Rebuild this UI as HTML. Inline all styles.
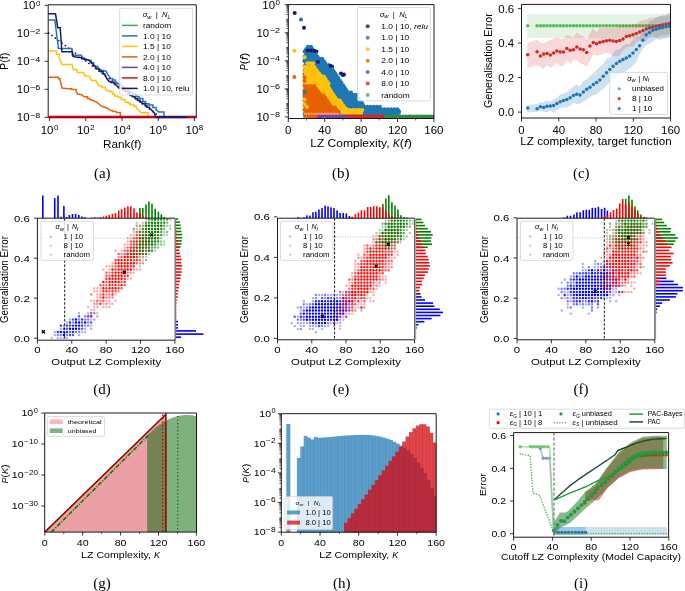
<!DOCTYPE html>
<html><head><meta charset="utf-8"><title>figure</title>
<style>html,body{margin:0;padding:0;background:#fff;overflow:hidden}svg{display:block;will-change:transform}</style>
</head><body>
<svg width="685" height="591" viewBox="0 0 685 591" shape-rendering="auto">
<rect width="685" height="591" fill="#fff"/>
<g>
<clipPath id="cpa"><rect x="48.2" y="4.8" width="148.10000000000002" height="113.39999999999999"/></clipPath>
<g clip-path="url(#cpa)">
<polyline points="48.6,33 160.5,117.3" fill="none" stroke="#2a1a6e" stroke-width="1.8" stroke-linejoin="round" stroke-linecap="round" stroke-dasharray="0.01,4.2"/>
<polyline points="48.2,77.2 55.8,77.2 58.4,77.2 58.4,78.74 59.9,78.74 59.9,79.2 61.9,88 68,88.7 71.52,88.7 71.52,89.55 76.1,89.55 76.1,91.4 77.5,94.1 81.5,94.8 84.5,96.8 87.5,96.8 87.5,98.43 89.7,98.43 89.7,99.5 93,100.5 96.4,102.2 99.5,104.5 101.8,106.3 105,107.3 108.6,109 110.5,110.5 112.3,110.5 113,111.5 116,111.5 116.5,112.6 120.3,112.6 120.3,118" fill="none" stroke="#E66100" stroke-width="1.5" stroke-linejoin="miter" stroke-linecap="butt"/>
<polyline points="48.2,51 54.5,51 56.54,51 56.54,54.35 59.2,54.35 59.2,57.6 61.9,64.4 72.1,64.4 73.4,69.8 76.8,69.8 77.5,72.5 83.6,72.5 84.9,75.9 89,75.9 91.7,80.6 95.7,80.6 99.1,86 101.99,86 101.99,87.47 105.2,87.47 105.2,88.7 108,91 110.5,91 110.5,92.03 112.7,92.03 112.7,94.1 114.77,94.1 114.77,96.05 118,96.05 118,97.2 121.21,97.2 121.21,99.38 125,99.38 125,102.2 128.09,102.2 128.09,103.31 130,103.31 130,104.5 133.55,104.5 133.55,106.27 136.3,106.27 136.3,108.1 139,110.5 141.5,112.7 148.1,112.7 148.1,118" fill="none" stroke="#FFC20A" stroke-width="1.5" stroke-linejoin="miter" stroke-linecap="butt"/>
<polyline points="48.2,20 54.9,20 58.4,48.5 71.9,48.5 72.3,55.3 81.5,55.3 82,56.9 85.5,58.9 89.6,60.4 91.33,60.4 91.33,62.72 93.7,62.72 93.7,66 95.63,66 95.63,66.39 97.8,66.39 97.8,67.6 100.9,70.1 106,71.2 108,74.7 111.1,78.8 112.63,78.8 112.63,79.98 115.2,79.98 115.2,81.4 118.2,83.9 121.6,83.9 121.6,86.56 124,86.56 124,88.5 127.32,88.5 127.32,90.17 130,90.17 130,92.5 133.04,92.5 133.04,94.23 136,94.23 136,96.5 139.06,96.5 139.06,98.53 142.9,98.53 142.9,101.5 145.61,101.5 145.61,103.76 149,103.76 149,105 152.89,105 152.89,107.57 156,107.57 156,109.4 158.6,112 163.9,112 163.9,118" fill="none" stroke="#1f77b4" stroke-width="1.5" stroke-linejoin="miter" stroke-linecap="butt"/>
<polyline points="48.2,13.8 55.5,13.8 57.8,27.8 60.2,27.8 61.9,51.7 72.4,51.7 73,56.4 78.4,57.4 81.6,57.4 81.6,58.69 84.5,58.69 84.5,59.4 88.6,59.9 90.6,62 92.7,64 95.2,66.6 96.8,69.1 99.2,69.1 99.2,70.93 100.9,70.93 100.9,71.7 103.19,71.7 103.19,73.96 104.9,73.96 104.9,75.2 107,78.8 109,81.4 110.98,81.4 110.98,82.61 114.1,82.61 114.1,83.9 117.2,86 118.7,88 122.38,88 122.38,89.93 125,89.93 125,91.5 127.98,91.5 127.98,93.04 130,93.04 130,95.5 132.46,95.5 132.46,96.7 135,96.7 135,98.5 137.55,98.5 137.55,100.34 140,100.34 140,102 141.92,102 141.92,103.41 145,103.41 145,105.5 146.94,105.5 146.94,107.3 149.4,107.3 149.4,108.1 152,110.5 154.7,113.4 155.3,117.3 186.9,117.3" fill="none" stroke="#191970" stroke-width="1.5" stroke-linejoin="miter" stroke-linecap="butt"/>
</g>
<line x1="48.2" y1="4.8" x2="48.2" y2="117.6" stroke="#000" stroke-width="0.9" stroke-linecap="butt"/>
<line x1="196.3" y1="4.8" x2="196.3" y2="117.6" stroke="#000" stroke-width="0.9" stroke-linecap="butt"/>
<line x1="48.2" y1="4.8" x2="196.3" y2="4.8" stroke="#000" stroke-width="0.9" stroke-linecap="butt"/>
<line x1="48.2" y1="117.6" x2="196.3" y2="117.6" stroke="#000" stroke-width="0.9" stroke-linecap="butt"/>
<line x1="48.5" y1="117" x2="196.3" y2="117" stroke="#c4001a" stroke-width="2.4" stroke-linecap="butt"/>
<line x1="155.3" y1="117.1" x2="186.9" y2="117.1" stroke="#191970" stroke-width="2" stroke-linecap="butt"/>
<line x1="49.6" y1="117.6" x2="49.6" y2="121.1" stroke="#000" stroke-width="0.8" stroke-linecap="butt"/>
<text x="40.76" y="133.6" font-family='"Liberation Sans", sans-serif' font-size="10.8" text-anchor="start" fill="#000" textLength="12.72" lengthAdjust="spacingAndGlyphs">10</text>
<text x="53.99" y="129.8" font-family='"Liberation Sans", sans-serif' font-size="7.56" text-anchor="start" fill="#000" textLength="4.45" lengthAdjust="spacingAndGlyphs">0</text>
<line x1="85.8" y1="117.6" x2="85.8" y2="121.1" stroke="#000" stroke-width="0.8" stroke-linecap="butt"/>
<text x="76.96" y="133.6" font-family='"Liberation Sans", sans-serif' font-size="10.8" text-anchor="start" fill="#000" textLength="12.72" lengthAdjust="spacingAndGlyphs">10</text>
<text x="90.19" y="129.8" font-family='"Liberation Sans", sans-serif' font-size="7.56" text-anchor="start" fill="#000" textLength="4.45" lengthAdjust="spacingAndGlyphs">2</text>
<line x1="122" y1="117.6" x2="122" y2="121.1" stroke="#000" stroke-width="0.8" stroke-linecap="butt"/>
<text x="113.16" y="133.6" font-family='"Liberation Sans", sans-serif' font-size="10.8" text-anchor="start" fill="#000" textLength="12.72" lengthAdjust="spacingAndGlyphs">10</text>
<text x="126.39" y="129.8" font-family='"Liberation Sans", sans-serif' font-size="7.56" text-anchor="start" fill="#000" textLength="4.45" lengthAdjust="spacingAndGlyphs">4</text>
<line x1="158.2" y1="117.6" x2="158.2" y2="121.1" stroke="#000" stroke-width="0.8" stroke-linecap="butt"/>
<text x="149.36" y="133.6" font-family='"Liberation Sans", sans-serif' font-size="10.8" text-anchor="start" fill="#000" textLength="12.72" lengthAdjust="spacingAndGlyphs">10</text>
<text x="162.59" y="129.8" font-family='"Liberation Sans", sans-serif' font-size="7.56" text-anchor="start" fill="#000" textLength="4.45" lengthAdjust="spacingAndGlyphs">6</text>
<line x1="194.4" y1="117.6" x2="194.4" y2="121.1" stroke="#000" stroke-width="0.8" stroke-linecap="butt"/>
<text x="185.56" y="133.6" font-family='"Liberation Sans", sans-serif' font-size="10.8" text-anchor="start" fill="#000" textLength="12.72" lengthAdjust="spacingAndGlyphs">10</text>
<text x="198.79" y="129.8" font-family='"Liberation Sans", sans-serif' font-size="7.56" text-anchor="start" fill="#000" textLength="4.45" lengthAdjust="spacingAndGlyphs">8</text>
<line x1="44.7" y1="5.3" x2="48.2" y2="5.3" stroke="#000" stroke-width="0.8" stroke-linecap="butt"/>
<text x="22.72" y="9.4" font-family='"Liberation Sans", sans-serif' font-size="10.8" text-anchor="start" fill="#000" textLength="12.72" lengthAdjust="spacingAndGlyphs">10</text>
<text x="35.95" y="5.6" font-family='"Liberation Sans", sans-serif' font-size="7.56" text-anchor="start" fill="#000" textLength="4.45" lengthAdjust="spacingAndGlyphs">0</text>
<line x1="44.7" y1="33.3" x2="48.2" y2="33.3" stroke="#000" stroke-width="0.8" stroke-linecap="butt"/>
<text x="16.86" y="37.4" font-family='"Liberation Sans", sans-serif' font-size="10.8" text-anchor="start" fill="#000" textLength="12.72" lengthAdjust="spacingAndGlyphs">10</text>
<text x="30.08" y="33.6" font-family='"Liberation Sans", sans-serif' font-size="7.56" text-anchor="start" fill="#000" textLength="10.32" lengthAdjust="spacingAndGlyphs">−2</text>
<line x1="44.7" y1="61.3" x2="48.2" y2="61.3" stroke="#000" stroke-width="0.8" stroke-linecap="butt"/>
<text x="16.86" y="65.4" font-family='"Liberation Sans", sans-serif' font-size="10.8" text-anchor="start" fill="#000" textLength="12.72" lengthAdjust="spacingAndGlyphs">10</text>
<text x="30.08" y="61.6" font-family='"Liberation Sans", sans-serif' font-size="7.56" text-anchor="start" fill="#000" textLength="10.32" lengthAdjust="spacingAndGlyphs">−4</text>
<line x1="44.7" y1="89.3" x2="48.2" y2="89.3" stroke="#000" stroke-width="0.8" stroke-linecap="butt"/>
<text x="16.86" y="93.4" font-family='"Liberation Sans", sans-serif' font-size="10.8" text-anchor="start" fill="#000" textLength="12.72" lengthAdjust="spacingAndGlyphs">10</text>
<text x="30.08" y="89.6" font-family='"Liberation Sans", sans-serif' font-size="7.56" text-anchor="start" fill="#000" textLength="10.32" lengthAdjust="spacingAndGlyphs">−6</text>
<line x1="44.7" y1="117.3" x2="48.2" y2="117.3" stroke="#000" stroke-width="0.8" stroke-linecap="butt"/>
<text x="16.86" y="121.4" font-family='"Liberation Sans", sans-serif' font-size="10.8" text-anchor="start" fill="#000" textLength="12.72" lengthAdjust="spacingAndGlyphs">10</text>
<text x="30.08" y="117.6" font-family='"Liberation Sans", sans-serif' font-size="7.56" text-anchor="start" fill="#000" textLength="10.32" lengthAdjust="spacingAndGlyphs">−8</text>
<text x="122.3" y="147.8" font-family='"Liberation Sans", sans-serif' font-size="11.45" text-anchor="middle" fill="#000" textLength="38.49" lengthAdjust="spacingAndGlyphs">Rank(f)</text>
<text x="8.4" y="61.3" font-family='"Liberation Sans", sans-serif' font-size="10.8" text-anchor="middle" fill="#000" textLength="17.35" lengthAdjust="spacingAndGlyphs" transform="rotate(-90 8.4 61.3)">P(f)</text>
<rect x="119.6" y="8.2" width="72.9" height="86.8" rx="1.5" fill="#fff" fill-opacity="0.8" stroke="#cccccc" stroke-width="0.7"/>
<text x="142.65" y="17.4" font-family='"Liberation Sans", sans-serif' font-size="7.88" text-anchor="start" fill="#000" font-style="italic" textLength="4.63" lengthAdjust="spacingAndGlyphs">σ</text>
<text x="147.28" y="18.86" font-family='"Liberation Sans", sans-serif' font-size="5.52" text-anchor="start" fill="#000" font-style="italic" textLength="4.18" lengthAdjust="spacingAndGlyphs">w</text>
<text x="156.75" y="17.4" font-family='"Liberation Sans", sans-serif' font-size="7.88" text-anchor="middle" fill="#000">|</text>
<text x="162.04" y="17.4" font-family='"Liberation Sans", sans-serif' font-size="7.88" text-anchor="start" fill="#000" font-style="italic" textLength="5.46" lengthAdjust="spacingAndGlyphs">N</text>
<text x="167.5" y="18.86" font-family='"Liberation Sans", sans-serif' font-size="5.52" text-anchor="start" fill="#000" font-style="italic" textLength="2.85" lengthAdjust="spacingAndGlyphs">L</text>
<line x1="121.9" y1="25.4" x2="137.7" y2="25.4" stroke="#44aa55" stroke-width="1.5" stroke-linecap="butt"/>
<text x="142.9" y="28" font-family='"Liberation Sans", sans-serif' font-size="7.88" text-anchor="start" fill="#000" textLength="28.31" lengthAdjust="spacingAndGlyphs">random</text>
<line x1="121.9" y1="35.9" x2="137.7" y2="35.9" stroke="#1f77b4" stroke-width="1.5" stroke-linecap="butt"/>
<text x="142.9" y="38.5" font-family='"Liberation Sans", sans-serif' font-size="7.88" text-anchor="start" fill="#000" textLength="28" lengthAdjust="spacingAndGlyphs">1.0 | 10</text>
<line x1="121.9" y1="46.4" x2="137.7" y2="46.4" stroke="#FFC20A" stroke-width="1.5" stroke-linecap="butt"/>
<text x="142.9" y="49" font-family='"Liberation Sans", sans-serif' font-size="7.88" text-anchor="start" fill="#000" textLength="28" lengthAdjust="spacingAndGlyphs">1.5 | 10</text>
<line x1="121.9" y1="56.9" x2="137.7" y2="56.9" stroke="#E66100" stroke-width="1.5" stroke-linecap="butt"/>
<text x="142.9" y="59.5" font-family='"Liberation Sans", sans-serif' font-size="7.88" text-anchor="start" fill="#000" textLength="28" lengthAdjust="spacingAndGlyphs">2.0 | 10</text>
<line x1="121.9" y1="67.4" x2="137.7" y2="67.4" stroke="#6a3d9a" stroke-width="1.5" stroke-linecap="butt"/>
<text x="142.9" y="70" font-family='"Liberation Sans", sans-serif' font-size="7.88" text-anchor="start" fill="#000" textLength="28" lengthAdjust="spacingAndGlyphs">4.0 | 10</text>
<line x1="121.9" y1="77.9" x2="137.7" y2="77.9" stroke="#d01020" stroke-width="1.5" stroke-linecap="butt"/>
<text x="142.9" y="80.5" font-family='"Liberation Sans", sans-serif' font-size="7.88" text-anchor="start" fill="#000" textLength="28" lengthAdjust="spacingAndGlyphs">8.0 | 10</text>
<line x1="121.9" y1="88.4" x2="137.7" y2="88.4" stroke="#191970" stroke-width="1.5" stroke-linecap="butt"/>
<text x="142.9" y="91" font-family='"Liberation Sans", sans-serif' font-size="7.88" text-anchor="start" fill="#000" textLength="46.63" lengthAdjust="spacingAndGlyphs">1.0 | 10, relu</text>
</g>
<g>
<clipPath id="cpb"><rect x="288.3" y="4.6" width="145.7" height="113.9"/></clipPath>
<g clip-path="url(#cpb)">
<circle cx="306" cy="50.2" r="2" fill="#191970"/>
<circle cx="309.5" cy="51" r="2" fill="#191970"/>
<circle cx="313" cy="50.5" r="2" fill="#191970"/>
<circle cx="316.5" cy="51.5" r="2" fill="#191970"/>
<circle cx="305.5" cy="58.5" r="2" fill="#191970"/>
<circle cx="307.5" cy="62" r="2" fill="#191970"/>
<circle cx="320.5" cy="61.5" r="2" fill="#191970"/>
<circle cx="324" cy="62" r="2" fill="#191970"/>
<circle cx="329" cy="65.3" r="2" fill="#191970"/>
<circle cx="332" cy="66.5" r="2" fill="#191970"/>
<circle cx="341" cy="73.5" r="2" fill="#191970"/>
<circle cx="344" cy="74.5" r="2" fill="#191970"/>
<circle cx="305.5" cy="84" r="2" fill="#191970"/>
<circle cx="308" cy="90" r="2" fill="#191970"/>
<circle cx="319" cy="96" r="2" fill="#191970"/>
<circle cx="330" cy="102" r="2" fill="#191970"/>
<circle cx="357" cy="95" r="2" fill="#191970"/>
<polygon points="304.6,49.5 306.5,46.8 312.5,46.8 314.5,49.5 316.5,55.5 321.5,57.8 324.5,61.5 327.5,64.5 331,65.8 335.5,71 337.5,74.8 340,78.5 343.5,84.5 348.5,90.5 352.5,92.5 356.5,95 358.5,99 363.5,101.5 365.5,106.2 380.5,106.2 381,109.2 400,109.2 400.5,112.2 400.5,114.5 304.6,114.5" fill="#1f77b4"/>
<circle cx="307.8" cy="46.8" r="2" fill="#1f77b4"/>
<circle cx="311" cy="46.8" r="2" fill="#1f77b4"/>
<circle cx="306.2" cy="49.2" r="2" fill="#1f77b4"/>
<circle cx="309.4" cy="49.2" r="2" fill="#1f77b4"/>
<circle cx="312.6" cy="49.2" r="2" fill="#1f77b4"/>
<circle cx="304.6" cy="51.6" r="2" fill="#1f77b4"/>
<circle cx="307.8" cy="51.6" r="2" fill="#1f77b4"/>
<circle cx="311" cy="51.6" r="2" fill="#1f77b4"/>
<circle cx="314.2" cy="51.6" r="2" fill="#1f77b4"/>
<circle cx="306.2" cy="54" r="2" fill="#1f77b4"/>
<circle cx="309.4" cy="54" r="2" fill="#1f77b4"/>
<circle cx="312.6" cy="54" r="2" fill="#1f77b4"/>
<circle cx="315.8" cy="54" r="2" fill="#1f77b4"/>
<circle cx="304.6" cy="56.4" r="2" fill="#1f77b4"/>
<circle cx="307.8" cy="56.4" r="2" fill="#1f77b4"/>
<circle cx="311" cy="56.4" r="2" fill="#1f77b4"/>
<circle cx="314.2" cy="56.4" r="2" fill="#1f77b4"/>
<circle cx="317.4" cy="56.4" r="2" fill="#1f77b4"/>
<circle cx="306.2" cy="58.8" r="2" fill="#1f77b4"/>
<circle cx="309.4" cy="58.8" r="2" fill="#1f77b4"/>
<circle cx="312.6" cy="58.8" r="2" fill="#1f77b4"/>
<circle cx="315.8" cy="58.8" r="2" fill="#1f77b4"/>
<circle cx="319" cy="58.8" r="2" fill="#1f77b4"/>
<circle cx="322.2" cy="58.8" r="2" fill="#1f77b4"/>
<circle cx="304.6" cy="61.2" r="2" fill="#1f77b4"/>
<circle cx="307.8" cy="61.2" r="2" fill="#1f77b4"/>
<circle cx="311" cy="61.2" r="2" fill="#1f77b4"/>
<circle cx="314.2" cy="61.2" r="2" fill="#1f77b4"/>
<circle cx="317.4" cy="61.2" r="2" fill="#1f77b4"/>
<circle cx="320.6" cy="61.2" r="2" fill="#1f77b4"/>
<circle cx="323.8" cy="61.2" r="2" fill="#1f77b4"/>
<circle cx="306.2" cy="63.6" r="2" fill="#1f77b4"/>
<circle cx="309.4" cy="63.6" r="2" fill="#1f77b4"/>
<circle cx="312.6" cy="63.6" r="2" fill="#1f77b4"/>
<circle cx="315.8" cy="63.6" r="2" fill="#1f77b4"/>
<circle cx="319" cy="63.6" r="2" fill="#1f77b4"/>
<circle cx="322.2" cy="63.6" r="2" fill="#1f77b4"/>
<circle cx="325.4" cy="63.6" r="2" fill="#1f77b4"/>
<circle cx="304.6" cy="66" r="2" fill="#1f77b4"/>
<circle cx="307.8" cy="66" r="2" fill="#1f77b4"/>
<circle cx="311" cy="66" r="2" fill="#1f77b4"/>
<circle cx="314.2" cy="66" r="2" fill="#1f77b4"/>
<circle cx="317.4" cy="66" r="2" fill="#1f77b4"/>
<circle cx="320.6" cy="66" r="2" fill="#1f77b4"/>
<circle cx="323.8" cy="66" r="2" fill="#1f77b4"/>
<circle cx="327" cy="66" r="2" fill="#1f77b4"/>
<circle cx="330.2" cy="66" r="2" fill="#1f77b4"/>
<circle cx="306.2" cy="68.4" r="2" fill="#1f77b4"/>
<circle cx="309.4" cy="68.4" r="2" fill="#1f77b4"/>
<circle cx="312.6" cy="68.4" r="2" fill="#1f77b4"/>
<circle cx="315.8" cy="68.4" r="2" fill="#1f77b4"/>
<circle cx="319" cy="68.4" r="2" fill="#1f77b4"/>
<circle cx="322.2" cy="68.4" r="2" fill="#1f77b4"/>
<circle cx="325.4" cy="68.4" r="2" fill="#1f77b4"/>
<circle cx="328.6" cy="68.4" r="2" fill="#1f77b4"/>
<circle cx="331.8" cy="68.4" r="2" fill="#1f77b4"/>
<circle cx="304.6" cy="70.8" r="2" fill="#1f77b4"/>
<circle cx="307.8" cy="70.8" r="2" fill="#1f77b4"/>
<circle cx="311" cy="70.8" r="2" fill="#1f77b4"/>
<circle cx="314.2" cy="70.8" r="2" fill="#1f77b4"/>
<circle cx="317.4" cy="70.8" r="2" fill="#1f77b4"/>
<circle cx="320.6" cy="70.8" r="2" fill="#1f77b4"/>
<circle cx="323.8" cy="70.8" r="2" fill="#1f77b4"/>
<circle cx="327" cy="70.8" r="2" fill="#1f77b4"/>
<circle cx="330.2" cy="70.8" r="2" fill="#1f77b4"/>
<circle cx="333.4" cy="70.8" r="2" fill="#1f77b4"/>
<circle cx="306.2" cy="73.2" r="2" fill="#1f77b4"/>
<circle cx="309.4" cy="73.2" r="2" fill="#1f77b4"/>
<circle cx="312.6" cy="73.2" r="2" fill="#1f77b4"/>
<circle cx="315.8" cy="73.2" r="2" fill="#1f77b4"/>
<circle cx="319" cy="73.2" r="2" fill="#1f77b4"/>
<circle cx="322.2" cy="73.2" r="2" fill="#1f77b4"/>
<circle cx="325.4" cy="73.2" r="2" fill="#1f77b4"/>
<circle cx="328.6" cy="73.2" r="2" fill="#1f77b4"/>
<circle cx="331.8" cy="73.2" r="2" fill="#1f77b4"/>
<circle cx="335" cy="73.2" r="2" fill="#1f77b4"/>
<circle cx="304.6" cy="75.6" r="2" fill="#1f77b4"/>
<circle cx="307.8" cy="75.6" r="2" fill="#1f77b4"/>
<circle cx="311" cy="75.6" r="2" fill="#1f77b4"/>
<circle cx="314.2" cy="75.6" r="2" fill="#1f77b4"/>
<circle cx="317.4" cy="75.6" r="2" fill="#1f77b4"/>
<circle cx="320.6" cy="75.6" r="2" fill="#1f77b4"/>
<circle cx="323.8" cy="75.6" r="2" fill="#1f77b4"/>
<circle cx="327" cy="75.6" r="2" fill="#1f77b4"/>
<circle cx="330.2" cy="75.6" r="2" fill="#1f77b4"/>
<circle cx="333.4" cy="75.6" r="2" fill="#1f77b4"/>
<circle cx="336.6" cy="75.6" r="2" fill="#1f77b4"/>
<circle cx="306.2" cy="78" r="2" fill="#1f77b4"/>
<circle cx="309.4" cy="78" r="2" fill="#1f77b4"/>
<circle cx="312.6" cy="78" r="2" fill="#1f77b4"/>
<circle cx="315.8" cy="78" r="2" fill="#1f77b4"/>
<circle cx="319" cy="78" r="2" fill="#1f77b4"/>
<circle cx="322.2" cy="78" r="2" fill="#1f77b4"/>
<circle cx="325.4" cy="78" r="2" fill="#1f77b4"/>
<circle cx="328.6" cy="78" r="2" fill="#1f77b4"/>
<circle cx="331.8" cy="78" r="2" fill="#1f77b4"/>
<circle cx="335" cy="78" r="2" fill="#1f77b4"/>
<circle cx="338.2" cy="78" r="2" fill="#1f77b4"/>
<circle cx="304.6" cy="80.4" r="2" fill="#1f77b4"/>
<circle cx="307.8" cy="80.4" r="2" fill="#1f77b4"/>
<circle cx="311" cy="80.4" r="2" fill="#1f77b4"/>
<circle cx="314.2" cy="80.4" r="2" fill="#1f77b4"/>
<circle cx="317.4" cy="80.4" r="2" fill="#1f77b4"/>
<circle cx="320.6" cy="80.4" r="2" fill="#1f77b4"/>
<circle cx="323.8" cy="80.4" r="2" fill="#1f77b4"/>
<circle cx="327" cy="80.4" r="2" fill="#1f77b4"/>
<circle cx="330.2" cy="80.4" r="2" fill="#1f77b4"/>
<circle cx="333.4" cy="80.4" r="2" fill="#1f77b4"/>
<circle cx="336.6" cy="80.4" r="2" fill="#1f77b4"/>
<circle cx="339.8" cy="80.4" r="2" fill="#1f77b4"/>
<circle cx="306.2" cy="82.8" r="2" fill="#1f77b4"/>
<circle cx="309.4" cy="82.8" r="2" fill="#1f77b4"/>
<circle cx="312.6" cy="82.8" r="2" fill="#1f77b4"/>
<circle cx="315.8" cy="82.8" r="2" fill="#1f77b4"/>
<circle cx="319" cy="82.8" r="2" fill="#1f77b4"/>
<circle cx="322.2" cy="82.8" r="2" fill="#1f77b4"/>
<circle cx="325.4" cy="82.8" r="2" fill="#1f77b4"/>
<circle cx="328.6" cy="82.8" r="2" fill="#1f77b4"/>
<circle cx="331.8" cy="82.8" r="2" fill="#1f77b4"/>
<circle cx="335" cy="82.8" r="2" fill="#1f77b4"/>
<circle cx="338.2" cy="82.8" r="2" fill="#1f77b4"/>
<circle cx="341.4" cy="82.8" r="2" fill="#1f77b4"/>
<circle cx="304.6" cy="85.2" r="2" fill="#1f77b4"/>
<circle cx="307.8" cy="85.2" r="2" fill="#1f77b4"/>
<circle cx="311" cy="85.2" r="2" fill="#1f77b4"/>
<circle cx="314.2" cy="85.2" r="2" fill="#1f77b4"/>
<circle cx="317.4" cy="85.2" r="2" fill="#1f77b4"/>
<circle cx="320.6" cy="85.2" r="2" fill="#1f77b4"/>
<circle cx="323.8" cy="85.2" r="2" fill="#1f77b4"/>
<circle cx="327" cy="85.2" r="2" fill="#1f77b4"/>
<circle cx="330.2" cy="85.2" r="2" fill="#1f77b4"/>
<circle cx="333.4" cy="85.2" r="2" fill="#1f77b4"/>
<circle cx="336.6" cy="85.2" r="2" fill="#1f77b4"/>
<circle cx="339.8" cy="85.2" r="2" fill="#1f77b4"/>
<circle cx="343" cy="85.2" r="2" fill="#1f77b4"/>
<circle cx="306.2" cy="87.6" r="2" fill="#1f77b4"/>
<circle cx="309.4" cy="87.6" r="2" fill="#1f77b4"/>
<circle cx="312.6" cy="87.6" r="2" fill="#1f77b4"/>
<circle cx="315.8" cy="87.6" r="2" fill="#1f77b4"/>
<circle cx="319" cy="87.6" r="2" fill="#1f77b4"/>
<circle cx="322.2" cy="87.6" r="2" fill="#1f77b4"/>
<circle cx="325.4" cy="87.6" r="2" fill="#1f77b4"/>
<circle cx="328.6" cy="87.6" r="2" fill="#1f77b4"/>
<circle cx="331.8" cy="87.6" r="2" fill="#1f77b4"/>
<circle cx="335" cy="87.6" r="2" fill="#1f77b4"/>
<circle cx="338.2" cy="87.6" r="2" fill="#1f77b4"/>
<circle cx="341.4" cy="87.6" r="2" fill="#1f77b4"/>
<circle cx="344.6" cy="87.6" r="2" fill="#1f77b4"/>
<circle cx="304.6" cy="90" r="2" fill="#1f77b4"/>
<circle cx="307.8" cy="90" r="2" fill="#1f77b4"/>
<circle cx="311" cy="90" r="2" fill="#1f77b4"/>
<circle cx="314.2" cy="90" r="2" fill="#1f77b4"/>
<circle cx="317.4" cy="90" r="2" fill="#1f77b4"/>
<circle cx="320.6" cy="90" r="2" fill="#1f77b4"/>
<circle cx="323.8" cy="90" r="2" fill="#1f77b4"/>
<circle cx="327" cy="90" r="2" fill="#1f77b4"/>
<circle cx="330.2" cy="90" r="2" fill="#1f77b4"/>
<circle cx="333.4" cy="90" r="2" fill="#1f77b4"/>
<circle cx="336.6" cy="90" r="2" fill="#1f77b4"/>
<circle cx="339.8" cy="90" r="2" fill="#1f77b4"/>
<circle cx="343" cy="90" r="2" fill="#1f77b4"/>
<circle cx="346.2" cy="90" r="2" fill="#1f77b4"/>
<circle cx="306.2" cy="92.4" r="2" fill="#1f77b4"/>
<circle cx="309.4" cy="92.4" r="2" fill="#1f77b4"/>
<circle cx="312.6" cy="92.4" r="2" fill="#1f77b4"/>
<circle cx="315.8" cy="92.4" r="2" fill="#1f77b4"/>
<circle cx="319" cy="92.4" r="2" fill="#1f77b4"/>
<circle cx="322.2" cy="92.4" r="2" fill="#1f77b4"/>
<circle cx="325.4" cy="92.4" r="2" fill="#1f77b4"/>
<circle cx="328.6" cy="92.4" r="2" fill="#1f77b4"/>
<circle cx="331.8" cy="92.4" r="2" fill="#1f77b4"/>
<circle cx="335" cy="92.4" r="2" fill="#1f77b4"/>
<circle cx="338.2" cy="92.4" r="2" fill="#1f77b4"/>
<circle cx="341.4" cy="92.4" r="2" fill="#1f77b4"/>
<circle cx="344.6" cy="92.4" r="2" fill="#1f77b4"/>
<circle cx="347.8" cy="92.4" r="2" fill="#1f77b4"/>
<circle cx="351" cy="92.4" r="2" fill="#1f77b4"/>
<circle cx="304.6" cy="94.8" r="2" fill="#1f77b4"/>
<circle cx="307.8" cy="94.8" r="2" fill="#1f77b4"/>
<circle cx="311" cy="94.8" r="2" fill="#1f77b4"/>
<circle cx="314.2" cy="94.8" r="2" fill="#1f77b4"/>
<circle cx="317.4" cy="94.8" r="2" fill="#1f77b4"/>
<circle cx="320.6" cy="94.8" r="2" fill="#1f77b4"/>
<circle cx="323.8" cy="94.8" r="2" fill="#1f77b4"/>
<circle cx="327" cy="94.8" r="2" fill="#1f77b4"/>
<circle cx="330.2" cy="94.8" r="2" fill="#1f77b4"/>
<circle cx="333.4" cy="94.8" r="2" fill="#1f77b4"/>
<circle cx="336.6" cy="94.8" r="2" fill="#1f77b4"/>
<circle cx="339.8" cy="94.8" r="2" fill="#1f77b4"/>
<circle cx="343" cy="94.8" r="2" fill="#1f77b4"/>
<circle cx="346.2" cy="94.8" r="2" fill="#1f77b4"/>
<circle cx="349.4" cy="94.8" r="2" fill="#1f77b4"/>
<circle cx="352.6" cy="94.8" r="2" fill="#1f77b4"/>
<circle cx="355.8" cy="94.8" r="2" fill="#1f77b4"/>
<circle cx="306.2" cy="97.2" r="2" fill="#1f77b4"/>
<circle cx="309.4" cy="97.2" r="2" fill="#1f77b4"/>
<circle cx="312.6" cy="97.2" r="2" fill="#1f77b4"/>
<circle cx="315.8" cy="97.2" r="2" fill="#1f77b4"/>
<circle cx="319" cy="97.2" r="2" fill="#1f77b4"/>
<circle cx="322.2" cy="97.2" r="2" fill="#1f77b4"/>
<circle cx="325.4" cy="97.2" r="2" fill="#1f77b4"/>
<circle cx="328.6" cy="97.2" r="2" fill="#1f77b4"/>
<circle cx="331.8" cy="97.2" r="2" fill="#1f77b4"/>
<circle cx="335" cy="97.2" r="2" fill="#1f77b4"/>
<circle cx="338.2" cy="97.2" r="2" fill="#1f77b4"/>
<circle cx="341.4" cy="97.2" r="2" fill="#1f77b4"/>
<circle cx="344.6" cy="97.2" r="2" fill="#1f77b4"/>
<circle cx="347.8" cy="97.2" r="2" fill="#1f77b4"/>
<circle cx="351" cy="97.2" r="2" fill="#1f77b4"/>
<circle cx="354.2" cy="97.2" r="2" fill="#1f77b4"/>
<circle cx="357.4" cy="97.2" r="2" fill="#1f77b4"/>
<circle cx="304.6" cy="99.6" r="2" fill="#1f77b4"/>
<circle cx="307.8" cy="99.6" r="2" fill="#1f77b4"/>
<circle cx="311" cy="99.6" r="2" fill="#1f77b4"/>
<circle cx="314.2" cy="99.6" r="2" fill="#1f77b4"/>
<circle cx="317.4" cy="99.6" r="2" fill="#1f77b4"/>
<circle cx="320.6" cy="99.6" r="2" fill="#1f77b4"/>
<circle cx="323.8" cy="99.6" r="2" fill="#1f77b4"/>
<circle cx="327" cy="99.6" r="2" fill="#1f77b4"/>
<circle cx="330.2" cy="99.6" r="2" fill="#1f77b4"/>
<circle cx="333.4" cy="99.6" r="2" fill="#1f77b4"/>
<circle cx="336.6" cy="99.6" r="2" fill="#1f77b4"/>
<circle cx="339.8" cy="99.6" r="2" fill="#1f77b4"/>
<circle cx="343" cy="99.6" r="2" fill="#1f77b4"/>
<circle cx="346.2" cy="99.6" r="2" fill="#1f77b4"/>
<circle cx="349.4" cy="99.6" r="2" fill="#1f77b4"/>
<circle cx="352.6" cy="99.6" r="2" fill="#1f77b4"/>
<circle cx="355.8" cy="99.6" r="2" fill="#1f77b4"/>
<circle cx="359" cy="99.6" r="2" fill="#1f77b4"/>
<circle cx="306.2" cy="102" r="2" fill="#1f77b4"/>
<circle cx="309.4" cy="102" r="2" fill="#1f77b4"/>
<circle cx="312.6" cy="102" r="2" fill="#1f77b4"/>
<circle cx="315.8" cy="102" r="2" fill="#1f77b4"/>
<circle cx="319" cy="102" r="2" fill="#1f77b4"/>
<circle cx="322.2" cy="102" r="2" fill="#1f77b4"/>
<circle cx="325.4" cy="102" r="2" fill="#1f77b4"/>
<circle cx="328.6" cy="102" r="2" fill="#1f77b4"/>
<circle cx="331.8" cy="102" r="2" fill="#1f77b4"/>
<circle cx="335" cy="102" r="2" fill="#1f77b4"/>
<circle cx="338.2" cy="102" r="2" fill="#1f77b4"/>
<circle cx="341.4" cy="102" r="2" fill="#1f77b4"/>
<circle cx="344.6" cy="102" r="2" fill="#1f77b4"/>
<circle cx="347.8" cy="102" r="2" fill="#1f77b4"/>
<circle cx="351" cy="102" r="2" fill="#1f77b4"/>
<circle cx="354.2" cy="102" r="2" fill="#1f77b4"/>
<circle cx="357.4" cy="102" r="2" fill="#1f77b4"/>
<circle cx="360.6" cy="102" r="2" fill="#1f77b4"/>
<circle cx="304.6" cy="104.4" r="2" fill="#1f77b4"/>
<circle cx="307.8" cy="104.4" r="2" fill="#1f77b4"/>
<circle cx="311" cy="104.4" r="2" fill="#1f77b4"/>
<circle cx="314.2" cy="104.4" r="2" fill="#1f77b4"/>
<circle cx="317.4" cy="104.4" r="2" fill="#1f77b4"/>
<circle cx="320.6" cy="104.4" r="2" fill="#1f77b4"/>
<circle cx="323.8" cy="104.4" r="2" fill="#1f77b4"/>
<circle cx="327" cy="104.4" r="2" fill="#1f77b4"/>
<circle cx="330.2" cy="104.4" r="2" fill="#1f77b4"/>
<circle cx="333.4" cy="104.4" r="2" fill="#1f77b4"/>
<circle cx="336.6" cy="104.4" r="2" fill="#1f77b4"/>
<circle cx="339.8" cy="104.4" r="2" fill="#1f77b4"/>
<circle cx="343" cy="104.4" r="2" fill="#1f77b4"/>
<circle cx="346.2" cy="104.4" r="2" fill="#1f77b4"/>
<circle cx="349.4" cy="104.4" r="2" fill="#1f77b4"/>
<circle cx="352.6" cy="104.4" r="2" fill="#1f77b4"/>
<circle cx="355.8" cy="104.4" r="2" fill="#1f77b4"/>
<circle cx="359" cy="104.4" r="2" fill="#1f77b4"/>
<circle cx="362.2" cy="104.4" r="2" fill="#1f77b4"/>
<circle cx="306.2" cy="106.8" r="2" fill="#1f77b4"/>
<circle cx="309.4" cy="106.8" r="2" fill="#1f77b4"/>
<circle cx="312.6" cy="106.8" r="2" fill="#1f77b4"/>
<circle cx="315.8" cy="106.8" r="2" fill="#1f77b4"/>
<circle cx="319" cy="106.8" r="2" fill="#1f77b4"/>
<circle cx="322.2" cy="106.8" r="2" fill="#1f77b4"/>
<circle cx="325.4" cy="106.8" r="2" fill="#1f77b4"/>
<circle cx="328.6" cy="106.8" r="2" fill="#1f77b4"/>
<circle cx="331.8" cy="106.8" r="2" fill="#1f77b4"/>
<circle cx="335" cy="106.8" r="2" fill="#1f77b4"/>
<circle cx="338.2" cy="106.8" r="2" fill="#1f77b4"/>
<circle cx="341.4" cy="106.8" r="2" fill="#1f77b4"/>
<circle cx="344.6" cy="106.8" r="2" fill="#1f77b4"/>
<circle cx="347.8" cy="106.8" r="2" fill="#1f77b4"/>
<circle cx="351" cy="106.8" r="2" fill="#1f77b4"/>
<circle cx="354.2" cy="106.8" r="2" fill="#1f77b4"/>
<circle cx="357.4" cy="106.8" r="2" fill="#1f77b4"/>
<circle cx="360.6" cy="106.8" r="2" fill="#1f77b4"/>
<circle cx="363.8" cy="106.8" r="2" fill="#1f77b4"/>
<circle cx="367" cy="106.8" r="2" fill="#1f77b4"/>
<circle cx="370.2" cy="106.8" r="2" fill="#1f77b4"/>
<circle cx="373.4" cy="106.8" r="2" fill="#1f77b4"/>
<circle cx="376.6" cy="106.8" r="2" fill="#1f77b4"/>
<circle cx="379.8" cy="106.8" r="2" fill="#1f77b4"/>
<circle cx="304.6" cy="109.2" r="2" fill="#1f77b4"/>
<circle cx="307.8" cy="109.2" r="2" fill="#1f77b4"/>
<circle cx="311" cy="109.2" r="2" fill="#1f77b4"/>
<circle cx="314.2" cy="109.2" r="2" fill="#1f77b4"/>
<circle cx="317.4" cy="109.2" r="2" fill="#1f77b4"/>
<circle cx="320.6" cy="109.2" r="2" fill="#1f77b4"/>
<circle cx="323.8" cy="109.2" r="2" fill="#1f77b4"/>
<circle cx="327" cy="109.2" r="2" fill="#1f77b4"/>
<circle cx="330.2" cy="109.2" r="2" fill="#1f77b4"/>
<circle cx="333.4" cy="109.2" r="2" fill="#1f77b4"/>
<circle cx="336.6" cy="109.2" r="2" fill="#1f77b4"/>
<circle cx="339.8" cy="109.2" r="2" fill="#1f77b4"/>
<circle cx="343" cy="109.2" r="2" fill="#1f77b4"/>
<circle cx="346.2" cy="109.2" r="2" fill="#1f77b4"/>
<circle cx="349.4" cy="109.2" r="2" fill="#1f77b4"/>
<circle cx="352.6" cy="109.2" r="2" fill="#1f77b4"/>
<circle cx="355.8" cy="109.2" r="2" fill="#1f77b4"/>
<circle cx="359" cy="109.2" r="2" fill="#1f77b4"/>
<circle cx="362.2" cy="109.2" r="2" fill="#1f77b4"/>
<circle cx="365.4" cy="109.2" r="2" fill="#1f77b4"/>
<circle cx="368.6" cy="109.2" r="2" fill="#1f77b4"/>
<circle cx="371.8" cy="109.2" r="2" fill="#1f77b4"/>
<circle cx="375" cy="109.2" r="2" fill="#1f77b4"/>
<circle cx="378.2" cy="109.2" r="2" fill="#1f77b4"/>
<circle cx="381.4" cy="109.2" r="2" fill="#1f77b4"/>
<circle cx="384.6" cy="109.2" r="2" fill="#1f77b4"/>
<circle cx="387.8" cy="109.2" r="2" fill="#1f77b4"/>
<circle cx="391" cy="109.2" r="2" fill="#1f77b4"/>
<circle cx="394.2" cy="109.2" r="2" fill="#1f77b4"/>
<circle cx="397.4" cy="109.2" r="2" fill="#1f77b4"/>
<circle cx="306.2" cy="111.6" r="2" fill="#1f77b4"/>
<circle cx="309.4" cy="111.6" r="2" fill="#1f77b4"/>
<circle cx="312.6" cy="111.6" r="2" fill="#1f77b4"/>
<circle cx="315.8" cy="111.6" r="2" fill="#1f77b4"/>
<circle cx="319" cy="111.6" r="2" fill="#1f77b4"/>
<circle cx="322.2" cy="111.6" r="2" fill="#1f77b4"/>
<circle cx="325.4" cy="111.6" r="2" fill="#1f77b4"/>
<circle cx="328.6" cy="111.6" r="2" fill="#1f77b4"/>
<circle cx="331.8" cy="111.6" r="2" fill="#1f77b4"/>
<circle cx="335" cy="111.6" r="2" fill="#1f77b4"/>
<circle cx="338.2" cy="111.6" r="2" fill="#1f77b4"/>
<circle cx="341.4" cy="111.6" r="2" fill="#1f77b4"/>
<circle cx="344.6" cy="111.6" r="2" fill="#1f77b4"/>
<circle cx="347.8" cy="111.6" r="2" fill="#1f77b4"/>
<circle cx="351" cy="111.6" r="2" fill="#1f77b4"/>
<circle cx="354.2" cy="111.6" r="2" fill="#1f77b4"/>
<circle cx="357.4" cy="111.6" r="2" fill="#1f77b4"/>
<circle cx="360.6" cy="111.6" r="2" fill="#1f77b4"/>
<circle cx="363.8" cy="111.6" r="2" fill="#1f77b4"/>
<circle cx="367" cy="111.6" r="2" fill="#1f77b4"/>
<circle cx="370.2" cy="111.6" r="2" fill="#1f77b4"/>
<circle cx="373.4" cy="111.6" r="2" fill="#1f77b4"/>
<circle cx="376.6" cy="111.6" r="2" fill="#1f77b4"/>
<circle cx="379.8" cy="111.6" r="2" fill="#1f77b4"/>
<circle cx="383" cy="111.6" r="2" fill="#1f77b4"/>
<circle cx="386.2" cy="111.6" r="2" fill="#1f77b4"/>
<circle cx="389.4" cy="111.6" r="2" fill="#1f77b4"/>
<circle cx="392.6" cy="111.6" r="2" fill="#1f77b4"/>
<circle cx="395.8" cy="111.6" r="2" fill="#1f77b4"/>
<circle cx="399" cy="111.6" r="2" fill="#1f77b4"/>
<circle cx="304.6" cy="114" r="2" fill="#1f77b4"/>
<circle cx="307.8" cy="114" r="2" fill="#1f77b4"/>
<circle cx="311" cy="114" r="2" fill="#1f77b4"/>
<circle cx="314.2" cy="114" r="2" fill="#1f77b4"/>
<circle cx="317.4" cy="114" r="2" fill="#1f77b4"/>
<circle cx="320.6" cy="114" r="2" fill="#1f77b4"/>
<circle cx="323.8" cy="114" r="2" fill="#1f77b4"/>
<circle cx="327" cy="114" r="2" fill="#1f77b4"/>
<circle cx="330.2" cy="114" r="2" fill="#1f77b4"/>
<circle cx="333.4" cy="114" r="2" fill="#1f77b4"/>
<circle cx="336.6" cy="114" r="2" fill="#1f77b4"/>
<circle cx="339.8" cy="114" r="2" fill="#1f77b4"/>
<circle cx="343" cy="114" r="2" fill="#1f77b4"/>
<circle cx="346.2" cy="114" r="2" fill="#1f77b4"/>
<circle cx="349.4" cy="114" r="2" fill="#1f77b4"/>
<circle cx="352.6" cy="114" r="2" fill="#1f77b4"/>
<circle cx="355.8" cy="114" r="2" fill="#1f77b4"/>
<circle cx="359" cy="114" r="2" fill="#1f77b4"/>
<circle cx="362.2" cy="114" r="2" fill="#1f77b4"/>
<circle cx="365.4" cy="114" r="2" fill="#1f77b4"/>
<circle cx="368.6" cy="114" r="2" fill="#1f77b4"/>
<circle cx="371.8" cy="114" r="2" fill="#1f77b4"/>
<circle cx="375" cy="114" r="2" fill="#1f77b4"/>
<circle cx="378.2" cy="114" r="2" fill="#1f77b4"/>
<circle cx="381.4" cy="114" r="2" fill="#1f77b4"/>
<circle cx="384.6" cy="114" r="2" fill="#1f77b4"/>
<circle cx="387.8" cy="114" r="2" fill="#1f77b4"/>
<circle cx="391" cy="114" r="2" fill="#1f77b4"/>
<circle cx="394.2" cy="114" r="2" fill="#1f77b4"/>
<circle cx="397.4" cy="114" r="2" fill="#1f77b4"/>
<circle cx="307.5" cy="50.5" r="1.9" fill="#191970"/>
<circle cx="311" cy="50.5" r="1.9" fill="#191970"/>
<circle cx="314.5" cy="51" r="1.9" fill="#191970"/>
<circle cx="318" cy="61.8" r="1.9" fill="#191970"/>
<circle cx="330.5" cy="66" r="1.9" fill="#191970"/>
<circle cx="343" cy="75.2" r="1.9" fill="#191970"/>
<circle cx="304.6" cy="60.5" r="2" fill="#1f77b4"/>
<circle cx="304.6" cy="73.5" r="2" fill="#1f77b4"/>
<circle cx="304.6" cy="93.5" r="2" fill="#1f77b4"/>
<circle cx="304.6" cy="97" r="2" fill="#1f77b4"/>
<polygon points="304.6,66.8 308.5,66.8 315.5,66.8 317.5,70 321.5,73.5 325.5,78.5 329.5,85 333.5,92 337.5,97.5 341.5,102.5 346.5,107 350,109 362.5,109.5 363,112.5 363,114.5 304.6,114.5" fill="#FFC20A"/>
<circle cx="304.6" cy="66.8" r="2" fill="#FFC20A"/>
<circle cx="307.8" cy="66.8" r="2" fill="#FFC20A"/>
<circle cx="311" cy="66.8" r="2" fill="#FFC20A"/>
<circle cx="314.2" cy="66.8" r="2" fill="#FFC20A"/>
<circle cx="306.2" cy="69.2" r="2" fill="#FFC20A"/>
<circle cx="309.4" cy="69.2" r="2" fill="#FFC20A"/>
<circle cx="312.6" cy="69.2" r="2" fill="#FFC20A"/>
<circle cx="315.8" cy="69.2" r="2" fill="#FFC20A"/>
<circle cx="304.6" cy="71.6" r="2" fill="#FFC20A"/>
<circle cx="307.8" cy="71.6" r="2" fill="#FFC20A"/>
<circle cx="311" cy="71.6" r="2" fill="#FFC20A"/>
<circle cx="314.2" cy="71.6" r="2" fill="#FFC20A"/>
<circle cx="317.4" cy="71.6" r="2" fill="#FFC20A"/>
<circle cx="306.2" cy="74" r="2" fill="#FFC20A"/>
<circle cx="309.4" cy="74" r="2" fill="#FFC20A"/>
<circle cx="312.6" cy="74" r="2" fill="#FFC20A"/>
<circle cx="315.8" cy="74" r="2" fill="#FFC20A"/>
<circle cx="319" cy="74" r="2" fill="#FFC20A"/>
<circle cx="304.6" cy="76.4" r="2" fill="#FFC20A"/>
<circle cx="307.8" cy="76.4" r="2" fill="#FFC20A"/>
<circle cx="311" cy="76.4" r="2" fill="#FFC20A"/>
<circle cx="314.2" cy="76.4" r="2" fill="#FFC20A"/>
<circle cx="317.4" cy="76.4" r="2" fill="#FFC20A"/>
<circle cx="320.6" cy="76.4" r="2" fill="#FFC20A"/>
<circle cx="323.8" cy="76.4" r="2" fill="#FFC20A"/>
<circle cx="306.2" cy="78.8" r="2" fill="#FFC20A"/>
<circle cx="309.4" cy="78.8" r="2" fill="#FFC20A"/>
<circle cx="312.6" cy="78.8" r="2" fill="#FFC20A"/>
<circle cx="315.8" cy="78.8" r="2" fill="#FFC20A"/>
<circle cx="319" cy="78.8" r="2" fill="#FFC20A"/>
<circle cx="322.2" cy="78.8" r="2" fill="#FFC20A"/>
<circle cx="325.4" cy="78.8" r="2" fill="#FFC20A"/>
<circle cx="304.6" cy="81.2" r="2" fill="#FFC20A"/>
<circle cx="307.8" cy="81.2" r="2" fill="#FFC20A"/>
<circle cx="311" cy="81.2" r="2" fill="#FFC20A"/>
<circle cx="314.2" cy="81.2" r="2" fill="#FFC20A"/>
<circle cx="317.4" cy="81.2" r="2" fill="#FFC20A"/>
<circle cx="320.6" cy="81.2" r="2" fill="#FFC20A"/>
<circle cx="323.8" cy="81.2" r="2" fill="#FFC20A"/>
<circle cx="327" cy="81.2" r="2" fill="#FFC20A"/>
<circle cx="306.2" cy="83.6" r="2" fill="#FFC20A"/>
<circle cx="309.4" cy="83.6" r="2" fill="#FFC20A"/>
<circle cx="312.6" cy="83.6" r="2" fill="#FFC20A"/>
<circle cx="315.8" cy="83.6" r="2" fill="#FFC20A"/>
<circle cx="319" cy="83.6" r="2" fill="#FFC20A"/>
<circle cx="322.2" cy="83.6" r="2" fill="#FFC20A"/>
<circle cx="325.4" cy="83.6" r="2" fill="#FFC20A"/>
<circle cx="328.6" cy="83.6" r="2" fill="#FFC20A"/>
<circle cx="304.6" cy="86" r="2" fill="#FFC20A"/>
<circle cx="307.8" cy="86" r="2" fill="#FFC20A"/>
<circle cx="311" cy="86" r="2" fill="#FFC20A"/>
<circle cx="314.2" cy="86" r="2" fill="#FFC20A"/>
<circle cx="317.4" cy="86" r="2" fill="#FFC20A"/>
<circle cx="320.6" cy="86" r="2" fill="#FFC20A"/>
<circle cx="323.8" cy="86" r="2" fill="#FFC20A"/>
<circle cx="327" cy="86" r="2" fill="#FFC20A"/>
<circle cx="306.2" cy="88.4" r="2" fill="#FFC20A"/>
<circle cx="309.4" cy="88.4" r="2" fill="#FFC20A"/>
<circle cx="312.6" cy="88.4" r="2" fill="#FFC20A"/>
<circle cx="315.8" cy="88.4" r="2" fill="#FFC20A"/>
<circle cx="319" cy="88.4" r="2" fill="#FFC20A"/>
<circle cx="322.2" cy="88.4" r="2" fill="#FFC20A"/>
<circle cx="325.4" cy="88.4" r="2" fill="#FFC20A"/>
<circle cx="328.6" cy="88.4" r="2" fill="#FFC20A"/>
<circle cx="304.6" cy="90.8" r="2" fill="#FFC20A"/>
<circle cx="307.8" cy="90.8" r="2" fill="#FFC20A"/>
<circle cx="311" cy="90.8" r="2" fill="#FFC20A"/>
<circle cx="314.2" cy="90.8" r="2" fill="#FFC20A"/>
<circle cx="317.4" cy="90.8" r="2" fill="#FFC20A"/>
<circle cx="320.6" cy="90.8" r="2" fill="#FFC20A"/>
<circle cx="323.8" cy="90.8" r="2" fill="#FFC20A"/>
<circle cx="327" cy="90.8" r="2" fill="#FFC20A"/>
<circle cx="330.2" cy="90.8" r="2" fill="#FFC20A"/>
<circle cx="306.2" cy="93.2" r="2" fill="#FFC20A"/>
<circle cx="309.4" cy="93.2" r="2" fill="#FFC20A"/>
<circle cx="312.6" cy="93.2" r="2" fill="#FFC20A"/>
<circle cx="315.8" cy="93.2" r="2" fill="#FFC20A"/>
<circle cx="319" cy="93.2" r="2" fill="#FFC20A"/>
<circle cx="322.2" cy="93.2" r="2" fill="#FFC20A"/>
<circle cx="325.4" cy="93.2" r="2" fill="#FFC20A"/>
<circle cx="328.6" cy="93.2" r="2" fill="#FFC20A"/>
<circle cx="331.8" cy="93.2" r="2" fill="#FFC20A"/>
<circle cx="304.6" cy="95.6" r="2" fill="#FFC20A"/>
<circle cx="307.8" cy="95.6" r="2" fill="#FFC20A"/>
<circle cx="311" cy="95.6" r="2" fill="#FFC20A"/>
<circle cx="314.2" cy="95.6" r="2" fill="#FFC20A"/>
<circle cx="317.4" cy="95.6" r="2" fill="#FFC20A"/>
<circle cx="320.6" cy="95.6" r="2" fill="#FFC20A"/>
<circle cx="323.8" cy="95.6" r="2" fill="#FFC20A"/>
<circle cx="327" cy="95.6" r="2" fill="#FFC20A"/>
<circle cx="330.2" cy="95.6" r="2" fill="#FFC20A"/>
<circle cx="333.4" cy="95.6" r="2" fill="#FFC20A"/>
<circle cx="306.2" cy="98" r="2" fill="#FFC20A"/>
<circle cx="309.4" cy="98" r="2" fill="#FFC20A"/>
<circle cx="312.6" cy="98" r="2" fill="#FFC20A"/>
<circle cx="315.8" cy="98" r="2" fill="#FFC20A"/>
<circle cx="319" cy="98" r="2" fill="#FFC20A"/>
<circle cx="322.2" cy="98" r="2" fill="#FFC20A"/>
<circle cx="325.4" cy="98" r="2" fill="#FFC20A"/>
<circle cx="328.6" cy="98" r="2" fill="#FFC20A"/>
<circle cx="331.8" cy="98" r="2" fill="#FFC20A"/>
<circle cx="335" cy="98" r="2" fill="#FFC20A"/>
<circle cx="304.6" cy="100.4" r="2" fill="#FFC20A"/>
<circle cx="307.8" cy="100.4" r="2" fill="#FFC20A"/>
<circle cx="311" cy="100.4" r="2" fill="#FFC20A"/>
<circle cx="314.2" cy="100.4" r="2" fill="#FFC20A"/>
<circle cx="317.4" cy="100.4" r="2" fill="#FFC20A"/>
<circle cx="320.6" cy="100.4" r="2" fill="#FFC20A"/>
<circle cx="323.8" cy="100.4" r="2" fill="#FFC20A"/>
<circle cx="327" cy="100.4" r="2" fill="#FFC20A"/>
<circle cx="330.2" cy="100.4" r="2" fill="#FFC20A"/>
<circle cx="333.4" cy="100.4" r="2" fill="#FFC20A"/>
<circle cx="336.6" cy="100.4" r="2" fill="#FFC20A"/>
<circle cx="339.8" cy="100.4" r="2" fill="#FFC20A"/>
<circle cx="306.2" cy="102.8" r="2" fill="#FFC20A"/>
<circle cx="309.4" cy="102.8" r="2" fill="#FFC20A"/>
<circle cx="312.6" cy="102.8" r="2" fill="#FFC20A"/>
<circle cx="315.8" cy="102.8" r="2" fill="#FFC20A"/>
<circle cx="319" cy="102.8" r="2" fill="#FFC20A"/>
<circle cx="322.2" cy="102.8" r="2" fill="#FFC20A"/>
<circle cx="325.4" cy="102.8" r="2" fill="#FFC20A"/>
<circle cx="328.6" cy="102.8" r="2" fill="#FFC20A"/>
<circle cx="331.8" cy="102.8" r="2" fill="#FFC20A"/>
<circle cx="335" cy="102.8" r="2" fill="#FFC20A"/>
<circle cx="338.2" cy="102.8" r="2" fill="#FFC20A"/>
<circle cx="341.4" cy="102.8" r="2" fill="#FFC20A"/>
<circle cx="304.6" cy="105.2" r="2" fill="#FFC20A"/>
<circle cx="307.8" cy="105.2" r="2" fill="#FFC20A"/>
<circle cx="311" cy="105.2" r="2" fill="#FFC20A"/>
<circle cx="314.2" cy="105.2" r="2" fill="#FFC20A"/>
<circle cx="317.4" cy="105.2" r="2" fill="#FFC20A"/>
<circle cx="320.6" cy="105.2" r="2" fill="#FFC20A"/>
<circle cx="323.8" cy="105.2" r="2" fill="#FFC20A"/>
<circle cx="327" cy="105.2" r="2" fill="#FFC20A"/>
<circle cx="330.2" cy="105.2" r="2" fill="#FFC20A"/>
<circle cx="333.4" cy="105.2" r="2" fill="#FFC20A"/>
<circle cx="336.6" cy="105.2" r="2" fill="#FFC20A"/>
<circle cx="339.8" cy="105.2" r="2" fill="#FFC20A"/>
<circle cx="343" cy="105.2" r="2" fill="#FFC20A"/>
<circle cx="306.2" cy="107.6" r="2" fill="#FFC20A"/>
<circle cx="309.4" cy="107.6" r="2" fill="#FFC20A"/>
<circle cx="312.6" cy="107.6" r="2" fill="#FFC20A"/>
<circle cx="315.8" cy="107.6" r="2" fill="#FFC20A"/>
<circle cx="319" cy="107.6" r="2" fill="#FFC20A"/>
<circle cx="322.2" cy="107.6" r="2" fill="#FFC20A"/>
<circle cx="325.4" cy="107.6" r="2" fill="#FFC20A"/>
<circle cx="328.6" cy="107.6" r="2" fill="#FFC20A"/>
<circle cx="331.8" cy="107.6" r="2" fill="#FFC20A"/>
<circle cx="335" cy="107.6" r="2" fill="#FFC20A"/>
<circle cx="338.2" cy="107.6" r="2" fill="#FFC20A"/>
<circle cx="341.4" cy="107.6" r="2" fill="#FFC20A"/>
<circle cx="344.6" cy="107.6" r="2" fill="#FFC20A"/>
<circle cx="304.6" cy="110" r="2" fill="#FFC20A"/>
<circle cx="307.8" cy="110" r="2" fill="#FFC20A"/>
<circle cx="311" cy="110" r="2" fill="#FFC20A"/>
<circle cx="314.2" cy="110" r="2" fill="#FFC20A"/>
<circle cx="317.4" cy="110" r="2" fill="#FFC20A"/>
<circle cx="320.6" cy="110" r="2" fill="#FFC20A"/>
<circle cx="323.8" cy="110" r="2" fill="#FFC20A"/>
<circle cx="327" cy="110" r="2" fill="#FFC20A"/>
<circle cx="330.2" cy="110" r="2" fill="#FFC20A"/>
<circle cx="333.4" cy="110" r="2" fill="#FFC20A"/>
<circle cx="336.6" cy="110" r="2" fill="#FFC20A"/>
<circle cx="339.8" cy="110" r="2" fill="#FFC20A"/>
<circle cx="343" cy="110" r="2" fill="#FFC20A"/>
<circle cx="346.2" cy="110" r="2" fill="#FFC20A"/>
<circle cx="349.4" cy="110" r="2" fill="#FFC20A"/>
<circle cx="352.6" cy="110" r="2" fill="#FFC20A"/>
<circle cx="355.8" cy="110" r="2" fill="#FFC20A"/>
<circle cx="359" cy="110" r="2" fill="#FFC20A"/>
<circle cx="362.2" cy="110" r="2" fill="#FFC20A"/>
<circle cx="306.2" cy="112.4" r="2" fill="#FFC20A"/>
<circle cx="309.4" cy="112.4" r="2" fill="#FFC20A"/>
<circle cx="312.6" cy="112.4" r="2" fill="#FFC20A"/>
<circle cx="315.8" cy="112.4" r="2" fill="#FFC20A"/>
<circle cx="319" cy="112.4" r="2" fill="#FFC20A"/>
<circle cx="322.2" cy="112.4" r="2" fill="#FFC20A"/>
<circle cx="325.4" cy="112.4" r="2" fill="#FFC20A"/>
<circle cx="328.6" cy="112.4" r="2" fill="#FFC20A"/>
<circle cx="331.8" cy="112.4" r="2" fill="#FFC20A"/>
<circle cx="335" cy="112.4" r="2" fill="#FFC20A"/>
<circle cx="338.2" cy="112.4" r="2" fill="#FFC20A"/>
<circle cx="341.4" cy="112.4" r="2" fill="#FFC20A"/>
<circle cx="344.6" cy="112.4" r="2" fill="#FFC20A"/>
<circle cx="347.8" cy="112.4" r="2" fill="#FFC20A"/>
<circle cx="351" cy="112.4" r="2" fill="#FFC20A"/>
<circle cx="354.2" cy="112.4" r="2" fill="#FFC20A"/>
<circle cx="357.4" cy="112.4" r="2" fill="#FFC20A"/>
<circle cx="360.6" cy="112.4" r="2" fill="#FFC20A"/>
<circle cx="304.6" cy="57.2" r="2" fill="#FFC20A"/>
<circle cx="307.5" cy="63.3" r="2" fill="#FFC20A"/>
<circle cx="310.5" cy="63.3" r="2" fill="#FFC20A"/>
<circle cx="313" cy="63.3" r="2" fill="#FFC20A"/>
<polygon points="304.6,86 306.5,86 315.5,86 317.5,88.5 320.5,91.5 325.5,97.5 330,103.5 335.5,107.5 340.5,110.5 340.5,114.5 304.6,114.5" fill="#E66100"/>
<circle cx="304.6" cy="86" r="2" fill="#E66100"/>
<circle cx="307.8" cy="86" r="2" fill="#E66100"/>
<circle cx="311" cy="86" r="2" fill="#E66100"/>
<circle cx="314.2" cy="86" r="2" fill="#E66100"/>
<circle cx="306.2" cy="88.4" r="2" fill="#E66100"/>
<circle cx="309.4" cy="88.4" r="2" fill="#E66100"/>
<circle cx="312.6" cy="88.4" r="2" fill="#E66100"/>
<circle cx="315.8" cy="88.4" r="2" fill="#E66100"/>
<circle cx="304.6" cy="90.8" r="2" fill="#E66100"/>
<circle cx="307.8" cy="90.8" r="2" fill="#E66100"/>
<circle cx="311" cy="90.8" r="2" fill="#E66100"/>
<circle cx="314.2" cy="90.8" r="2" fill="#E66100"/>
<circle cx="317.4" cy="90.8" r="2" fill="#E66100"/>
<circle cx="306.2" cy="93.2" r="2" fill="#E66100"/>
<circle cx="309.4" cy="93.2" r="2" fill="#E66100"/>
<circle cx="312.6" cy="93.2" r="2" fill="#E66100"/>
<circle cx="315.8" cy="93.2" r="2" fill="#E66100"/>
<circle cx="319" cy="93.2" r="2" fill="#E66100"/>
<circle cx="304.6" cy="95.6" r="2" fill="#E66100"/>
<circle cx="307.8" cy="95.6" r="2" fill="#E66100"/>
<circle cx="311" cy="95.6" r="2" fill="#E66100"/>
<circle cx="314.2" cy="95.6" r="2" fill="#E66100"/>
<circle cx="317.4" cy="95.6" r="2" fill="#E66100"/>
<circle cx="320.6" cy="95.6" r="2" fill="#E66100"/>
<circle cx="323.8" cy="95.6" r="2" fill="#E66100"/>
<circle cx="306.2" cy="98" r="2" fill="#E66100"/>
<circle cx="309.4" cy="98" r="2" fill="#E66100"/>
<circle cx="312.6" cy="98" r="2" fill="#E66100"/>
<circle cx="315.8" cy="98" r="2" fill="#E66100"/>
<circle cx="319" cy="98" r="2" fill="#E66100"/>
<circle cx="322.2" cy="98" r="2" fill="#E66100"/>
<circle cx="325.4" cy="98" r="2" fill="#E66100"/>
<circle cx="304.6" cy="100.4" r="2" fill="#E66100"/>
<circle cx="307.8" cy="100.4" r="2" fill="#E66100"/>
<circle cx="311" cy="100.4" r="2" fill="#E66100"/>
<circle cx="314.2" cy="100.4" r="2" fill="#E66100"/>
<circle cx="317.4" cy="100.4" r="2" fill="#E66100"/>
<circle cx="320.6" cy="100.4" r="2" fill="#E66100"/>
<circle cx="323.8" cy="100.4" r="2" fill="#E66100"/>
<circle cx="327" cy="100.4" r="2" fill="#E66100"/>
<circle cx="306.2" cy="102.8" r="2" fill="#E66100"/>
<circle cx="309.4" cy="102.8" r="2" fill="#E66100"/>
<circle cx="312.6" cy="102.8" r="2" fill="#E66100"/>
<circle cx="315.8" cy="102.8" r="2" fill="#E66100"/>
<circle cx="319" cy="102.8" r="2" fill="#E66100"/>
<circle cx="322.2" cy="102.8" r="2" fill="#E66100"/>
<circle cx="325.4" cy="102.8" r="2" fill="#E66100"/>
<circle cx="328.6" cy="102.8" r="2" fill="#E66100"/>
<circle cx="304.6" cy="105.2" r="2" fill="#E66100"/>
<circle cx="307.8" cy="105.2" r="2" fill="#E66100"/>
<circle cx="311" cy="105.2" r="2" fill="#E66100"/>
<circle cx="314.2" cy="105.2" r="2" fill="#E66100"/>
<circle cx="317.4" cy="105.2" r="2" fill="#E66100"/>
<circle cx="320.6" cy="105.2" r="2" fill="#E66100"/>
<circle cx="323.8" cy="105.2" r="2" fill="#E66100"/>
<circle cx="327" cy="105.2" r="2" fill="#E66100"/>
<circle cx="330.2" cy="105.2" r="2" fill="#E66100"/>
<circle cx="306.2" cy="107.6" r="2" fill="#E66100"/>
<circle cx="309.4" cy="107.6" r="2" fill="#E66100"/>
<circle cx="312.6" cy="107.6" r="2" fill="#E66100"/>
<circle cx="315.8" cy="107.6" r="2" fill="#E66100"/>
<circle cx="319" cy="107.6" r="2" fill="#E66100"/>
<circle cx="322.2" cy="107.6" r="2" fill="#E66100"/>
<circle cx="325.4" cy="107.6" r="2" fill="#E66100"/>
<circle cx="328.6" cy="107.6" r="2" fill="#E66100"/>
<circle cx="331.8" cy="107.6" r="2" fill="#E66100"/>
<circle cx="335" cy="107.6" r="2" fill="#E66100"/>
<circle cx="304.6" cy="110" r="2" fill="#E66100"/>
<circle cx="307.8" cy="110" r="2" fill="#E66100"/>
<circle cx="311" cy="110" r="2" fill="#E66100"/>
<circle cx="314.2" cy="110" r="2" fill="#E66100"/>
<circle cx="317.4" cy="110" r="2" fill="#E66100"/>
<circle cx="320.6" cy="110" r="2" fill="#E66100"/>
<circle cx="323.8" cy="110" r="2" fill="#E66100"/>
<circle cx="327" cy="110" r="2" fill="#E66100"/>
<circle cx="330.2" cy="110" r="2" fill="#E66100"/>
<circle cx="333.4" cy="110" r="2" fill="#E66100"/>
<circle cx="336.6" cy="110" r="2" fill="#E66100"/>
<circle cx="306.2" cy="112.4" r="2" fill="#E66100"/>
<circle cx="309.4" cy="112.4" r="2" fill="#E66100"/>
<circle cx="312.6" cy="112.4" r="2" fill="#E66100"/>
<circle cx="315.8" cy="112.4" r="2" fill="#E66100"/>
<circle cx="319" cy="112.4" r="2" fill="#E66100"/>
<circle cx="322.2" cy="112.4" r="2" fill="#E66100"/>
<circle cx="325.4" cy="112.4" r="2" fill="#E66100"/>
<circle cx="328.6" cy="112.4" r="2" fill="#E66100"/>
<circle cx="331.8" cy="112.4" r="2" fill="#E66100"/>
<circle cx="335" cy="112.4" r="2" fill="#E66100"/>
<circle cx="338.2" cy="112.4" r="2" fill="#E66100"/>
<circle cx="304.6" cy="77.5" r="2" fill="#E66100"/>
<circle cx="304.6" cy="81" r="2" fill="#E66100"/>
<circle cx="304.6" cy="99.5" r="1.9" fill="#FFC20A"/>
<circle cx="304.6" cy="104.5" r="1.9" fill="#FFC20A"/>
<circle cx="307" cy="107" r="1.9" fill="#FFC20A"/>
<circle cx="304.6" cy="92" r="1.9" fill="#1f77b4"/>
<circle cx="305.5" cy="114.3" r="1.7" fill="#f0a070"/>
<circle cx="308.7" cy="114.3" r="1.7" fill="#f0a070"/>
<circle cx="311.9" cy="114.3" r="1.7" fill="#f0a070"/>
<circle cx="315.1" cy="114.3" r="1.7" fill="#f0a070"/>
<circle cx="318.3" cy="114.3" r="1.7" fill="#f0a070"/>
<circle cx="321.5" cy="114.3" r="1.7" fill="#f0a070"/>
<circle cx="324.7" cy="114.3" r="1.7" fill="#f0a070"/>
<circle cx="327.9" cy="114.3" r="1.7" fill="#f0a070"/>
<circle cx="331.1" cy="114.3" r="1.7" fill="#f0a070"/>
<circle cx="334.3" cy="114.3" r="1.7" fill="#f0a070"/>
<circle cx="337.5" cy="114.3" r="1.7" fill="#f0a070"/>
<circle cx="294.7" cy="13.1" r="2" fill="#191970"/>
<circle cx="301" cy="19.4" r="2" fill="#1f77b4"/>
<circle cx="304" cy="27.7" r="2" fill="#191970"/>
<circle cx="294.4" cy="50.7" r="2" fill="#FFC20A"/>
<circle cx="294.4" cy="77" r="2" fill="#E66100"/>
<circle cx="305" cy="116.6" r="2" fill="#E66100"/>
<circle cx="307.8" cy="116.6" r="2" fill="#E66100"/>
<circle cx="310.6" cy="116.6" r="2" fill="#E66100"/>
<circle cx="313.4" cy="116.6" r="2" fill="#E66100"/>
<circle cx="316.2" cy="116.6" r="2" fill="#E66100"/>
<circle cx="319" cy="116.6" r="2" fill="#7b3fa8"/>
<circle cx="321.8" cy="116.6" r="2" fill="#7b3fa8"/>
<circle cx="324.6" cy="116.6" r="2" fill="#7b3fa8"/>
<circle cx="327.4" cy="116.6" r="2" fill="#7b3fa8"/>
<circle cx="330.2" cy="116.6" r="2" fill="#7b3fa8"/>
<circle cx="333" cy="116.6" r="2" fill="#7b3fa8"/>
<circle cx="335.8" cy="116.6" r="2" fill="#7b3fa8"/>
<circle cx="338.6" cy="116.6" r="2" fill="#7b3fa8"/>
<circle cx="341.4" cy="116.6" r="2" fill="#7b3fa8"/>
<circle cx="344.2" cy="116.6" r="2" fill="#7b3fa8"/>
<circle cx="347" cy="116.6" r="2" fill="#d62728"/>
<circle cx="349.8" cy="116.6" r="2" fill="#d62728"/>
<circle cx="352.6" cy="116.6" r="2" fill="#d62728"/>
<circle cx="355.4" cy="116.6" r="2" fill="#d62728"/>
<circle cx="358.2" cy="116.6" r="2" fill="#d62728"/>
<circle cx="361" cy="116.6" r="2" fill="#d62728"/>
<circle cx="363.8" cy="116.6" r="2" fill="#d62728"/>
<circle cx="366.6" cy="116.6" r="2" fill="#d62728"/>
<circle cx="369.4" cy="116.6" r="2" fill="#d62728"/>
<circle cx="372.2" cy="116.6" r="2" fill="#d62728"/>
<circle cx="375" cy="116.6" r="2" fill="#d62728"/>
<circle cx="377.8" cy="116.6" r="2" fill="#d62728"/>
<circle cx="380.6" cy="116.6" r="2" fill="#d62728"/>
<circle cx="383.4" cy="116.6" r="2" fill="#d62728"/>
<circle cx="386.2" cy="116.6" r="2" fill="#2e8b3a"/>
<circle cx="389" cy="116.6" r="2" fill="#2e8b3a"/>
<circle cx="391.8" cy="116.6" r="2" fill="#2e8b3a"/>
<circle cx="394.6" cy="116.6" r="2" fill="#2e8b3a"/>
<circle cx="397.4" cy="116.6" r="2" fill="#2e8b3a"/>
<circle cx="400.2" cy="116.6" r="2" fill="#2e8b3a"/>
<circle cx="403" cy="116.6" r="2" fill="#2e8b3a"/>
<circle cx="405.8" cy="116.6" r="2" fill="#2e8b3a"/>
<circle cx="408.6" cy="116.6" r="2" fill="#2e8b3a"/>
<circle cx="411.4" cy="116.6" r="2" fill="#2e8b3a"/>
<circle cx="414.2" cy="116.6" r="2" fill="#2e8b3a"/>
<circle cx="417" cy="116.6" r="2" fill="#2e8b3a"/>
<circle cx="419.8" cy="116.6" r="2" fill="#2e8b3a"/>
<circle cx="422.6" cy="116.6" r="2" fill="#2e8b3a"/>
<circle cx="425.4" cy="116.6" r="2" fill="#2e8b3a"/>
<circle cx="428.2" cy="116.6" r="2" fill="#2e8b3a"/>
<circle cx="431" cy="116.6" r="2" fill="#2e8b3a"/>
<circle cx="433.8" cy="116.6" r="2" fill="#2e8b3a"/>
</g>
<line x1="288.3" y1="4.6" x2="288.3" y2="118.5" stroke="#000" stroke-width="0.9" stroke-linecap="butt"/>
<line x1="434" y1="4.6" x2="434" y2="118.5" stroke="#000" stroke-width="0.9" stroke-linecap="butt"/>
<line x1="288.3" y1="4.6" x2="434" y2="4.6" stroke="#000" stroke-width="0.9" stroke-linecap="butt"/>
<line x1="288.3" y1="118.5" x2="434" y2="118.5" stroke="#000" stroke-width="0.9" stroke-linecap="butt"/>
<line x1="288.3" y1="118.5" x2="288.3" y2="122" stroke="#000" stroke-width="0.8" stroke-linecap="butt"/>
<text x="288.3" y="133.6" font-family='"Liberation Sans", sans-serif' font-size="10.8" text-anchor="middle" fill="#000" textLength="6.36" lengthAdjust="spacingAndGlyphs">0</text>
<line x1="324.7" y1="118.5" x2="324.7" y2="122" stroke="#000" stroke-width="0.8" stroke-linecap="butt"/>
<text x="324.7" y="133.6" font-family='"Liberation Sans", sans-serif' font-size="10.8" text-anchor="middle" fill="#000" textLength="12.72" lengthAdjust="spacingAndGlyphs">40</text>
<line x1="361.1" y1="118.5" x2="361.1" y2="122" stroke="#000" stroke-width="0.8" stroke-linecap="butt"/>
<text x="361.1" y="133.6" font-family='"Liberation Sans", sans-serif' font-size="10.8" text-anchor="middle" fill="#000" textLength="12.72" lengthAdjust="spacingAndGlyphs">80</text>
<line x1="397.5" y1="118.5" x2="397.5" y2="122" stroke="#000" stroke-width="0.8" stroke-linecap="butt"/>
<text x="397.5" y="133.6" font-family='"Liberation Sans", sans-serif' font-size="10.8" text-anchor="middle" fill="#000" textLength="19.09" lengthAdjust="spacingAndGlyphs">120</text>
<line x1="433.9" y1="118.5" x2="433.9" y2="122" stroke="#000" stroke-width="0.8" stroke-linecap="butt"/>
<text x="433.9" y="133.6" font-family='"Liberation Sans", sans-serif' font-size="10.8" text-anchor="middle" fill="#000" textLength="19.09" lengthAdjust="spacingAndGlyphs">160</text>
<line x1="306.5" y1="118.5" x2="306.5" y2="120.5" stroke="#000" stroke-width="0.6" stroke-linecap="butt"/>
<line x1="342.9" y1="118.5" x2="342.9" y2="120.5" stroke="#000" stroke-width="0.6" stroke-linecap="butt"/>
<line x1="379.3" y1="118.5" x2="379.3" y2="120.5" stroke="#000" stroke-width="0.6" stroke-linecap="butt"/>
<line x1="415.7" y1="118.5" x2="415.7" y2="120.5" stroke="#000" stroke-width="0.6" stroke-linecap="butt"/>
<line x1="284.8" y1="4.7" x2="288.3" y2="4.7" stroke="#000" stroke-width="0.8" stroke-linecap="butt"/>
<text x="262.32" y="8.8" font-family='"Liberation Sans", sans-serif' font-size="10.8" text-anchor="start" fill="#000" textLength="12.72" lengthAdjust="spacingAndGlyphs">10</text>
<text x="275.55" y="5" font-family='"Liberation Sans", sans-serif' font-size="7.56" text-anchor="start" fill="#000" textLength="4.45" lengthAdjust="spacingAndGlyphs">0</text>
<line x1="284.8" y1="32.76" x2="288.3" y2="32.76" stroke="#000" stroke-width="0.8" stroke-linecap="butt"/>
<text x="256.46" y="36.86" font-family='"Liberation Sans", sans-serif' font-size="10.8" text-anchor="start" fill="#000" textLength="12.72" lengthAdjust="spacingAndGlyphs">10</text>
<text x="269.68" y="33.06" font-family='"Liberation Sans", sans-serif' font-size="7.56" text-anchor="start" fill="#000" textLength="10.32" lengthAdjust="spacingAndGlyphs">−2</text>
<line x1="284.8" y1="60.82" x2="288.3" y2="60.82" stroke="#000" stroke-width="0.8" stroke-linecap="butt"/>
<text x="256.46" y="64.92" font-family='"Liberation Sans", sans-serif' font-size="10.8" text-anchor="start" fill="#000" textLength="12.72" lengthAdjust="spacingAndGlyphs">10</text>
<text x="269.68" y="61.12" font-family='"Liberation Sans", sans-serif' font-size="7.56" text-anchor="start" fill="#000" textLength="10.32" lengthAdjust="spacingAndGlyphs">−4</text>
<line x1="284.8" y1="88.88" x2="288.3" y2="88.88" stroke="#000" stroke-width="0.8" stroke-linecap="butt"/>
<text x="256.46" y="92.98" font-family='"Liberation Sans", sans-serif' font-size="10.8" text-anchor="start" fill="#000" textLength="12.72" lengthAdjust="spacingAndGlyphs">10</text>
<text x="269.68" y="89.18" font-family='"Liberation Sans", sans-serif' font-size="7.56" text-anchor="start" fill="#000" textLength="10.32" lengthAdjust="spacingAndGlyphs">−6</text>
<line x1="284.8" y1="116.94" x2="288.3" y2="116.94" stroke="#000" stroke-width="0.8" stroke-linecap="butt"/>
<text x="256.46" y="121.04" font-family='"Liberation Sans", sans-serif' font-size="10.8" text-anchor="start" fill="#000" textLength="12.72" lengthAdjust="spacingAndGlyphs">10</text>
<text x="269.68" y="117.24" font-family='"Liberation Sans", sans-serif' font-size="7.56" text-anchor="start" fill="#000" textLength="10.32" lengthAdjust="spacingAndGlyphs">−8</text>
<line x1="286.3" y1="14.51" x2="288.3" y2="14.51" stroke="#000" stroke-width="0.6" stroke-linecap="butt"/>
<line x1="286.3" y1="12.04" x2="288.3" y2="12.04" stroke="#000" stroke-width="0.6" stroke-linecap="butt"/>
<line x1="286.3" y1="10.28" x2="288.3" y2="10.28" stroke="#000" stroke-width="0.6" stroke-linecap="butt"/>
<line x1="286.3" y1="8.92" x2="288.3" y2="8.92" stroke="#000" stroke-width="0.6" stroke-linecap="butt"/>
<line x1="286.3" y1="7.81" x2="288.3" y2="7.81" stroke="#000" stroke-width="0.6" stroke-linecap="butt"/>
<line x1="286.3" y1="6.87" x2="288.3" y2="6.87" stroke="#000" stroke-width="0.6" stroke-linecap="butt"/>
<line x1="286.3" y1="6.06" x2="288.3" y2="6.06" stroke="#000" stroke-width="0.6" stroke-linecap="butt"/>
<line x1="286.3" y1="5.34" x2="288.3" y2="5.34" stroke="#000" stroke-width="0.6" stroke-linecap="butt"/>
<line x1="286.3" y1="28.54" x2="288.3" y2="28.54" stroke="#000" stroke-width="0.6" stroke-linecap="butt"/>
<line x1="286.3" y1="26.07" x2="288.3" y2="26.07" stroke="#000" stroke-width="0.6" stroke-linecap="butt"/>
<line x1="286.3" y1="24.31" x2="288.3" y2="24.31" stroke="#000" stroke-width="0.6" stroke-linecap="butt"/>
<line x1="286.3" y1="22.95" x2="288.3" y2="22.95" stroke="#000" stroke-width="0.6" stroke-linecap="butt"/>
<line x1="286.3" y1="21.84" x2="288.3" y2="21.84" stroke="#000" stroke-width="0.6" stroke-linecap="butt"/>
<line x1="286.3" y1="20.9" x2="288.3" y2="20.9" stroke="#000" stroke-width="0.6" stroke-linecap="butt"/>
<line x1="286.3" y1="20.09" x2="288.3" y2="20.09" stroke="#000" stroke-width="0.6" stroke-linecap="butt"/>
<line x1="286.3" y1="19.37" x2="288.3" y2="19.37" stroke="#000" stroke-width="0.6" stroke-linecap="butt"/>
<line x1="286.3" y1="42.57" x2="288.3" y2="42.57" stroke="#000" stroke-width="0.6" stroke-linecap="butt"/>
<line x1="286.3" y1="40.1" x2="288.3" y2="40.1" stroke="#000" stroke-width="0.6" stroke-linecap="butt"/>
<line x1="286.3" y1="38.34" x2="288.3" y2="38.34" stroke="#000" stroke-width="0.6" stroke-linecap="butt"/>
<line x1="286.3" y1="36.98" x2="288.3" y2="36.98" stroke="#000" stroke-width="0.6" stroke-linecap="butt"/>
<line x1="286.3" y1="35.87" x2="288.3" y2="35.87" stroke="#000" stroke-width="0.6" stroke-linecap="butt"/>
<line x1="286.3" y1="34.93" x2="288.3" y2="34.93" stroke="#000" stroke-width="0.6" stroke-linecap="butt"/>
<line x1="286.3" y1="34.12" x2="288.3" y2="34.12" stroke="#000" stroke-width="0.6" stroke-linecap="butt"/>
<line x1="286.3" y1="33.4" x2="288.3" y2="33.4" stroke="#000" stroke-width="0.6" stroke-linecap="butt"/>
<line x1="286.3" y1="56.6" x2="288.3" y2="56.6" stroke="#000" stroke-width="0.6" stroke-linecap="butt"/>
<line x1="286.3" y1="54.13" x2="288.3" y2="54.13" stroke="#000" stroke-width="0.6" stroke-linecap="butt"/>
<line x1="286.3" y1="52.37" x2="288.3" y2="52.37" stroke="#000" stroke-width="0.6" stroke-linecap="butt"/>
<line x1="286.3" y1="51.01" x2="288.3" y2="51.01" stroke="#000" stroke-width="0.6" stroke-linecap="butt"/>
<line x1="286.3" y1="49.9" x2="288.3" y2="49.9" stroke="#000" stroke-width="0.6" stroke-linecap="butt"/>
<line x1="286.3" y1="48.96" x2="288.3" y2="48.96" stroke="#000" stroke-width="0.6" stroke-linecap="butt"/>
<line x1="286.3" y1="48.15" x2="288.3" y2="48.15" stroke="#000" stroke-width="0.6" stroke-linecap="butt"/>
<line x1="286.3" y1="47.43" x2="288.3" y2="47.43" stroke="#000" stroke-width="0.6" stroke-linecap="butt"/>
<line x1="286.3" y1="70.63" x2="288.3" y2="70.63" stroke="#000" stroke-width="0.6" stroke-linecap="butt"/>
<line x1="286.3" y1="68.16" x2="288.3" y2="68.16" stroke="#000" stroke-width="0.6" stroke-linecap="butt"/>
<line x1="286.3" y1="66.4" x2="288.3" y2="66.4" stroke="#000" stroke-width="0.6" stroke-linecap="butt"/>
<line x1="286.3" y1="65.04" x2="288.3" y2="65.04" stroke="#000" stroke-width="0.6" stroke-linecap="butt"/>
<line x1="286.3" y1="63.93" x2="288.3" y2="63.93" stroke="#000" stroke-width="0.6" stroke-linecap="butt"/>
<line x1="286.3" y1="62.99" x2="288.3" y2="62.99" stroke="#000" stroke-width="0.6" stroke-linecap="butt"/>
<line x1="286.3" y1="62.18" x2="288.3" y2="62.18" stroke="#000" stroke-width="0.6" stroke-linecap="butt"/>
<line x1="286.3" y1="61.46" x2="288.3" y2="61.46" stroke="#000" stroke-width="0.6" stroke-linecap="butt"/>
<line x1="286.3" y1="84.66" x2="288.3" y2="84.66" stroke="#000" stroke-width="0.6" stroke-linecap="butt"/>
<line x1="286.3" y1="82.19" x2="288.3" y2="82.19" stroke="#000" stroke-width="0.6" stroke-linecap="butt"/>
<line x1="286.3" y1="80.43" x2="288.3" y2="80.43" stroke="#000" stroke-width="0.6" stroke-linecap="butt"/>
<line x1="286.3" y1="79.07" x2="288.3" y2="79.07" stroke="#000" stroke-width="0.6" stroke-linecap="butt"/>
<line x1="286.3" y1="77.96" x2="288.3" y2="77.96" stroke="#000" stroke-width="0.6" stroke-linecap="butt"/>
<line x1="286.3" y1="77.02" x2="288.3" y2="77.02" stroke="#000" stroke-width="0.6" stroke-linecap="butt"/>
<line x1="286.3" y1="76.21" x2="288.3" y2="76.21" stroke="#000" stroke-width="0.6" stroke-linecap="butt"/>
<line x1="286.3" y1="75.49" x2="288.3" y2="75.49" stroke="#000" stroke-width="0.6" stroke-linecap="butt"/>
<line x1="286.3" y1="98.69" x2="288.3" y2="98.69" stroke="#000" stroke-width="0.6" stroke-linecap="butt"/>
<line x1="286.3" y1="96.22" x2="288.3" y2="96.22" stroke="#000" stroke-width="0.6" stroke-linecap="butt"/>
<line x1="286.3" y1="94.46" x2="288.3" y2="94.46" stroke="#000" stroke-width="0.6" stroke-linecap="butt"/>
<line x1="286.3" y1="93.1" x2="288.3" y2="93.1" stroke="#000" stroke-width="0.6" stroke-linecap="butt"/>
<line x1="286.3" y1="91.99" x2="288.3" y2="91.99" stroke="#000" stroke-width="0.6" stroke-linecap="butt"/>
<line x1="286.3" y1="91.05" x2="288.3" y2="91.05" stroke="#000" stroke-width="0.6" stroke-linecap="butt"/>
<line x1="286.3" y1="90.24" x2="288.3" y2="90.24" stroke="#000" stroke-width="0.6" stroke-linecap="butt"/>
<line x1="286.3" y1="89.52" x2="288.3" y2="89.52" stroke="#000" stroke-width="0.6" stroke-linecap="butt"/>
<line x1="286.3" y1="112.72" x2="288.3" y2="112.72" stroke="#000" stroke-width="0.6" stroke-linecap="butt"/>
<line x1="286.3" y1="110.25" x2="288.3" y2="110.25" stroke="#000" stroke-width="0.6" stroke-linecap="butt"/>
<line x1="286.3" y1="108.49" x2="288.3" y2="108.49" stroke="#000" stroke-width="0.6" stroke-linecap="butt"/>
<line x1="286.3" y1="107.13" x2="288.3" y2="107.13" stroke="#000" stroke-width="0.6" stroke-linecap="butt"/>
<line x1="286.3" y1="106.02" x2="288.3" y2="106.02" stroke="#000" stroke-width="0.6" stroke-linecap="butt"/>
<line x1="286.3" y1="105.08" x2="288.3" y2="105.08" stroke="#000" stroke-width="0.6" stroke-linecap="butt"/>
<line x1="286.3" y1="104.27" x2="288.3" y2="104.27" stroke="#000" stroke-width="0.6" stroke-linecap="butt"/>
<line x1="286.3" y1="103.55" x2="288.3" y2="103.55" stroke="#000" stroke-width="0.6" stroke-linecap="butt"/>
<text x="310.19" y="147" font-family='"Liberation Sans", sans-serif' font-size="11.39" text-anchor="start" fill="#000" textLength="79.4" lengthAdjust="spacingAndGlyphs">LZ Complexity,</text>
<text x="392.94" y="147" font-family='"Liberation Sans", sans-serif' font-size="11.39" text-anchor="start" fill="#000" font-style="italic" textLength="6.92" lengthAdjust="spacingAndGlyphs">K</text>
<text x="399.86" y="147" font-family='"Liberation Sans", sans-serif' font-size="11.39" text-anchor="start" fill="#000" textLength="4.12" lengthAdjust="spacingAndGlyphs">(</text>
<text x="403.98" y="147" font-family='"Liberation Sans", sans-serif' font-size="11.39" text-anchor="start" fill="#000" font-style="italic" textLength="3.71" lengthAdjust="spacingAndGlyphs">f</text>
<text x="407.69" y="147" font-family='"Liberation Sans", sans-serif' font-size="11.39" text-anchor="start" fill="#000" textLength="4.12" lengthAdjust="spacingAndGlyphs">)</text>
<g transform="rotate(-90 247.8 61.5)">
<text x="239.12" y="61.5" font-family='"Liberation Sans", sans-serif' font-size="10.8" text-anchor="start" fill="#000" font-style="italic" textLength="6.03" lengthAdjust="spacingAndGlyphs">P</text>
<text x="245.15" y="61.5" font-family='"Liberation Sans", sans-serif' font-size="10.8" text-anchor="start" fill="#000" textLength="3.9" lengthAdjust="spacingAndGlyphs">(</text>
<text x="249.06" y="61.5" font-family='"Liberation Sans", sans-serif' font-size="10.8" text-anchor="start" fill="#000" font-style="italic" textLength="3.52" lengthAdjust="spacingAndGlyphs">f</text>
<text x="252.58" y="61.5" font-family='"Liberation Sans", sans-serif' font-size="10.8" text-anchor="start" fill="#000" textLength="3.9" lengthAdjust="spacingAndGlyphs">)</text>
</g>
<rect x="357.5" y="7.6" width="72.9" height="93.3" rx="1.5" fill="#fff" fill-opacity="0.8" stroke="#cccccc" stroke-width="0.7"/>
<text x="379.75" y="17" font-family='"Liberation Sans", sans-serif' font-size="7.88" text-anchor="start" fill="#000" font-style="italic" textLength="4.63" lengthAdjust="spacingAndGlyphs">σ</text>
<text x="384.38" y="18.46" font-family='"Liberation Sans", sans-serif' font-size="5.52" text-anchor="start" fill="#000" font-style="italic" textLength="4.18" lengthAdjust="spacingAndGlyphs">w</text>
<text x="393.85" y="17" font-family='"Liberation Sans", sans-serif' font-size="7.88" text-anchor="middle" fill="#000">|</text>
<text x="399.14" y="17" font-family='"Liberation Sans", sans-serif' font-size="7.88" text-anchor="start" fill="#000" font-style="italic" textLength="5.46" lengthAdjust="spacingAndGlyphs">N</text>
<text x="404.6" y="18.46" font-family='"Liberation Sans", sans-serif' font-size="5.52" text-anchor="start" fill="#000" font-style="italic" textLength="2.85" lengthAdjust="spacingAndGlyphs">L</text>
<circle cx="367.7" cy="26.3" r="2" fill="#191970" fill-opacity="0.8"/>
<text x="381.3" y="28.9" font-family='"Liberation Sans", sans-serif' font-size="7.88" text-anchor="start" fill="#000" textLength="30.32" lengthAdjust="spacingAndGlyphs">1.0 | 10,</text>
<text x="413.94" y="28.9" font-family='"Liberation Sans", sans-serif' font-size="7.88" text-anchor="start" fill="#000" font-style="italic" textLength="14.15" lengthAdjust="spacingAndGlyphs">relu</text>
<circle cx="367.7" cy="37.75" r="2" fill="#1f77b4" fill-opacity="0.8"/>
<text x="381.3" y="40.35" font-family='"Liberation Sans", sans-serif' font-size="7.88" text-anchor="start" fill="#000" textLength="28" lengthAdjust="spacingAndGlyphs">1.0 | 10</text>
<circle cx="367.7" cy="49.2" r="2" fill="#FFC20A" fill-opacity="0.8"/>
<text x="381.3" y="51.8" font-family='"Liberation Sans", sans-serif' font-size="7.88" text-anchor="start" fill="#000" textLength="28" lengthAdjust="spacingAndGlyphs">1.5 | 10</text>
<circle cx="367.7" cy="60.65" r="2" fill="#E66100" fill-opacity="0.8"/>
<text x="381.3" y="63.25" font-family='"Liberation Sans", sans-serif' font-size="7.88" text-anchor="start" fill="#000" textLength="28" lengthAdjust="spacingAndGlyphs">2.0 | 10</text>
<circle cx="367.7" cy="72.1" r="2" fill="#7b3fa8" fill-opacity="0.8"/>
<text x="381.3" y="74.7" font-family='"Liberation Sans", sans-serif' font-size="7.88" text-anchor="start" fill="#000" textLength="28" lengthAdjust="spacingAndGlyphs">4.0 | 10</text>
<circle cx="367.7" cy="83.55" r="2" fill="#d62728" fill-opacity="0.8"/>
<text x="381.3" y="86.15" font-family='"Liberation Sans", sans-serif' font-size="7.88" text-anchor="start" fill="#000" textLength="28" lengthAdjust="spacingAndGlyphs">8.0 | 10</text>
<circle cx="367.7" cy="95" r="2" fill="#4caf50" fill-opacity="0.8"/>
<text x="381.3" y="97.6" font-family='"Liberation Sans", sans-serif' font-size="7.88" text-anchor="start" fill="#000" textLength="28.31" lengthAdjust="spacingAndGlyphs">random</text>
</g>
<g>
<clipPath id="cpc"><rect x="521.5" y="4.4" width="149.0" height="113.6"/></clipPath>
<g clip-path="url(#cpc)">
<rect x="527.28" y="13.78" width="143.22" height="24.15" fill="#2ca02c" fill-opacity="0.13"/>
<circle cx="527.74" cy="25.85" r="1.75" fill="#5cb85c"/>
<circle cx="537.06" cy="25.85" r="1.75" fill="#5cb85c"/>
<circle cx="540.37" cy="25.85" r="1.75" fill="#5cb85c"/>
<circle cx="543.67" cy="25.85" r="1.75" fill="#5cb85c"/>
<circle cx="546.98" cy="25.85" r="1.75" fill="#5cb85c"/>
<circle cx="550.29" cy="25.85" r="1.75" fill="#5cb85c"/>
<circle cx="553.6" cy="25.85" r="1.75" fill="#5cb85c"/>
<circle cx="556.9" cy="25.85" r="1.75" fill="#5cb85c"/>
<circle cx="560.21" cy="25.85" r="1.75" fill="#5cb85c"/>
<circle cx="563.52" cy="25.85" r="1.75" fill="#5cb85c"/>
<circle cx="566.83" cy="25.85" r="1.75" fill="#5cb85c"/>
<circle cx="570.13" cy="25.85" r="1.75" fill="#5cb85c"/>
<circle cx="573.44" cy="25.85" r="1.75" fill="#5cb85c"/>
<circle cx="576.75" cy="25.85" r="1.75" fill="#5cb85c"/>
<circle cx="580.06" cy="25.85" r="1.75" fill="#5cb85c"/>
<circle cx="583.36" cy="25.85" r="1.75" fill="#5cb85c"/>
<circle cx="586.67" cy="25.85" r="1.75" fill="#5cb85c"/>
<circle cx="589.98" cy="25.85" r="1.75" fill="#5cb85c"/>
<circle cx="593.29" cy="25.85" r="1.75" fill="#5cb85c"/>
<circle cx="596.6" cy="25.85" r="1.75" fill="#5cb85c"/>
<circle cx="599.9" cy="25.85" r="1.75" fill="#5cb85c"/>
<circle cx="603.21" cy="25.85" r="1.75" fill="#5cb85c"/>
<circle cx="606.52" cy="25.85" r="1.75" fill="#5cb85c"/>
<circle cx="609.83" cy="25.85" r="1.75" fill="#5cb85c"/>
<circle cx="613.13" cy="25.85" r="1.75" fill="#5cb85c"/>
<circle cx="616.44" cy="25.85" r="1.75" fill="#5cb85c"/>
<circle cx="619.75" cy="25.85" r="1.75" fill="#5cb85c"/>
<circle cx="623.06" cy="25.85" r="1.75" fill="#5cb85c"/>
<circle cx="626.36" cy="25.85" r="1.75" fill="#5cb85c"/>
<circle cx="629.67" cy="25.85" r="1.75" fill="#5cb85c"/>
<circle cx="632.98" cy="25.85" r="1.75" fill="#5cb85c"/>
<circle cx="636.29" cy="25.85" r="1.75" fill="#5cb85c"/>
<circle cx="639.59" cy="25.85" r="1.75" fill="#5cb85c"/>
<circle cx="642.9" cy="25.85" r="1.75" fill="#5cb85c"/>
<circle cx="646.21" cy="25.85" r="1.75" fill="#5cb85c"/>
<circle cx="649.52" cy="25.85" r="1.75" fill="#5cb85c"/>
<circle cx="652.82" cy="25.85" r="1.75" fill="#5cb85c"/>
<circle cx="656.13" cy="25.85" r="1.75" fill="#5cb85c"/>
<circle cx="659.44" cy="25.85" r="1.75" fill="#5cb85c"/>
<circle cx="662.75" cy="25.85" r="1.75" fill="#5cb85c"/>
<circle cx="666.05" cy="25.85" r="1.75" fill="#5cb85c"/>
<circle cx="669.36" cy="25.85" r="1.75" fill="#5cb85c"/>
<polygon points="527.28,42.98 537.06,39.42 540.37,42.43 543.67,43.17 546.98,41.45 550.29,40.12 553.6,38.61 556.9,37.52 560.21,38.46 563.52,38.94 566.83,34.96 570.13,36.34 573.44,37.55 576.75,32.44 580.06,35.04 583.36,35.81 586.67,40.04 589.98,33.19 593.29,28.1 596.6,32.42 599.9,27.34 603.21,27.98 606.52,27.75 609.83,27.99 613.13,27.63 616.44,27.84 619.75,26.04 623.06,25.27 626.36,25.71 629.67,25.14 632.98,24.03 636.29,24.27 639.59,21.27 642.9,20.15 646.21,19.41 649.52,18.23 652.82,17.33 656.13,17.49 659.44,16.19 662.75,15.14 666.05,14.87 669.36,12.42 671.5,14.26 671.5,34.08 669.36,33.98 666.05,35.23 662.75,35.59 659.44,35.96 656.13,38.27 652.82,36.36 649.52,36.79 646.21,40.99 642.9,40.15 639.59,40.82 636.29,42.59 632.98,46.78 629.67,46.38 626.36,47.18 623.06,50.46 619.75,55.43 616.44,56.24 613.13,55.53 609.83,53.6 606.52,53.19 603.21,53.55 599.9,54.88 596.6,55.62 593.29,53.88 589.98,60.64 586.67,66.73 583.36,64.32 580.06,63.39 576.75,59.72 573.44,60.66 570.13,63.66 566.83,59.74 563.52,65.91 560.21,66.41 556.9,62.53 553.6,65.78 550.29,67.93 546.98,65.23 543.67,68.43 540.37,67.03 537.06,65.19 527.28,67.95" fill="#d62728" fill-opacity="0.18"/>
<circle cx="527.74" cy="54.83" r="1.75" fill="#d62728"/>
<circle cx="537.06" cy="51.82" r="1.75" fill="#d62728"/>
<circle cx="540.37" cy="55.89" r="1.75" fill="#d62728"/>
<circle cx="543.67" cy="54.1" r="1.75" fill="#d62728"/>
<circle cx="546.98" cy="53.39" r="1.75" fill="#d62728"/>
<circle cx="550.29" cy="55.11" r="1.75" fill="#d62728"/>
<circle cx="553.6" cy="52.94" r="1.75" fill="#d62728"/>
<circle cx="556.9" cy="51.03" r="1.75" fill="#d62728"/>
<circle cx="560.21" cy="51.95" r="1.75" fill="#d62728"/>
<circle cx="563.52" cy="51.98" r="1.75" fill="#d62728"/>
<circle cx="566.83" cy="48.61" r="1.75" fill="#d62728"/>
<circle cx="570.13" cy="50.34" r="1.75" fill="#d62728"/>
<circle cx="573.44" cy="49.67" r="1.75" fill="#d62728"/>
<circle cx="576.75" cy="46.89" r="1.75" fill="#d62728"/>
<circle cx="580.06" cy="48.88" r="1.75" fill="#d62728"/>
<circle cx="583.36" cy="49.64" r="1.75" fill="#d62728"/>
<circle cx="586.67" cy="52.55" r="1.75" fill="#d62728"/>
<circle cx="589.98" cy="45.9" r="1.75" fill="#d62728"/>
<circle cx="593.29" cy="42.61" r="1.75" fill="#d62728"/>
<circle cx="596.6" cy="43.85" r="1.75" fill="#d62728"/>
<circle cx="599.9" cy="42.21" r="1.75" fill="#d62728"/>
<circle cx="603.21" cy="41.44" r="1.75" fill="#d62728"/>
<circle cx="606.52" cy="40.72" r="1.75" fill="#d62728"/>
<circle cx="609.83" cy="40.31" r="1.75" fill="#d62728"/>
<circle cx="613.13" cy="40.92" r="1.75" fill="#d62728"/>
<circle cx="616.44" cy="41.53" r="1.75" fill="#d62728"/>
<circle cx="619.75" cy="40.46" r="1.75" fill="#d62728"/>
<circle cx="623.06" cy="38.92" r="1.75" fill="#d62728"/>
<circle cx="626.36" cy="36.59" r="1.75" fill="#d62728"/>
<circle cx="629.67" cy="35.77" r="1.75" fill="#d62728"/>
<circle cx="632.98" cy="34.74" r="1.75" fill="#d62728"/>
<circle cx="636.29" cy="33.45" r="1.75" fill="#d62728"/>
<circle cx="639.59" cy="32.04" r="1.75" fill="#d62728"/>
<circle cx="642.9" cy="30.39" r="1.75" fill="#d62728"/>
<circle cx="646.21" cy="28.92" r="1.75" fill="#d62728"/>
<circle cx="649.52" cy="28.06" r="1.75" fill="#d62728"/>
<circle cx="652.82" cy="27.2" r="1.75" fill="#d62728"/>
<circle cx="656.13" cy="26.34" r="1.75" fill="#d62728"/>
<circle cx="659.44" cy="25.54" r="1.75" fill="#d62728"/>
<circle cx="662.75" cy="24.83" r="1.75" fill="#d62728"/>
<circle cx="666.05" cy="24.12" r="1.75" fill="#d62728"/>
<circle cx="669.36" cy="23.56" r="1.75" fill="#d62728"/>
<polygon points="527.28,104.97 537.06,104.1 540.37,102.01 543.67,102.13 546.98,100.5 550.29,101.74 553.6,99.03 556.9,97.76 560.21,94.51 563.52,93.46 566.83,91.93 570.13,89.93 573.44,85.98 576.75,84.79 580.06,85.94 583.36,81.23 586.67,79.59 589.98,75.86 593.29,73.62 596.6,69.82 599.9,66.81 603.21,63.99 606.52,58.84 609.83,57.4 613.13,53.33 616.44,49.76 619.75,49.26 623.06,45.7 626.36,44.17 629.67,44.04 632.98,39.14 636.29,37.02 639.59,37.11 642.9,30.06 646.21,26.66 649.52,21.61 652.82,20.34 656.13,17.4 659.44,16.56 662.75,15.74 666.05,15.72 669.36,15.06 671.5,13.69 671.5,37.69 669.36,37.01 666.05,37.89 662.75,38.73 659.44,39.96 656.13,38.91 652.82,41.79 649.52,43.7 646.21,45.51 642.9,48.57 639.59,54.23 636.29,62.24 632.98,65.2 629.67,68.31 626.36,70.47 623.06,72.82 619.75,73.65 616.44,77.42 613.13,78.44 609.83,81.47 606.52,85.64 603.21,89.27 599.9,91.31 596.6,94.13 593.29,95.36 589.98,97.12 586.67,99.49 583.36,101.41 580.06,103.83 576.75,103.94 573.44,102.86 570.13,105.6 566.83,107.52 563.52,107.38 560.21,108.2 556.9,110.01 553.6,112.98 550.29,110.51 546.98,112.16 543.67,111.78 540.37,110.95 537.06,111.87 527.28,112.59" fill="#1f77b4" fill-opacity="0.22"/>
<circle cx="527.74" cy="107.96" r="1.75" fill="#1f77b4"/>
<circle cx="537.06" cy="108.77" r="1.75" fill="#1f77b4"/>
<circle cx="540.37" cy="106.7" r="1.75" fill="#1f77b4"/>
<circle cx="543.67" cy="107.4" r="1.75" fill="#1f77b4"/>
<circle cx="546.98" cy="106.29" r="1.75" fill="#1f77b4"/>
<circle cx="550.29" cy="106.07" r="1.75" fill="#1f77b4"/>
<circle cx="553.6" cy="105.61" r="1.75" fill="#1f77b4"/>
<circle cx="556.9" cy="103.6" r="1.75" fill="#1f77b4"/>
<circle cx="560.21" cy="101.73" r="1.75" fill="#1f77b4"/>
<circle cx="563.52" cy="100.49" r="1.75" fill="#1f77b4"/>
<circle cx="566.83" cy="99.41" r="1.75" fill="#1f77b4"/>
<circle cx="570.13" cy="97.66" r="1.75" fill="#1f77b4"/>
<circle cx="573.44" cy="95.45" r="1.75" fill="#1f77b4"/>
<circle cx="576.75" cy="94.14" r="1.75" fill="#1f77b4"/>
<circle cx="580.06" cy="95.01" r="1.75" fill="#1f77b4"/>
<circle cx="583.36" cy="92.1" r="1.75" fill="#1f77b4"/>
<circle cx="586.67" cy="89.2" r="1.75" fill="#1f77b4"/>
<circle cx="589.98" cy="87.31" r="1.75" fill="#1f77b4"/>
<circle cx="593.29" cy="84.47" r="1.75" fill="#1f77b4"/>
<circle cx="596.6" cy="82.52" r="1.75" fill="#1f77b4"/>
<circle cx="599.9" cy="80.01" r="1.75" fill="#1f77b4"/>
<circle cx="603.21" cy="76.2" r="1.75" fill="#1f77b4"/>
<circle cx="606.52" cy="72.84" r="1.75" fill="#1f77b4"/>
<circle cx="609.83" cy="69.57" r="1.75" fill="#1f77b4"/>
<circle cx="613.13" cy="66.35" r="1.75" fill="#1f77b4"/>
<circle cx="616.44" cy="63.55" r="1.75" fill="#1f77b4"/>
<circle cx="619.75" cy="61.32" r="1.75" fill="#1f77b4"/>
<circle cx="623.06" cy="59.49" r="1.75" fill="#1f77b4"/>
<circle cx="626.36" cy="57.96" r="1.75" fill="#1f77b4"/>
<circle cx="629.67" cy="55.95" r="1.75" fill="#1f77b4"/>
<circle cx="632.98" cy="52.89" r="1.75" fill="#1f77b4"/>
<circle cx="636.29" cy="49.53" r="1.75" fill="#1f77b4"/>
<circle cx="639.59" cy="45.69" r="1.75" fill="#1f77b4"/>
<circle cx="642.9" cy="40.37" r="1.75" fill="#1f77b4"/>
<circle cx="646.21" cy="34.79" r="1.75" fill="#1f77b4"/>
<circle cx="649.52" cy="32.5" r="1.75" fill="#1f77b4"/>
<circle cx="652.82" cy="30.35" r="1.75" fill="#1f77b4"/>
<circle cx="656.13" cy="29.13" r="1.75" fill="#1f77b4"/>
<circle cx="659.44" cy="28.13" r="1.75" fill="#1f77b4"/>
<circle cx="662.75" cy="27.43" r="1.75" fill="#1f77b4"/>
<circle cx="666.05" cy="26.73" r="1.75" fill="#1f77b4"/>
<circle cx="669.36" cy="26.26" r="1.75" fill="#1f77b4"/>
</g>
<line x1="521.5" y1="4.4" x2="521.5" y2="118" stroke="#000" stroke-width="0.9" stroke-linecap="butt"/>
<line x1="670.5" y1="4.4" x2="670.5" y2="118" stroke="#000" stroke-width="0.9" stroke-linecap="butt"/>
<line x1="521.5" y1="4.4" x2="670.5" y2="4.4" stroke="#000" stroke-width="0.9" stroke-linecap="butt"/>
<line x1="521.5" y1="118" x2="670.5" y2="118" stroke="#000" stroke-width="0.9" stroke-linecap="butt"/>
<line x1="521.5" y1="118" x2="521.5" y2="121.5" stroke="#000" stroke-width="0.8" stroke-linecap="butt"/>
<text x="521.5" y="133.6" font-family='"Liberation Sans", sans-serif' font-size="10.8" text-anchor="middle" fill="#000" textLength="6.36" lengthAdjust="spacingAndGlyphs">0</text>
<line x1="558.77" y1="118" x2="558.77" y2="121.5" stroke="#000" stroke-width="0.8" stroke-linecap="butt"/>
<text x="558.77" y="133.6" font-family='"Liberation Sans", sans-serif' font-size="10.8" text-anchor="middle" fill="#000" textLength="12.72" lengthAdjust="spacingAndGlyphs">40</text>
<line x1="596.04" y1="118" x2="596.04" y2="121.5" stroke="#000" stroke-width="0.8" stroke-linecap="butt"/>
<text x="596.04" y="133.6" font-family='"Liberation Sans", sans-serif' font-size="10.8" text-anchor="middle" fill="#000" textLength="12.72" lengthAdjust="spacingAndGlyphs">80</text>
<line x1="633.3" y1="118" x2="633.3" y2="121.5" stroke="#000" stroke-width="0.8" stroke-linecap="butt"/>
<text x="633.3" y="133.6" font-family='"Liberation Sans", sans-serif' font-size="10.8" text-anchor="middle" fill="#000" textLength="19.09" lengthAdjust="spacingAndGlyphs">120</text>
<line x1="670.57" y1="118" x2="670.57" y2="121.5" stroke="#000" stroke-width="0.8" stroke-linecap="butt"/>
<text x="670.57" y="133.6" font-family='"Liberation Sans", sans-serif' font-size="10.8" text-anchor="middle" fill="#000" textLength="19.09" lengthAdjust="spacingAndGlyphs">160</text>
<line x1="518" y1="112.1" x2="521.5" y2="112.1" stroke="#000" stroke-width="0.8" stroke-linecap="butt"/>
<text x="514.2" y="116.1" font-family='"Liberation Sans", sans-serif' font-size="10.8" text-anchor="end" fill="#000" textLength="15.9" lengthAdjust="spacingAndGlyphs">0.0</text>
<line x1="518" y1="77.6" x2="521.5" y2="77.6" stroke="#000" stroke-width="0.8" stroke-linecap="butt"/>
<text x="514.2" y="81.6" font-family='"Liberation Sans", sans-serif' font-size="10.8" text-anchor="end" fill="#000" textLength="15.9" lengthAdjust="spacingAndGlyphs">0.2</text>
<line x1="518" y1="43.1" x2="521.5" y2="43.1" stroke="#000" stroke-width="0.8" stroke-linecap="butt"/>
<text x="514.2" y="47.1" font-family='"Liberation Sans", sans-serif' font-size="10.8" text-anchor="end" fill="#000" textLength="15.9" lengthAdjust="spacingAndGlyphs">0.4</text>
<line x1="518" y1="8.6" x2="521.5" y2="8.6" stroke="#000" stroke-width="0.8" stroke-linecap="butt"/>
<text x="514.2" y="12.6" font-family='"Liberation Sans", sans-serif' font-size="10.8" text-anchor="end" fill="#000" textLength="15.9" lengthAdjust="spacingAndGlyphs">0.6</text>
<text x="596" y="145" font-family='"Liberation Sans", sans-serif' font-size="10.8" text-anchor="middle" fill="#000" textLength="151.39" lengthAdjust="spacingAndGlyphs">LZ complexity, target function</text>
<text x="491.8" y="60.6" font-family='"Liberation Sans", sans-serif' font-size="10.8" text-anchor="middle" fill="#000" textLength="94.7" lengthAdjust="spacingAndGlyphs" transform="rotate(-90 491.8 60.6)">Generalisation Error</text>
<rect x="609.7" y="72.4" width="57.9" height="41.9" rx="1.5" fill="#fff" fill-opacity="0.8" stroke="#cccccc" stroke-width="0.7"/>
<text x="627.18" y="81" font-family='"Liberation Sans", sans-serif' font-size="7.56" text-anchor="start" fill="#000" font-style="italic" textLength="4.44" lengthAdjust="spacingAndGlyphs">σ</text>
<text x="631.62" y="82.4" font-family='"Liberation Sans", sans-serif' font-size="5.29" text-anchor="start" fill="#000" font-style="italic" textLength="4.01" lengthAdjust="spacingAndGlyphs">w</text>
<text x="639.12" y="81" font-family='"Liberation Sans", sans-serif' font-size="7.56" text-anchor="middle" fill="#000">|</text>
<text x="642.62" y="81" font-family='"Liberation Sans", sans-serif' font-size="7.56" text-anchor="start" fill="#000" font-style="italic" textLength="5.24" lengthAdjust="spacingAndGlyphs">N</text>
<text x="647.86" y="82.4" font-family='"Liberation Sans", sans-serif' font-size="5.29" text-anchor="start" fill="#000" font-style="italic" textLength="1.36" lengthAdjust="spacingAndGlyphs">l</text>
<circle cx="619.2" cy="88.8" r="1.6" fill="#5cb85c" fill-opacity="0.9"/>
<text x="632" y="91.3" font-family='"Liberation Sans", sans-serif' font-size="7.56" text-anchor="start" fill="#000" textLength="31.95" lengthAdjust="spacingAndGlyphs">unbiased</text>
<circle cx="619.2" cy="98.7" r="1.6" fill="#d62728" fill-opacity="0.9"/>
<text x="632" y="101.2" font-family='"Liberation Sans", sans-serif' font-size="7.56" text-anchor="start" fill="#000" textLength="20.17" lengthAdjust="spacingAndGlyphs">8 | 10</text>
<circle cx="619.2" cy="108.6" r="1.6" fill="#1f77b4" fill-opacity="0.9"/>
<text x="632" y="111.1" font-family='"Liberation Sans", sans-serif' font-size="7.56" text-anchor="start" fill="#000" textLength="20.17" lengthAdjust="spacingAndGlyphs">1 | 10</text>
</g>
<g>
<rect x="42" y="195.5" width="1.6" height="22.7" fill="#0000ff"/>
<rect x="53.9" y="198.1" width="1.6" height="20.1" fill="#0000ff"/>
<rect x="57.2" y="195.5" width="1.6" height="22.7" fill="#0000ff"/>
<rect x="60.1" y="216.7" width="1.6" height="1.5" fill="#0000ff"/>
<rect x="63.1" y="205.9" width="1.6" height="12.3" fill="#0000ff"/>
<rect x="65.9" y="217" width="1.6" height="1.2" fill="#0000ff"/>
<rect x="68.6" y="215" width="1.6" height="3.2" fill="#0000ff"/>
<rect x="71.7" y="214" width="1.6" height="4.2" fill="#0000ff"/>
<rect x="74.8" y="214" width="1.6" height="4.2" fill="#0000ff"/>
<rect x="78" y="215" width="1.6" height="3.2" fill="#0000ff"/>
<rect x="81" y="216.5" width="1.6" height="1.7" fill="#0000ff"/>
<rect x="83.8" y="217.2" width="1.6" height="1" fill="#0000ff"/>
<rect x="139.1" y="208" width="1.6" height="10.2" fill="#008000"/>
<rect x="142" y="208" width="1.6" height="10.2" fill="#008000"/>
<rect x="145.2" y="204.4" width="1.6" height="13.8" fill="#008000"/>
<rect x="148.1" y="201.5" width="1.6" height="16.7" fill="#008000"/>
<rect x="151.2" y="203.6" width="1.6" height="14.6" fill="#008000"/>
<rect x="154.4" y="208.7" width="1.6" height="9.5" fill="#008000"/>
<rect x="157.6" y="211.7" width="1.6" height="6.5" fill="#008000"/>
<rect x="160.5" y="214.3" width="1.6" height="3.9" fill="#008000"/>
<rect x="163.4" y="217.2" width="1.6" height="1" fill="#008000"/>
<rect x="90.7" y="217.7" width="1.6" height="0.5" fill="#ff0000"/>
<rect x="93.8" y="217.2" width="1.6" height="1" fill="#ff0000"/>
<rect x="96.7" y="217.6" width="1.6" height="0.6" fill="#ff0000"/>
<rect x="99.6" y="217" width="1.6" height="1.2" fill="#ff0000"/>
<rect x="102.6" y="216.5" width="1.6" height="1.7" fill="#ff0000"/>
<rect x="105.5" y="215.6" width="1.6" height="2.6" fill="#ff0000"/>
<rect x="108.4" y="215" width="1.6" height="3.2" fill="#ff0000"/>
<rect x="111.6" y="213.9" width="1.6" height="4.3" fill="#ff0000"/>
<rect x="114.7" y="213.1" width="1.6" height="5.1" fill="#ff0000"/>
<rect x="117.9" y="210.5" width="1.6" height="7.7" fill="#ff0000"/>
<rect x="120.8" y="209.2" width="1.6" height="9" fill="#ff0000"/>
<rect x="124" y="207.6" width="1.6" height="10.6" fill="#ff0000"/>
<rect x="127.1" y="206.3" width="1.6" height="11.9" fill="#ff0000"/>
<rect x="130" y="206.3" width="1.6" height="11.9" fill="#ff0000"/>
<rect x="133.2" y="208.3" width="1.6" height="9.9" fill="#ff0000"/>
<rect x="136.1" y="212.4" width="1.6" height="5.8" fill="#ff0000"/>
<rect x="139.1" y="213.1" width="1.6" height="5.1" fill="#ff0000"/>
<rect x="142" y="216.2" width="1.6" height="2" fill="#ff0000"/>
<rect x="145.2" y="217" width="1.6" height="1.2" fill="#ff0000"/>
<rect x="176" y="218.2" width="2.2" height="1.6" fill="#008000"/>
<rect x="176" y="221.32" width="4" height="1.6" fill="#008000"/>
<rect x="176" y="224.44" width="4.6" height="1.6" fill="#008000"/>
<rect x="176" y="227.56" width="5" height="1.6" fill="#008000"/>
<rect x="176" y="230.68" width="5.5" height="1.6" fill="#008000"/>
<rect x="176" y="233.8" width="6.2" height="1.6" fill="#008000"/>
<rect x="176" y="236.92" width="6.2" height="1.6" fill="#008000"/>
<rect x="176" y="240.04" width="5.7" height="1.6" fill="#008000"/>
<rect x="176" y="243.16" width="5.5" height="1.6" fill="#008000"/>
<rect x="176" y="246.28" width="4.6" height="1.6" fill="#008000"/>
<rect x="176" y="230.68" width="0.5" height="1.6" fill="#ff0000"/>
<rect x="176" y="233.8" width="1" height="1.6" fill="#ff0000"/>
<rect x="176" y="236.92" width="1.5" height="1.6" fill="#ff0000"/>
<rect x="176" y="240.04" width="2" height="1.6" fill="#ff0000"/>
<rect x="176" y="243.16" width="2.5" height="1.6" fill="#ff0000"/>
<rect x="176" y="246.28" width="3" height="1.6" fill="#ff0000"/>
<rect x="176" y="249.4" width="3.3" height="1.6" fill="#ff0000"/>
<rect x="176" y="252.52" width="4" height="1.6" fill="#ff0000"/>
<rect x="176" y="255.64" width="4.6" height="1.6" fill="#ff0000"/>
<rect x="176" y="258.76" width="5.5" height="1.6" fill="#ff0000"/>
<rect x="176" y="261.88" width="5" height="1.6" fill="#ff0000"/>
<rect x="176" y="265" width="6.2" height="1.6" fill="#ff0000"/>
<rect x="176" y="268.12" width="5.5" height="1.6" fill="#ff0000"/>
<rect x="176" y="271.24" width="5.7" height="1.6" fill="#ff0000"/>
<rect x="176" y="274.36" width="5" height="1.6" fill="#ff0000"/>
<rect x="176" y="277.48" width="4.6" height="1.6" fill="#ff0000"/>
<rect x="176" y="280.6" width="4" height="1.6" fill="#ff0000"/>
<rect x="176" y="283.72" width="2.9" height="1.6" fill="#ff0000"/>
<rect x="176" y="286.84" width="2.9" height="1.6" fill="#ff0000"/>
<rect x="176" y="289.96" width="2.4" height="1.6" fill="#ff0000"/>
<rect x="176" y="293.08" width="1.8" height="1.6" fill="#ff0000"/>
<rect x="176" y="296.2" width="1.8" height="1.6" fill="#ff0000"/>
<rect x="176" y="299.32" width="0.7" height="1.6" fill="#ff0000"/>
<rect x="176" y="302.44" width="0.4" height="1.6" fill="#ff0000"/>
<rect x="176" y="305.56" width="0.3" height="1.6" fill="#ff0000"/>
<rect x="176" y="308.68" width="0.3" height="1.6" fill="#ff0000"/>
<rect x="176" y="311.8" width="0.3" height="1.6" fill="#ff0000"/>
<rect x="176" y="314.92" width="0.3" height="1.6" fill="#ff0000"/>
<rect x="176" y="318.04" width="0.3" height="1.6" fill="#ff0000"/>
<rect x="176" y="320.8" width="2" height="1.6" fill="#0000ff"/>
<rect x="176" y="324.1" width="2" height="1.6" fill="#0000ff"/>
<rect x="176" y="327.1" width="2" height="1.6" fill="#0000ff"/>
<rect x="176" y="330.1" width="20" height="1.6" fill="#0000ff"/>
<rect x="176" y="333.3" width="27.5" height="1.6" fill="#0000ff"/>
<rect x="176" y="336.4" width="5" height="1.6" fill="#0000ff"/>
<line x1="175.7" y1="218.2" x2="175.7" y2="340.2" stroke="#888" stroke-width="0.9" stroke-linecap="butt"/>
<clipPath id="cp37"><rect x="37.4" y="218.2" width="137.6" height="122"/></clipPath>
<g clip-path="url(#cp37)">
<line x1="37.4" y1="238.2" x2="175" y2="238.2" stroke="#b0b0b0" stroke-width="0.9" stroke-linecap="butt" stroke-dasharray="0.9,1.6"/>
<path d="M51.7 338.1h0M54.8 335.0h0M54.8 331.9h0M57.8 338.1h0M60.8 338.1h0M60.8 328.7h0M63.9 338.1h0M66.9 338.1h0M66.9 322.5h0M70.0 319.4h0M79.1 335.0h0M79.1 313.1h0M82.1 331.9h0M85.2 331.9h0M85.2 328.7h0M88.2 313.1h0M91.2 328.7h0M91.2 325.6h0M94.3 319.4h0M94.3 313.1h0M97.3 316.3h0" stroke="#0000ff" stroke-opacity="0.33" stroke-width="2.45" stroke-linecap="round" fill="none"/>
<path d="M57.8 335.0h0M60.8 335.0h0M63.9 325.6h0M66.9 335.0h0M73.0 322.5h0M76.0 331.9h0M79.1 331.9h0M79.1 319.4h0M85.2 325.6h0M85.2 319.4h0M85.2 316.3h0M88.2 325.6h0M88.2 322.5h0M88.2 319.4h0M91.2 313.1h0" stroke="#0000ff" stroke-opacity="0.5" stroke-width="2.45" stroke-linecap="round" fill="none"/>
<path d="M63.9 328.7h0M66.9 328.7h0M70.0 335.0h0M70.0 331.9h0M73.0 335.0h0M73.0 319.4h0M79.1 316.3h0M82.1 328.7h0M82.1 322.5h0M88.2 316.3h0M91.2 322.5h0" stroke="#0000ff" stroke-opacity="0.67" stroke-width="2.45" stroke-linecap="round" fill="none"/>
<path d="M57.8 331.9h0M60.8 325.6h0M63.9 331.9h0M66.9 331.9h0M66.9 325.6h0M70.0 325.6h0M70.0 322.5h0M73.0 331.9h0M73.0 325.6h0M79.1 328.7h0M82.1 325.6h0M82.1 319.4h0M91.2 316.3h0" stroke="#0000ff" stroke-opacity="0.83" stroke-width="2.45" stroke-linecap="round" fill="none"/>
<path d="M60.8 331.9h0M63.9 335.0h0M70.0 328.7h0M73.0 328.7h0M76.0 328.7h0M76.0 325.6h0M76.0 322.5h0M76.0 319.4h0M79.1 325.6h0M79.1 322.5h0M85.2 322.5h0" stroke="#0000ff" stroke-opacity="1" stroke-width="2.45" stroke-linecap="round" fill="none"/>
<path d="M88.2 316.3h0M88.2 306.9h0M91.2 319.4h0M91.2 316.3h0M91.2 313.1h0M91.2 310.0h0M91.2 300.7h0M94.3 313.1h0M94.3 310.0h0M94.3 306.9h0M94.3 300.7h0M94.3 291.3h0M94.3 288.2h0M97.3 313.1h0M97.3 306.9h0M97.3 297.5h0M97.3 294.4h0M97.3 291.3h0M97.3 288.2h0M100.4 291.3h0M100.4 288.2h0M103.4 306.9h0M103.4 303.8h0M103.4 269.5h0M106.4 306.9h0M106.4 300.7h0M106.4 266.3h0M109.5 306.9h0M109.5 303.8h0M109.5 300.7h0M109.5 269.5h0M109.5 266.3h0M112.5 303.8h0M112.5 263.2h0M115.6 300.7h0M115.6 294.4h0M115.6 250.7h0M121.6 250.7h0M124.7 247.6h0M124.7 244.5h0M127.7 278.8h0M127.7 244.5h0M127.7 241.4h0M127.7 238.3h0M130.8 278.8h0M130.8 238.3h0M130.8 235.1h0M133.8 272.6h0M133.8 235.1h0M133.8 228.9h0M136.8 269.5h0M136.8 228.9h0M139.9 269.5h0M139.9 260.1h0M139.9 225.8h0M142.9 260.1h0M142.9 232.0h0M142.9 225.8h0M146.0 225.8h0M146.0 222.7h0M149.0 247.6h0M149.0 232.0h0M149.0 228.9h0M149.0 225.8h0M149.0 219.5h0M152.0 241.4h0M152.0 238.3h0M155.1 219.5h0M158.1 238.3h0M158.1 235.1h0" stroke="#ff0000" stroke-opacity="0.33" stroke-width="2.45" stroke-linecap="round" fill="none"/>
<path d="M91.2 294.4h0M94.3 303.8h0M97.3 303.8h0M100.4 300.7h0M100.4 297.5h0M100.4 294.4h0M106.4 303.8h0M106.4 297.5h0M106.4 294.4h0M109.5 297.5h0M109.5 294.4h0M109.5 272.6h0M112.5 297.5h0M112.5 266.3h0M118.6 291.3h0M118.6 257.0h0M121.6 253.9h0M130.8 272.6h0M133.8 269.5h0M136.8 225.8h0M139.9 263.2h0M139.9 257.0h0M142.9 263.2h0M142.9 228.9h0M146.0 253.9h0M146.0 250.7h0M146.0 232.0h0M146.0 228.9h0M149.0 244.5h0M149.0 235.1h0M152.0 244.5h0M152.0 232.0h0M155.1 232.0h0M155.1 228.9h0M161.2 228.9h0" stroke="#ff0000" stroke-opacity="0.5" stroke-width="2.45" stroke-linecap="round" fill="none"/>
<path d="M97.3 300.7h0M100.4 285.1h0M103.4 300.7h0M103.4 285.1h0M106.4 285.1h0M106.4 281.9h0M106.4 275.7h0M106.4 272.6h0M109.5 291.3h0M109.5 275.7h0M115.6 291.3h0M115.6 266.3h0M118.6 285.1h0M118.6 253.9h0M121.6 288.2h0M121.6 281.9h0M121.6 257.0h0M124.7 285.1h0M124.7 253.9h0M124.7 250.7h0M127.7 272.6h0M127.7 247.6h0M130.8 244.5h0M130.8 241.4h0M133.8 238.3h0M136.8 263.2h0M136.8 238.3h0M136.8 232.0h0M139.9 235.1h0M139.9 232.0h0M142.9 253.9h0M142.9 247.6h0M142.9 235.1h0M146.0 247.6h0M149.0 250.7h0M149.0 241.4h0M149.0 238.3h0M152.0 235.1h0M155.1 238.3h0" stroke="#ff0000" stroke-opacity="0.67" stroke-width="2.45" stroke-linecap="round" fill="none"/>
<path d="M100.4 303.8h0M103.4 294.4h0M103.4 291.3h0M106.4 291.3h0M106.4 288.2h0M106.4 278.8h0M112.5 294.4h0M112.5 291.3h0M112.5 285.1h0M112.5 272.6h0M115.6 285.1h0M115.6 269.5h0M115.6 263.2h0M115.6 260.1h0M118.6 288.2h0M124.7 281.9h0M124.7 278.8h0M124.7 275.7h0M127.7 275.7h0M127.7 250.7h0M130.8 266.3h0M133.8 266.3h0M133.8 260.1h0M133.8 244.5h0M133.8 241.4h0M136.8 260.1h0M136.8 257.0h0M136.8 250.7h0M136.8 244.5h0M136.8 241.4h0M136.8 235.1h0M139.9 253.9h0M139.9 250.7h0M139.9 241.4h0M142.9 250.7h0M142.9 244.5h0M142.9 241.4h0M146.0 244.5h0M146.0 241.4h0M146.0 238.3h0M146.0 235.1h0" stroke="#ff0000" stroke-opacity="0.83" stroke-width="2.45" stroke-linecap="round" fill="none"/>
<path d="M103.4 297.5h0M103.4 288.2h0M103.4 281.9h0M109.5 288.2h0M109.5 285.1h0M109.5 281.9h0M109.5 278.8h0M112.5 288.2h0M112.5 281.9h0M112.5 278.8h0M112.5 275.7h0M112.5 269.5h0M115.6 288.2h0M115.6 281.9h0M115.6 278.8h0M115.6 275.7h0M115.6 272.6h0M118.6 281.9h0M118.6 278.8h0M118.6 275.7h0M118.6 272.6h0M118.6 269.5h0M118.6 266.3h0M118.6 263.2h0M118.6 260.1h0M121.6 285.1h0M121.6 278.8h0M121.6 275.7h0M121.6 272.6h0M121.6 269.5h0M121.6 266.3h0M121.6 263.2h0M121.6 260.1h0M124.7 272.6h0M124.7 269.5h0M124.7 266.3h0M124.7 263.2h0M124.7 260.1h0M124.7 257.0h0M127.7 269.5h0M127.7 266.3h0M127.7 263.2h0M127.7 260.1h0M127.7 257.0h0M127.7 253.9h0M130.8 269.5h0M130.8 263.2h0M130.8 260.1h0M130.8 257.0h0M130.8 253.9h0M130.8 250.7h0M130.8 247.6h0M133.8 263.2h0M133.8 257.0h0M133.8 253.9h0M133.8 250.7h0M133.8 247.6h0M136.8 253.9h0M136.8 247.6h0M139.9 247.6h0M139.9 244.5h0M139.9 238.3h0M142.9 238.3h0" stroke="#ff0000" stroke-opacity="1" stroke-width="2.45" stroke-linecap="round" fill="none"/>
<path d="M133.8 247.6h0M133.8 232.0h0M133.8 228.9h0M136.8 260.1h0M136.8 250.7h0M136.8 244.5h0M136.8 241.4h0M136.8 238.3h0M136.8 222.7h0M139.9 266.3h0M139.9 228.9h0M139.9 225.8h0M142.9 225.8h0M142.9 222.7h0M146.0 257.0h0M146.0 219.5h0M149.0 253.9h0M155.1 250.7h0M161.2 238.3h0M164.2 244.5h0M164.2 241.4h0M164.2 235.1h0M164.2 232.0h0M167.2 235.1h0M167.2 225.8h0M170.3 228.9h0M170.3 225.8h0M170.3 219.5h0" stroke="#008000" stroke-opacity="0.33" stroke-width="2.45" stroke-linecap="round" fill="none"/>
<path d="M133.8 250.7h0M136.8 247.6h0M139.9 260.1h0M139.9 241.4h0M139.9 238.3h0M139.9 232.0h0M142.9 257.0h0M146.0 260.1h0M146.0 250.7h0M158.1 247.6h0M158.1 244.5h0M161.2 244.5h0M161.2 241.4h0M164.2 228.9h0M167.2 232.0h0M167.2 222.7h0" stroke="#008000" stroke-opacity="0.5" stroke-width="2.45" stroke-linecap="round" fill="none"/>
<path d="M133.8 257.0h0M133.8 253.9h0M139.9 250.7h0M139.9 235.1h0M142.9 253.9h0M142.9 250.7h0M142.9 232.0h0M142.9 228.9h0M146.0 253.9h0M146.0 222.7h0M149.0 219.5h0M152.0 247.6h0M155.1 247.6h0M161.2 232.0h0M161.2 228.9h0M164.2 225.8h0M164.2 219.5h0M167.2 219.5h0" stroke="#008000" stroke-opacity="0.67" stroke-width="2.45" stroke-linecap="round" fill="none"/>
<path d="M139.9 253.9h0M139.9 247.6h0M139.9 244.5h0M142.9 244.5h0M142.9 241.4h0M142.9 238.3h0M142.9 235.1h0M146.0 247.6h0M146.0 238.3h0M146.0 232.0h0M146.0 228.9h0M149.0 250.7h0M149.0 247.6h0M149.0 244.5h0M149.0 222.7h0M152.0 250.7h0M152.0 219.5h0M155.1 244.5h0M158.1 241.4h0M158.1 238.3h0M158.1 235.1h0M158.1 219.5h0M161.2 235.1h0M161.2 222.7h0M161.2 219.5h0M164.2 222.7h0" stroke="#008000" stroke-opacity="0.83" stroke-width="2.45" stroke-linecap="round" fill="none"/>
<path d="M142.9 247.6h0M146.0 244.5h0M146.0 241.4h0M146.0 235.1h0M146.0 225.8h0M149.0 241.4h0M149.0 238.3h0M149.0 235.1h0M149.0 232.0h0M149.0 228.9h0M149.0 225.8h0M152.0 244.5h0M152.0 241.4h0M152.0 238.3h0M152.0 235.1h0M152.0 232.0h0M152.0 228.9h0M152.0 225.8h0M152.0 222.7h0M155.1 241.4h0M155.1 238.3h0M155.1 235.1h0M155.1 232.0h0M155.1 228.9h0M155.1 225.8h0M155.1 222.7h0M155.1 219.5h0M158.1 232.0h0M158.1 228.9h0M158.1 225.8h0M158.1 222.7h0M161.2 225.8h0" stroke="#008000" stroke-opacity="1" stroke-width="2.45" stroke-linecap="round" fill="none"/>
<line x1="64.7" y1="218.2" x2="64.7" y2="340.2" stroke="#000" stroke-width="0.9" stroke-linecap="butt" stroke-dasharray="2.6,1.6"/>
<path d="M41.9 330.2L44.9 333.2M41.9 333.2L44.9 330.2" stroke="#000" stroke-width="1.3" fill="none"/>
<path d="M122.8 270.7L125.8 273.7M122.8 273.7L125.8 270.7" stroke="#000" stroke-width="1.3" fill="none"/>
<path d="M150.2 233.4L153.2 236.4M150.2 236.4L153.2 233.4" stroke="#000" stroke-width="1.3" fill="none"/>
</g>
<line x1="37.4" y1="218.2" x2="37.4" y2="340.2" stroke="#000" stroke-width="0.9" stroke-linecap="butt"/>
<line x1="37.4" y1="218.2" x2="175" y2="218.2" stroke="#000" stroke-width="0.9" stroke-linecap="butt"/>
<line x1="37.4" y1="340.2" x2="175" y2="340.2" stroke="#000" stroke-width="0.9" stroke-linecap="butt"/>
<line x1="175" y1="218.2" x2="175" y2="340.2" stroke="#555" stroke-width="0.9" stroke-linecap="butt"/>
<line x1="37.4" y1="340.2" x2="37.4" y2="343.7" stroke="#000" stroke-width="0.8" stroke-linecap="butt"/>
<text x="37.4" y="353.1" font-family='"Liberation Sans", sans-serif' font-size="9.29" text-anchor="middle" fill="#000" textLength="6.36" lengthAdjust="spacingAndGlyphs">0</text>
<line x1="71.77" y1="340.2" x2="71.77" y2="343.7" stroke="#000" stroke-width="0.8" stroke-linecap="butt"/>
<text x="71.77" y="353.1" font-family='"Liberation Sans", sans-serif' font-size="9.29" text-anchor="middle" fill="#000" textLength="12.72" lengthAdjust="spacingAndGlyphs">40</text>
<line x1="106.14" y1="340.2" x2="106.14" y2="343.7" stroke="#000" stroke-width="0.8" stroke-linecap="butt"/>
<text x="106.14" y="353.1" font-family='"Liberation Sans", sans-serif' font-size="9.29" text-anchor="middle" fill="#000" textLength="12.72" lengthAdjust="spacingAndGlyphs">80</text>
<line x1="140.52" y1="340.2" x2="140.52" y2="343.7" stroke="#000" stroke-width="0.8" stroke-linecap="butt"/>
<text x="140.52" y="353.1" font-family='"Liberation Sans", sans-serif' font-size="9.29" text-anchor="middle" fill="#000" textLength="19.09" lengthAdjust="spacingAndGlyphs">120</text>
<line x1="174.89" y1="340.2" x2="174.89" y2="343.7" stroke="#000" stroke-width="0.8" stroke-linecap="butt"/>
<text x="174.89" y="353.1" font-family='"Liberation Sans", sans-serif' font-size="9.29" text-anchor="middle" fill="#000" textLength="19.09" lengthAdjust="spacingAndGlyphs">160</text>
<line x1="33.9" y1="338.1" x2="37.4" y2="338.1" stroke="#000" stroke-width="0.8" stroke-linecap="butt"/>
<text x="29.8" y="341.6" font-family='"Liberation Sans", sans-serif' font-size="9.29" text-anchor="end" fill="#000" textLength="15.9" lengthAdjust="spacingAndGlyphs">0.0</text>
<line x1="33.9" y1="298.14" x2="37.4" y2="298.14" stroke="#000" stroke-width="0.8" stroke-linecap="butt"/>
<text x="29.8" y="301.64" font-family='"Liberation Sans", sans-serif' font-size="9.29" text-anchor="end" fill="#000" textLength="15.9" lengthAdjust="spacingAndGlyphs">0.2</text>
<line x1="33.9" y1="258.18" x2="37.4" y2="258.18" stroke="#000" stroke-width="0.8" stroke-linecap="butt"/>
<text x="29.8" y="261.68" font-family='"Liberation Sans", sans-serif' font-size="9.29" text-anchor="end" fill="#000" textLength="15.9" lengthAdjust="spacingAndGlyphs">0.4</text>
<line x1="33.9" y1="218.22" x2="37.4" y2="218.22" stroke="#000" stroke-width="0.8" stroke-linecap="butt"/>
<text x="29.8" y="221.72" font-family='"Liberation Sans", sans-serif' font-size="9.29" text-anchor="end" fill="#000" textLength="15.9" lengthAdjust="spacingAndGlyphs">0.6</text>
<text x="106.2" y="364.8" font-family='"Liberation Sans", sans-serif' font-size="9.29" text-anchor="middle" fill="#000" textLength="109.8" lengthAdjust="spacingAndGlyphs">Output LZ Complexity</text>
<text x="8.2" y="279.5" font-family='"Liberation Sans", sans-serif' font-size="10.8" text-anchor="middle" fill="#000" textLength="87" lengthAdjust="spacingAndGlyphs" transform="rotate(-90 8.2 279.5)">Generalisation Error</text>
<rect x="41" y="221.3" width="52.5" height="39.1" rx="1.5" fill="#fff" fill-opacity="0.8" stroke="#cccccc" stroke-width="0.7"/>
<text x="55.61" y="229.4" font-family='"Liberation Sans", sans-serif' font-size="7.34" text-anchor="start" fill="#000" font-style="italic" textLength="4.31" lengthAdjust="spacingAndGlyphs">σ</text>
<text x="59.92" y="230.76" font-family='"Liberation Sans", sans-serif' font-size="5.14" text-anchor="start" fill="#000" font-style="italic" textLength="3.89" lengthAdjust="spacingAndGlyphs">w</text>
<text x="67.9" y="229.4" font-family='"Liberation Sans", sans-serif' font-size="7.34" text-anchor="middle" fill="#000">|</text>
<text x="71.98" y="229.4" font-family='"Liberation Sans", sans-serif' font-size="7.34" text-anchor="start" fill="#000" font-style="italic" textLength="5.09" lengthAdjust="spacingAndGlyphs">N</text>
<text x="77.06" y="230.76" font-family='"Liberation Sans", sans-serif' font-size="5.14" text-anchor="start" fill="#000" font-style="italic" textLength="1.32" lengthAdjust="spacingAndGlyphs">l</text>
<path d="M49.6 236.2h2.2v1h-2.2zM50.2 235.6h1v2.2h-1z" fill="#0000ff" fill-opacity="0.35"/>
<text x="63.6" y="238.9" font-family='"Liberation Sans", sans-serif' font-size="6.37" text-anchor="start" fill="#000" textLength="19.59" lengthAdjust="spacingAndGlyphs">1 | 10</text>
<path d="M49.6 245.2h2.2v1h-2.2zM50.2 244.6h1v2.2h-1z" fill="#ff0000" fill-opacity="0.35"/>
<text x="63.6" y="247.9" font-family='"Liberation Sans", sans-serif' font-size="6.37" text-anchor="start" fill="#000" textLength="19.59" lengthAdjust="spacingAndGlyphs">8 | 10</text>
<path d="M49.6 254.2h2.2v1h-2.2zM50.2 253.6h1v2.2h-1z" fill="#008000" fill-opacity="0.35"/>
<text x="63.6" y="256.9" font-family='"Liberation Sans", sans-serif' font-size="6.37" text-anchor="start" fill="#000" textLength="26.37" lengthAdjust="spacingAndGlyphs">random</text>
</g>
<g>
<rect x="293.9" y="217.9" width="1.6" height="0.3" fill="#0000ff"/>
<rect x="297" y="217.2" width="1.6" height="1" fill="#0000ff"/>
<rect x="300.1" y="217.8" width="1.6" height="0.4" fill="#0000ff"/>
<rect x="303.2" y="217.2" width="1.6" height="1" fill="#0000ff"/>
<rect x="306.1" y="215.4" width="1.6" height="2.8" fill="#0000ff"/>
<rect x="309.1" y="215.6" width="1.6" height="2.6" fill="#0000ff"/>
<rect x="312.2" y="212.3" width="1.6" height="5.9" fill="#0000ff"/>
<rect x="315.1" y="211.8" width="1.6" height="6.4" fill="#0000ff"/>
<rect x="318.1" y="209.5" width="1.6" height="8.7" fill="#0000ff"/>
<rect x="321.2" y="208.1" width="1.6" height="10.1" fill="#0000ff"/>
<rect x="324.3" y="205.7" width="1.6" height="12.5" fill="#0000ff"/>
<rect x="327.2" y="206.4" width="1.6" height="11.8" fill="#0000ff"/>
<rect x="330.2" y="207.3" width="1.6" height="10.9" fill="#0000ff"/>
<rect x="333.2" y="208.1" width="1.6" height="10.1" fill="#0000ff"/>
<rect x="336.3" y="210.4" width="1.6" height="7.8" fill="#0000ff"/>
<rect x="339.3" y="213" width="1.6" height="5.2" fill="#0000ff"/>
<rect x="342.4" y="213" width="1.6" height="5.2" fill="#0000ff"/>
<rect x="345.5" y="213.4" width="1.6" height="4.8" fill="#0000ff"/>
<rect x="348.6" y="216" width="1.6" height="2.2" fill="#0000ff"/>
<rect x="351.5" y="216.8" width="1.6" height="1.4" fill="#0000ff"/>
<rect x="382" y="204" width="1.6" height="14.2" fill="#008000"/>
<rect x="385.1" y="198.5" width="1.6" height="19.7" fill="#008000"/>
<rect x="388" y="195.2" width="1.6" height="23" fill="#008000"/>
<rect x="391.1" y="202.3" width="1.6" height="15.9" fill="#008000"/>
<rect x="394.2" y="205.6" width="1.6" height="12.6" fill="#008000"/>
<rect x="397.1" y="209.4" width="1.6" height="8.8" fill="#008000"/>
<rect x="400.2" y="215.2" width="1.6" height="3" fill="#008000"/>
<rect x="403.1" y="217.1" width="1.6" height="1.1" fill="#008000"/>
<rect x="406.1" y="217.4" width="1.6" height="0.8" fill="#008000"/>
<rect x="345.5" y="217.7" width="1.6" height="0.5" fill="#ff0000"/>
<rect x="348.6" y="217.7" width="1.6" height="0.5" fill="#ff0000"/>
<rect x="351.5" y="217.4" width="1.6" height="0.8" fill="#ff0000"/>
<rect x="354.6" y="214.1" width="1.6" height="4.1" fill="#ff0000"/>
<rect x="357.6" y="212.7" width="1.6" height="5.5" fill="#ff0000"/>
<rect x="360.6" y="210.3" width="1.6" height="7.9" fill="#ff0000"/>
<rect x="363.7" y="210.3" width="1.6" height="7.9" fill="#ff0000"/>
<rect x="366.9" y="207" width="1.6" height="11.2" fill="#ff0000"/>
<rect x="369.9" y="207" width="1.6" height="11.2" fill="#ff0000"/>
<rect x="372.9" y="206.2" width="1.6" height="12" fill="#ff0000"/>
<rect x="376" y="206.2" width="1.6" height="12" fill="#ff0000"/>
<rect x="379" y="207.2" width="1.6" height="11" fill="#ff0000"/>
<rect x="382" y="207.2" width="1.6" height="11" fill="#ff0000"/>
<rect x="385.1" y="210.9" width="1.6" height="7.3" fill="#ff0000"/>
<rect x="388" y="214.1" width="1.6" height="4.1" fill="#ff0000"/>
<rect x="391.1" y="216" width="1.6" height="2.2" fill="#ff0000"/>
<rect x="394.2" y="217.1" width="1.6" height="1.1" fill="#ff0000"/>
<rect x="416" y="218.6" width="5.5" height="1.6" fill="#008000"/>
<rect x="416" y="221.7" width="7.3" height="1.6" fill="#008000"/>
<rect x="416" y="224.8" width="9" height="1.6" fill="#008000"/>
<rect x="416" y="227.9" width="11.7" height="1.6" fill="#008000"/>
<rect x="416" y="231" width="15" height="1.6" fill="#008000"/>
<rect x="416" y="234.1" width="16.7" height="1.6" fill="#008000"/>
<rect x="416" y="237.2" width="15.4" height="1.6" fill="#008000"/>
<rect x="416" y="240.3" width="15" height="1.6" fill="#008000"/>
<rect x="416" y="243.4" width="16" height="1.6" fill="#008000"/>
<rect x="416" y="246.5" width="11.7" height="1.6" fill="#008000"/>
<rect x="416" y="293" width="4.6" height="1.6" fill="#0000ff"/>
<rect x="416" y="296.1" width="5.5" height="1.6" fill="#0000ff"/>
<rect x="416" y="299.2" width="9" height="1.6" fill="#0000ff"/>
<rect x="416" y="302.3" width="17.2" height="1.6" fill="#0000ff"/>
<rect x="416" y="305.4" width="18.3" height="1.6" fill="#0000ff"/>
<rect x="416" y="308.5" width="23.8" height="1.6" fill="#0000ff"/>
<rect x="416" y="311.6" width="27" height="1.6" fill="#0000ff"/>
<rect x="416" y="314.7" width="24.4" height="1.6" fill="#0000ff"/>
<rect x="416" y="317.8" width="15.6" height="1.6" fill="#0000ff"/>
<rect x="416" y="320.9" width="8.4" height="1.6" fill="#0000ff"/>
<rect x="416" y="324" width="2.4" height="1.6" fill="#0000ff"/>
<rect x="416" y="327.1" width="0.7" height="1.6" fill="#0000ff"/>
<rect x="416" y="218.6" width="0.5" height="1.6" fill="#ff0000"/>
<rect x="416" y="221.7" width="0.5" height="1.6" fill="#ff0000"/>
<rect x="416" y="224.8" width="0.8" height="1.6" fill="#ff0000"/>
<rect x="416" y="227.9" width="1.2" height="1.6" fill="#ff0000"/>
<rect x="416" y="231" width="2" height="1.6" fill="#ff0000"/>
<rect x="416" y="234.1" width="2.9" height="1.6" fill="#ff0000"/>
<rect x="416" y="237.2" width="2.9" height="1.6" fill="#ff0000"/>
<rect x="416" y="240.3" width="5" height="1.6" fill="#ff0000"/>
<rect x="416" y="243.4" width="6.2" height="1.6" fill="#ff0000"/>
<rect x="416" y="246.5" width="7.3" height="1.6" fill="#ff0000"/>
<rect x="416" y="249.6" width="9.5" height="1.6" fill="#ff0000"/>
<rect x="416" y="252.7" width="9.9" height="1.6" fill="#ff0000"/>
<rect x="416" y="255.8" width="11.7" height="1.6" fill="#ff0000"/>
<rect x="416" y="258.9" width="12.8" height="1.6" fill="#ff0000"/>
<rect x="416" y="262" width="13.4" height="1.6" fill="#ff0000"/>
<rect x="416" y="265.1" width="13.9" height="1.6" fill="#ff0000"/>
<rect x="416" y="268.2" width="12.8" height="1.6" fill="#ff0000"/>
<rect x="416" y="271.3" width="12.1" height="1.6" fill="#ff0000"/>
<rect x="416" y="274.4" width="9" height="1.6" fill="#ff0000"/>
<rect x="416" y="277.5" width="7.7" height="1.6" fill="#ff0000"/>
<rect x="416" y="280.6" width="6.2" height="1.6" fill="#ff0000"/>
<rect x="416" y="283.7" width="6.2" height="1.6" fill="#ff0000"/>
<rect x="416" y="286.8" width="4" height="1.6" fill="#ff0000"/>
<rect x="416" y="289.9" width="3.3" height="1.6" fill="#ff0000"/>
<rect x="416" y="293" width="1.5" height="1.6" fill="#ff0000"/>
<rect x="416" y="296.1" width="1" height="1.6" fill="#ff0000"/>
<rect x="416" y="299.2" width="0.5" height="1.6" fill="#ff0000"/>
<line x1="415.7" y1="218.2" x2="415.7" y2="339.8" stroke="#888" stroke-width="0.9" stroke-linecap="butt"/>
<clipPath id="cp277"><rect x="277.5" y="218.2" width="137" height="121.6"/></clipPath>
<g clip-path="url(#cp277)">
<line x1="277.5" y1="237.15" x2="414.5" y2="237.15" stroke="#b0b0b0" stroke-width="0.9" stroke-linecap="butt" stroke-dasharray="0.9,1.6"/>
<path d="M291.7 322.9h0M294.7 326.0h0M297.8 329.1h0M297.8 322.9h0M297.8 316.7h0M297.8 307.4h0M300.8 326.0h0M300.8 322.9h0M300.8 310.5h0M303.8 326.0h0M303.8 322.9h0M303.8 307.4h0M303.8 301.2h0M306.9 322.9h0M306.9 304.3h0M309.9 329.1h0M309.9 326.0h0M312.9 329.1h0M312.9 326.0h0M312.9 301.2h0M312.9 298.1h0M315.9 332.2h0M315.9 326.0h0M319.0 295.0h0M322.0 329.1h0M322.0 295.0h0M325.0 326.0h0M328.1 326.0h0M328.1 295.0h0M331.1 322.9h0M331.1 295.0h0M334.1 326.0h0M334.1 295.0h0M337.1 295.0h0M340.2 322.9h0M340.2 319.8h0M340.2 295.0h0M340.2 291.9h0M343.2 316.7h0M343.2 295.0h0M346.2 313.6h0M346.2 295.0h0M349.3 313.6h0M349.3 304.3h0M349.3 298.1h0M349.3 295.0h0M349.3 291.9h0M352.3 307.4h0M352.3 298.1h0M352.3 295.0h0M355.3 298.1h0M355.3 295.0h0M355.3 291.9h0M361.4 310.5h0M361.4 298.1h0" stroke="#0000ff" stroke-opacity="0.33" stroke-width="2.45" stroke-linecap="round" fill="none"/>
<path d="M297.8 319.8h0M300.8 329.1h0M300.8 319.8h0M300.8 307.4h0M303.8 304.3h0M306.9 307.4h0M309.9 322.9h0M309.9 304.3h0M315.9 298.1h0M315.9 295.0h0M322.0 326.0h0M325.0 298.1h0M325.0 295.0h0M328.1 322.9h0M334.1 298.1h0M337.1 298.1h0M340.2 298.1h0M346.2 316.7h0M346.2 291.9h0M349.3 310.5h0M349.3 307.4h0M352.3 304.3h0M352.3 301.2h0M352.3 291.9h0M361.4 307.4h0" stroke="#0000ff" stroke-opacity="0.5" stroke-width="2.45" stroke-linecap="round" fill="none"/>
<path d="M294.7 316.7h0M300.8 313.6h0M303.8 319.8h0M303.8 316.7h0M303.8 310.5h0M312.9 304.3h0M315.9 322.9h0M319.0 326.0h0M322.0 298.1h0M331.1 298.1h0M334.1 322.9h0M340.2 316.7h0M346.2 307.4h0M346.2 298.1h0" stroke="#0000ff" stroke-opacity="0.67" stroke-width="2.45" stroke-linecap="round" fill="none"/>
<path d="M300.8 316.7h0M306.9 313.6h0M309.9 319.8h0M309.9 307.4h0M312.9 322.9h0M315.9 301.2h0M319.0 301.2h0M322.0 322.9h0M325.0 301.2h0M328.1 319.8h0M328.1 301.2h0M328.1 298.1h0M331.1 319.8h0M334.1 301.2h0M340.2 301.2h0M343.2 307.4h0M343.2 304.3h0M343.2 301.2h0M346.2 310.5h0M346.2 301.2h0M349.3 301.2h0" stroke="#0000ff" stroke-opacity="0.83" stroke-width="2.45" stroke-linecap="round" fill="none"/>
<path d="M303.8 313.6h0M306.9 319.8h0M306.9 316.7h0M306.9 310.5h0M309.9 316.7h0M309.9 313.6h0M309.9 310.5h0M312.9 319.8h0M312.9 316.7h0M312.9 313.6h0M312.9 310.5h0M312.9 307.4h0M315.9 319.8h0M315.9 316.7h0M315.9 313.6h0M315.9 310.5h0M315.9 307.4h0M315.9 304.3h0M319.0 322.9h0M319.0 319.8h0M319.0 316.7h0M319.0 313.6h0M319.0 310.5h0M319.0 307.4h0M319.0 304.3h0M322.0 319.8h0M322.0 316.7h0M322.0 313.6h0M322.0 310.5h0M322.0 307.4h0M322.0 304.3h0M322.0 301.2h0M325.0 322.9h0M325.0 319.8h0M325.0 316.7h0M325.0 313.6h0M325.0 310.5h0M325.0 307.4h0M325.0 304.3h0M328.1 316.7h0M328.1 313.6h0M328.1 310.5h0M328.1 307.4h0M328.1 304.3h0M331.1 316.7h0M331.1 313.6h0M331.1 310.5h0M331.1 307.4h0M331.1 304.3h0M331.1 301.2h0M334.1 319.8h0M334.1 316.7h0M334.1 313.6h0M334.1 310.5h0M334.1 307.4h0M334.1 304.3h0M337.1 319.8h0M337.1 316.7h0M337.1 313.6h0M337.1 310.5h0M337.1 307.4h0M337.1 304.3h0M337.1 301.2h0M340.2 313.6h0M340.2 310.5h0M340.2 307.4h0M340.2 304.3h0M343.2 313.6h0M343.2 310.5h0M343.2 298.1h0M346.2 304.3h0" stroke="#0000ff" stroke-opacity="1" stroke-width="2.45" stroke-linecap="round" fill="none"/>
<path d="M334.1 322.9h0M334.1 316.7h0M337.1 322.9h0M337.1 316.7h0M337.1 313.6h0M337.1 307.4h0M340.2 329.1h0M340.2 326.0h0M340.2 313.6h0M340.2 291.9h0M343.2 319.8h0M343.2 313.6h0M343.2 310.5h0M343.2 307.4h0M343.2 304.3h0M343.2 295.0h0M343.2 291.9h0M346.2 316.7h0M346.2 310.5h0M346.2 285.7h0M349.3 307.4h0M349.3 285.7h0M349.3 282.6h0M352.3 313.6h0M352.3 276.4h0M352.3 273.3h0M355.3 307.4h0M355.3 270.2h0M355.3 267.1h0M355.3 264.0h0M355.3 260.9h0M358.4 307.4h0M358.4 304.3h0M358.4 267.1h0M358.4 254.7h0M361.4 304.3h0M361.4 301.2h0M361.4 257.8h0M364.4 304.3h0M364.4 251.6h0M364.4 248.5h0M364.4 245.4h0M367.4 298.1h0M367.4 295.0h0M370.5 301.2h0M370.5 298.1h0M370.5 291.9h0M370.5 245.4h0M373.5 301.2h0M373.5 295.0h0M373.5 291.9h0M373.5 242.3h0M373.5 236.1h0M376.5 288.8h0M376.5 282.6h0M376.5 239.2h0M376.5 233.0h0M379.6 285.7h0M382.6 276.4h0M382.6 233.0h0M385.6 282.6h0M385.6 279.5h0M385.6 276.4h0M385.6 233.0h0M385.6 223.7h0M388.7 233.0h0M388.7 229.9h0M388.7 226.8h0M391.7 264.0h0M391.7 257.8h0M391.7 233.0h0M391.7 229.9h0M391.7 220.6h0M394.7 257.8h0M394.7 251.6h0M394.7 239.2h0M394.7 229.9h0M397.8 254.7h0M397.8 251.6h0M397.8 239.2h0M400.8 226.8h0M400.8 223.7h0M403.8 223.7h0" stroke="#ff0000" stroke-opacity="0.33" stroke-width="2.45" stroke-linecap="round" fill="none"/>
<path d="M340.2 310.5h0M340.2 304.3h0M343.2 301.2h0M346.2 291.9h0M349.3 310.5h0M349.3 304.3h0M349.3 288.8h0M352.3 307.4h0M352.3 304.3h0M352.3 282.6h0M352.3 279.5h0M355.3 310.5h0M355.3 301.2h0M358.4 264.0h0M358.4 257.8h0M361.4 307.4h0M364.4 307.4h0M367.4 254.7h0M373.5 285.7h0M373.5 245.4h0M373.5 239.2h0M376.5 285.7h0M379.6 282.6h0M379.6 276.4h0M382.6 279.5h0M382.6 239.2h0M385.6 267.1h0M385.6 236.1h0M385.6 229.9h0M388.7 267.1h0M388.7 264.0h0M388.7 257.8h0M391.7 267.1h0M391.7 248.5h0M391.7 245.4h0M391.7 242.3h0M391.7 226.8h0M391.7 223.7h0M394.7 245.4h0M394.7 233.0h0M397.8 242.3h0M397.8 233.0h0M397.8 229.9h0M397.8 226.8h0M400.8 236.1h0" stroke="#ff0000" stroke-opacity="0.5" stroke-width="2.45" stroke-linecap="round" fill="none"/>
<path d="M343.2 298.1h0M346.2 307.4h0M346.2 298.1h0M346.2 295.0h0M349.3 298.1h0M349.3 295.0h0M349.3 291.9h0M349.3 279.5h0M352.3 310.5h0M355.3 304.3h0M355.3 273.3h0M358.4 298.1h0M358.4 270.2h0M361.4 298.1h0M361.4 260.9h0M364.4 301.2h0M364.4 257.8h0M364.4 254.7h0M367.4 248.5h0M367.4 245.4h0M370.5 288.8h0M373.5 288.8h0M373.5 282.6h0M373.5 248.5h0M376.5 245.4h0M379.6 279.5h0M379.6 273.3h0M385.6 270.2h0M385.6 264.0h0M385.6 260.9h0M388.7 270.2h0M388.7 260.9h0M388.7 251.6h0M388.7 245.4h0M391.7 260.9h0M391.7 236.1h0M394.7 248.5h0M394.7 236.1h0" stroke="#ff0000" stroke-opacity="0.67" stroke-width="2.45" stroke-linecap="round" fill="none"/>
<path d="M346.2 304.3h0M346.2 301.2h0M349.3 301.2h0M352.3 298.1h0M352.3 288.8h0M355.3 298.1h0M355.3 288.8h0M355.3 276.4h0M358.4 301.2h0M358.4 295.0h0M358.4 276.4h0M361.4 264.0h0M364.4 298.1h0M364.4 295.0h0M364.4 264.0h0M364.4 260.9h0M367.4 257.8h0M367.4 251.6h0M370.5 248.5h0M376.5 242.3h0M379.6 245.4h0M379.6 242.3h0M379.6 236.1h0M382.6 273.3h0M382.6 270.2h0M382.6 264.0h0M382.6 245.4h0M382.6 242.3h0M382.6 236.1h0M385.6 251.6h0M388.7 254.7h0M388.7 248.5h0M388.7 242.3h0M388.7 239.2h0M388.7 236.1h0M391.7 254.7h0M391.7 251.6h0M391.7 239.2h0M394.7 242.3h0" stroke="#ff0000" stroke-opacity="0.83" stroke-width="2.45" stroke-linecap="round" fill="none"/>
<path d="M352.3 301.2h0M352.3 295.0h0M352.3 291.9h0M352.3 285.7h0M355.3 295.0h0M355.3 291.9h0M355.3 285.7h0M355.3 282.6h0M355.3 279.5h0M358.4 291.9h0M358.4 288.8h0M358.4 285.7h0M358.4 282.6h0M358.4 279.5h0M358.4 273.3h0M361.4 295.0h0M361.4 291.9h0M361.4 288.8h0M361.4 285.7h0M361.4 282.6h0M361.4 279.5h0M361.4 276.4h0M361.4 273.3h0M361.4 270.2h0M361.4 267.1h0M364.4 291.9h0M364.4 288.8h0M364.4 285.7h0M364.4 282.6h0M364.4 279.5h0M364.4 276.4h0M364.4 273.3h0M364.4 270.2h0M364.4 267.1h0M367.4 291.9h0M367.4 288.8h0M367.4 285.7h0M367.4 282.6h0M367.4 279.5h0M367.4 276.4h0M367.4 273.3h0M367.4 270.2h0M367.4 267.1h0M367.4 264.0h0M367.4 260.9h0M370.5 285.7h0M370.5 282.6h0M370.5 279.5h0M370.5 276.4h0M370.5 273.3h0M370.5 270.2h0M370.5 267.1h0M370.5 264.0h0M370.5 260.9h0M370.5 257.8h0M370.5 254.7h0M370.5 251.6h0M373.5 279.5h0M373.5 276.4h0M373.5 273.3h0M373.5 270.2h0M373.5 267.1h0M373.5 264.0h0M373.5 260.9h0M373.5 257.8h0M373.5 254.7h0M373.5 251.6h0M376.5 279.5h0M376.5 276.4h0M376.5 273.3h0M376.5 270.2h0M376.5 267.1h0M376.5 264.0h0M376.5 260.9h0M376.5 257.8h0M376.5 254.7h0M376.5 251.6h0M376.5 248.5h0M379.6 270.2h0M379.6 267.1h0M379.6 264.0h0M379.6 260.9h0M379.6 257.8h0M379.6 254.7h0M379.6 251.6h0M379.6 248.5h0M379.6 239.2h0M382.6 267.1h0M382.6 260.9h0M382.6 257.8h0M382.6 254.7h0M382.6 251.6h0M382.6 248.5h0M385.6 257.8h0M385.6 254.7h0M385.6 248.5h0M385.6 245.4h0M385.6 242.3h0M385.6 239.2h0" stroke="#ff0000" stroke-opacity="1" stroke-width="2.45" stroke-linecap="round" fill="none"/>
<path d="M370.5 251.6h0M370.5 248.5h0M376.5 251.6h0M376.5 239.2h0M376.5 236.1h0M379.6 248.5h0M379.6 245.4h0M379.6 239.2h0M379.6 236.1h0M379.6 233.0h0M379.6 229.9h0M382.6 245.4h0M382.6 229.9h0M382.6 226.8h0M385.6 220.6h0M388.7 251.6h0M391.7 248.5h0M391.7 245.4h0M394.7 245.4h0M394.7 242.3h0M400.8 242.3h0M403.8 239.2h0M403.8 236.1h0M406.8 236.1h0M406.8 229.9h0M409.9 233.0h0M409.9 223.7h0M412.9 223.7h0M412.9 220.6h0" stroke="#008000" stroke-opacity="0.33" stroke-width="2.45" stroke-linecap="round" fill="none"/>
<path d="M376.5 245.4h0M376.5 242.3h0M379.6 242.3h0M382.6 223.7h0M385.6 248.5h0M385.6 226.8h0M388.7 248.5h0M388.7 220.6h0M397.8 242.3h0M397.8 239.2h0M403.8 229.9h0M406.8 226.8h0M409.9 226.8h0M409.9 220.6h0" stroke="#008000" stroke-opacity="0.5" stroke-width="2.45" stroke-linecap="round" fill="none"/>
<path d="M382.6 239.2h0M382.6 236.1h0M385.6 245.4h0M388.7 245.4h0M403.8 233.0h0M406.8 220.6h0" stroke="#008000" stroke-opacity="0.67" stroke-width="2.45" stroke-linecap="round" fill="none"/>
<path d="M385.6 233.0h0M385.6 223.7h0M388.7 242.3h0M391.7 242.3h0M391.7 220.6h0M394.7 236.1h0M400.8 239.2h0M400.8 236.1h0M400.8 233.0h0M400.8 229.9h0M403.8 223.7h0M403.8 220.6h0M406.8 223.7h0" stroke="#008000" stroke-opacity="0.83" stroke-width="2.45" stroke-linecap="round" fill="none"/>
<path d="M382.6 242.3h0M382.6 233.0h0M385.6 242.3h0M385.6 239.2h0M385.6 236.1h0M385.6 229.9h0M388.7 239.2h0M388.7 236.1h0M388.7 233.0h0M388.7 229.9h0M388.7 226.8h0M388.7 223.7h0M391.7 239.2h0M391.7 236.1h0M391.7 233.0h0M391.7 229.9h0M391.7 226.8h0M391.7 223.7h0M394.7 239.2h0M394.7 233.0h0M394.7 229.9h0M394.7 226.8h0M394.7 223.7h0M394.7 220.6h0M397.8 236.1h0M397.8 233.0h0M397.8 229.9h0M397.8 226.8h0M397.8 223.7h0M397.8 220.6h0M400.8 226.8h0M400.8 223.7h0M400.8 220.6h0M403.8 226.8h0" stroke="#008000" stroke-opacity="1" stroke-width="2.45" stroke-linecap="round" fill="none"/>
<line x1="334.6" y1="218.2" x2="334.6" y2="339.8" stroke="#000" stroke-width="0.9" stroke-linecap="butt" stroke-dasharray="2.6,1.6"/>
<path d="M320.8 314.7L323.8 317.7M320.8 317.7L323.8 314.7" stroke="#000" stroke-width="1.3" fill="none"/>
<path d="M374.7 264.6L377.7 267.6M374.7 267.6L377.7 264.6" stroke="#000" stroke-width="1.3" fill="none"/>
<path d="M386.8 242.7L389.8 245.7M386.8 245.7L389.8 242.7" stroke="#000" stroke-width="1.3" fill="none"/>
</g>
<line x1="277.5" y1="218.2" x2="277.5" y2="339.8" stroke="#000" stroke-width="0.9" stroke-linecap="butt"/>
<line x1="277.5" y1="218.2" x2="414.5" y2="218.2" stroke="#000" stroke-width="0.9" stroke-linecap="butt"/>
<line x1="277.5" y1="339.8" x2="414.5" y2="339.8" stroke="#000" stroke-width="0.9" stroke-linecap="butt"/>
<line x1="414.5" y1="218.2" x2="414.5" y2="339.8" stroke="#555" stroke-width="0.9" stroke-linecap="butt"/>
<line x1="277.5" y1="339.8" x2="277.5" y2="343.3" stroke="#000" stroke-width="0.8" stroke-linecap="butt"/>
<text x="277.5" y="352.7" font-family='"Liberation Sans", sans-serif' font-size="9.29" text-anchor="middle" fill="#000" textLength="6.36" lengthAdjust="spacingAndGlyphs">0</text>
<line x1="311.75" y1="339.8" x2="311.75" y2="343.3" stroke="#000" stroke-width="0.8" stroke-linecap="butt"/>
<text x="311.75" y="352.7" font-family='"Liberation Sans", sans-serif' font-size="9.29" text-anchor="middle" fill="#000" textLength="12.72" lengthAdjust="spacingAndGlyphs">40</text>
<line x1="346" y1="339.8" x2="346" y2="343.3" stroke="#000" stroke-width="0.8" stroke-linecap="butt"/>
<text x="346" y="352.7" font-family='"Liberation Sans", sans-serif' font-size="9.29" text-anchor="middle" fill="#000" textLength="12.72" lengthAdjust="spacingAndGlyphs">80</text>
<line x1="380.26" y1="339.8" x2="380.26" y2="343.3" stroke="#000" stroke-width="0.8" stroke-linecap="butt"/>
<text x="380.26" y="352.7" font-family='"Liberation Sans", sans-serif' font-size="9.29" text-anchor="middle" fill="#000" textLength="19.09" lengthAdjust="spacingAndGlyphs">120</text>
<line x1="414.51" y1="339.8" x2="414.51" y2="343.3" stroke="#000" stroke-width="0.8" stroke-linecap="butt"/>
<text x="414.51" y="352.7" font-family='"Liberation Sans", sans-serif' font-size="9.29" text-anchor="middle" fill="#000" textLength="19.09" lengthAdjust="spacingAndGlyphs">160</text>
<line x1="274" y1="338.4" x2="277.5" y2="338.4" stroke="#000" stroke-width="0.8" stroke-linecap="butt"/>
<text x="269.9" y="341.9" font-family='"Liberation Sans", sans-serif' font-size="9.29" text-anchor="end" fill="#000" textLength="15.9" lengthAdjust="spacingAndGlyphs">0.0</text>
<line x1="274" y1="297.9" x2="277.5" y2="297.9" stroke="#000" stroke-width="0.8" stroke-linecap="butt"/>
<text x="269.9" y="301.4" font-family='"Liberation Sans", sans-serif' font-size="9.29" text-anchor="end" fill="#000" textLength="15.9" lengthAdjust="spacingAndGlyphs">0.2</text>
<line x1="274" y1="257.4" x2="277.5" y2="257.4" stroke="#000" stroke-width="0.8" stroke-linecap="butt"/>
<text x="269.9" y="260.9" font-family='"Liberation Sans", sans-serif' font-size="9.29" text-anchor="end" fill="#000" textLength="15.9" lengthAdjust="spacingAndGlyphs">0.4</text>
<line x1="274" y1="216.9" x2="277.5" y2="216.9" stroke="#000" stroke-width="0.8" stroke-linecap="butt"/>
<text x="269.9" y="220.4" font-family='"Liberation Sans", sans-serif' font-size="9.29" text-anchor="end" fill="#000" textLength="15.9" lengthAdjust="spacingAndGlyphs">0.6</text>
<text x="346" y="364.8" font-family='"Liberation Sans", sans-serif' font-size="9.29" text-anchor="middle" fill="#000" textLength="109.8" lengthAdjust="spacingAndGlyphs">Output LZ Complexity</text>
<text x="248.3" y="279.5" font-family='"Liberation Sans", sans-serif' font-size="10.8" text-anchor="middle" fill="#000" textLength="87" lengthAdjust="spacingAndGlyphs" transform="rotate(-90 248.3 279.5)">Generalisation Error</text>
<rect x="280.5" y="221.3" width="52.5" height="39.1" rx="1.5" fill="#fff" fill-opacity="0.8" stroke="#cccccc" stroke-width="0.7"/>
<text x="295.11" y="229.4" font-family='"Liberation Sans", sans-serif' font-size="7.34" text-anchor="start" fill="#000" font-style="italic" textLength="4.31" lengthAdjust="spacingAndGlyphs">σ</text>
<text x="299.42" y="230.76" font-family='"Liberation Sans", sans-serif' font-size="5.14" text-anchor="start" fill="#000" font-style="italic" textLength="3.89" lengthAdjust="spacingAndGlyphs">w</text>
<text x="307.4" y="229.4" font-family='"Liberation Sans", sans-serif' font-size="7.34" text-anchor="middle" fill="#000">|</text>
<text x="311.48" y="229.4" font-family='"Liberation Sans", sans-serif' font-size="7.34" text-anchor="start" fill="#000" font-style="italic" textLength="5.09" lengthAdjust="spacingAndGlyphs">N</text>
<text x="316.56" y="230.76" font-family='"Liberation Sans", sans-serif' font-size="5.14" text-anchor="start" fill="#000" font-style="italic" textLength="1.32" lengthAdjust="spacingAndGlyphs">l</text>
<path d="M289.1 236.2h2.2v1h-2.2zM289.7 235.6h1v2.2h-1z" fill="#0000ff" fill-opacity="0.35"/>
<text x="303.1" y="238.9" font-family='"Liberation Sans", sans-serif' font-size="6.37" text-anchor="start" fill="#000" textLength="19.59" lengthAdjust="spacingAndGlyphs">1 | 10</text>
<path d="M289.1 245.2h2.2v1h-2.2zM289.7 244.6h1v2.2h-1z" fill="#ff0000" fill-opacity="0.35"/>
<text x="303.1" y="247.9" font-family='"Liberation Sans", sans-serif' font-size="6.37" text-anchor="start" fill="#000" textLength="19.59" lengthAdjust="spacingAndGlyphs">8 | 10</text>
<path d="M289.1 254.2h2.2v1h-2.2zM289.7 253.6h1v2.2h-1z" fill="#008000" fill-opacity="0.35"/>
<text x="303.1" y="256.9" font-family='"Liberation Sans", sans-serif' font-size="6.37" text-anchor="start" fill="#000" textLength="26.37" lengthAdjust="spacingAndGlyphs">random</text>
</g>
<g>
<rect x="563.5" y="217.4" width="1.6" height="0.8" fill="#0000ff"/>
<rect x="566.5" y="215.7" width="1.6" height="2.5" fill="#0000ff"/>
<rect x="569.7" y="215.7" width="1.6" height="2.5" fill="#0000ff"/>
<rect x="573.1" y="214.5" width="1.6" height="3.7" fill="#0000ff"/>
<rect x="576.1" y="212.3" width="1.6" height="5.9" fill="#0000ff"/>
<rect x="579.3" y="212.3" width="1.6" height="5.9" fill="#0000ff"/>
<rect x="582.5" y="210.3" width="1.6" height="7.9" fill="#0000ff"/>
<rect x="585.5" y="209.8" width="1.6" height="8.4" fill="#0000ff"/>
<rect x="588.5" y="209.8" width="1.6" height="8.4" fill="#0000ff"/>
<rect x="591.5" y="207.8" width="1.6" height="10.4" fill="#0000ff"/>
<rect x="594.6" y="207.8" width="1.6" height="10.4" fill="#0000ff"/>
<rect x="597.6" y="206.8" width="1.6" height="11.4" fill="#0000ff"/>
<rect x="600.8" y="209" width="1.6" height="9.2" fill="#0000ff"/>
<rect x="603.8" y="207.8" width="1.6" height="10.4" fill="#0000ff"/>
<rect x="606.6" y="210.6" width="1.6" height="7.6" fill="#0000ff"/>
<rect x="609.7" y="217.2" width="1.6" height="1" fill="#0000ff"/>
<rect x="624.9" y="198.9" width="1.6" height="19.3" fill="#008000"/>
<rect x="628.1" y="195.5" width="1.6" height="22.7" fill="#008000"/>
<rect x="631.2" y="199.7" width="1.6" height="18.5" fill="#008000"/>
<rect x="634.2" y="206.4" width="1.6" height="11.8" fill="#008000"/>
<rect x="637" y="210.3" width="1.6" height="7.9" fill="#008000"/>
<rect x="640.1" y="214.5" width="1.6" height="3.7" fill="#008000"/>
<rect x="643.1" y="216.9" width="1.6" height="1.3" fill="#008000"/>
<rect x="646.1" y="217.7" width="1.6" height="0.5" fill="#008000"/>
<rect x="600.8" y="217.4" width="1.6" height="0.8" fill="#ff0000"/>
<rect x="603.8" y="216" width="1.6" height="2.2" fill="#ff0000"/>
<rect x="606.6" y="215.3" width="1.6" height="2.9" fill="#ff0000"/>
<rect x="609.7" y="212.3" width="1.6" height="5.9" fill="#ff0000"/>
<rect x="612.7" y="210.1" width="1.6" height="8.1" fill="#ff0000"/>
<rect x="615.9" y="208.6" width="1.6" height="9.6" fill="#ff0000"/>
<rect x="618.9" y="203.4" width="1.6" height="14.8" fill="#ff0000"/>
<rect x="621.9" y="198.9" width="1.6" height="19.3" fill="#ff0000"/>
<rect x="624.9" y="203.9" width="1.6" height="14.3" fill="#ff0000"/>
<rect x="628.1" y="202.3" width="1.6" height="15.9" fill="#ff0000"/>
<rect x="631.2" y="206.4" width="1.6" height="11.8" fill="#ff0000"/>
<rect x="634.2" y="209.5" width="1.6" height="8.7" fill="#ff0000"/>
<rect x="637" y="214" width="1.6" height="4.2" fill="#ff0000"/>
<rect x="640.1" y="216.7" width="1.6" height="1.5" fill="#ff0000"/>
<rect x="643.1" y="217.4" width="1.6" height="0.8" fill="#ff0000"/>
<rect x="646.1" y="217.7" width="1.6" height="0.5" fill="#ff0000"/>
<rect x="655.9" y="218.6" width="6.2" height="1.6" fill="#008000"/>
<rect x="655.9" y="221.7" width="8.4" height="1.6" fill="#008000"/>
<rect x="655.9" y="224.8" width="11" height="1.6" fill="#008000"/>
<rect x="655.9" y="227.9" width="15.2" height="1.6" fill="#008000"/>
<rect x="655.9" y="231" width="14.7" height="1.6" fill="#008000"/>
<rect x="655.9" y="234.1" width="19.6" height="1.6" fill="#008000"/>
<rect x="655.9" y="237.2" width="22" height="1.6" fill="#008000"/>
<rect x="655.9" y="240.3" width="19.6" height="1.6" fill="#008000"/>
<rect x="655.9" y="243.4" width="17.8" height="1.6" fill="#008000"/>
<rect x="655.9" y="277.5" width="10.6" height="1.6" fill="#0000ff"/>
<rect x="655.9" y="280.6" width="17.8" height="1.6" fill="#0000ff"/>
<rect x="655.9" y="283.7" width="22" height="1.6" fill="#0000ff"/>
<rect x="655.9" y="286.8" width="27" height="1.6" fill="#0000ff"/>
<rect x="655.9" y="289.9" width="27" height="1.6" fill="#0000ff"/>
<rect x="655.9" y="293" width="21.6" height="1.6" fill="#0000ff"/>
<rect x="655.9" y="296.1" width="20" height="1.6" fill="#0000ff"/>
<rect x="655.9" y="299.2" width="13.9" height="1.6" fill="#0000ff"/>
<rect x="655.9" y="302.3" width="6.2" height="1.6" fill="#0000ff"/>
<rect x="655.9" y="305.4" width="4" height="1.6" fill="#0000ff"/>
<rect x="655.9" y="308.5" width="1.3" height="1.6" fill="#0000ff"/>
<rect x="655.9" y="311.6" width="0.7" height="1.6" fill="#0000ff"/>
<rect x="655.9" y="218.6" width="0.5" height="1.6" fill="#ff0000"/>
<rect x="655.9" y="221.7" width="0.8" height="1.6" fill="#ff0000"/>
<rect x="655.9" y="224.8" width="1" height="1.6" fill="#ff0000"/>
<rect x="655.9" y="227.9" width="1.8" height="1.6" fill="#ff0000"/>
<rect x="655.9" y="231" width="2.9" height="1.6" fill="#ff0000"/>
<rect x="655.9" y="234.1" width="5" height="1.6" fill="#ff0000"/>
<rect x="655.9" y="237.2" width="7.3" height="1.6" fill="#ff0000"/>
<rect x="655.9" y="240.3" width="9.5" height="1.6" fill="#ff0000"/>
<rect x="655.9" y="243.4" width="11.7" height="1.6" fill="#ff0000"/>
<rect x="655.9" y="246.5" width="15.6" height="1.6" fill="#ff0000"/>
<rect x="655.9" y="249.6" width="13.4" height="1.6" fill="#ff0000"/>
<rect x="655.9" y="252.7" width="17.8" height="1.6" fill="#ff0000"/>
<rect x="655.9" y="255.8" width="14.9" height="1.6" fill="#ff0000"/>
<rect x="655.9" y="258.9" width="15.4" height="1.6" fill="#ff0000"/>
<rect x="655.9" y="262" width="16.7" height="1.6" fill="#ff0000"/>
<rect x="655.9" y="265.1" width="13.9" height="1.6" fill="#ff0000"/>
<rect x="655.9" y="268.2" width="9.9" height="1.6" fill="#ff0000"/>
<rect x="655.9" y="271.3" width="9.9" height="1.6" fill="#ff0000"/>
<rect x="655.9" y="274.4" width="9.9" height="1.6" fill="#ff0000"/>
<rect x="655.9" y="277.5" width="4" height="1.6" fill="#ff0000"/>
<rect x="655.9" y="280.6" width="4" height="1.6" fill="#ff0000"/>
<rect x="655.9" y="283.7" width="4" height="1.6" fill="#ff0000"/>
<rect x="655.9" y="286.8" width="0.5" height="1.6" fill="#ff0000"/>
<line x1="655.6" y1="218.2" x2="655.6" y2="339.8" stroke="#888" stroke-width="0.9" stroke-linecap="butt"/>
<clipPath id="cp517"><rect x="517" y="218.2" width="137.7" height="121.6"/></clipPath>
<g clip-path="url(#cp517)">
<line x1="517" y1="237.9" x2="654.7" y2="237.9" stroke="#b0b0b0" stroke-width="0.9" stroke-linecap="butt" stroke-dasharray="0.9,1.6"/>
<path d="M558.6 295.0h0M558.6 288.8h0M561.7 310.5h0M561.7 282.6h0M564.7 298.1h0M564.7 291.9h0M564.7 279.5h0M567.7 307.4h0M567.7 304.3h0M567.7 295.0h0M567.7 291.9h0M570.8 313.6h0M570.8 301.2h0M570.8 298.1h0M570.8 276.4h0M579.9 304.3h0M582.9 307.4h0M582.9 270.2h0M582.9 267.1h0M582.9 264.0h0M585.9 304.3h0M585.9 270.2h0M588.9 313.6h0M595.0 267.1h0M595.0 264.0h0M595.0 260.9h0M598.0 307.4h0M598.0 267.1h0M601.1 267.1h0M601.1 264.0h0M604.1 298.1h0M604.1 260.9h0M607.1 298.1h0M607.1 264.0h0M610.1 301.2h0M610.1 298.1h0M610.1 295.0h0M610.1 270.2h0M613.2 295.0h0M613.2 288.8h0M613.2 285.7h0M613.2 267.1h0M613.2 264.0h0M616.2 301.2h0M616.2 291.9h0M616.2 288.8h0M616.2 276.4h0M616.2 270.2h0M619.2 285.7h0M619.2 279.5h0M619.2 276.4h0M619.2 270.2h0M622.3 291.9h0M622.3 285.7h0M625.3 279.5h0M625.3 273.3h0M628.3 273.3h0" stroke="#0000ff" stroke-opacity="0.33" stroke-width="2.45" stroke-linecap="round" fill="none"/>
<path d="M561.7 298.1h0M561.7 291.9h0M561.7 288.8h0M564.7 288.8h0M567.7 301.2h0M567.7 298.1h0M567.7 285.7h0M567.7 282.6h0M570.8 307.4h0M570.8 295.0h0M570.8 282.6h0M573.8 304.3h0M573.8 282.6h0M573.8 276.4h0M573.8 273.3h0M576.8 273.3h0M579.9 276.4h0M582.9 304.3h0M582.9 301.2h0M585.9 301.2h0M588.9 304.3h0M588.9 267.1h0M592.0 310.5h0M592.0 307.4h0M592.0 304.3h0M595.0 301.2h0M595.0 270.2h0M598.0 264.0h0M601.1 270.2h0M607.1 270.2h0M607.1 260.9h0M610.1 276.4h0M610.1 267.1h0M610.1 264.0h0M613.2 276.4h0M616.2 285.7h0M616.2 282.6h0M616.2 267.1h0" stroke="#0000ff" stroke-opacity="0.5" stroke-width="2.45" stroke-linecap="round" fill="none"/>
<path d="M570.8 279.5h0M573.8 301.2h0M573.8 285.7h0M576.8 304.3h0M579.9 273.3h0M582.9 276.4h0M582.9 273.3h0M588.9 273.3h0M588.9 270.2h0M595.0 298.1h0M598.0 304.3h0M598.0 298.1h0M607.1 267.1h0M610.1 291.9h0M610.1 282.6h0M610.1 279.5h0M610.1 273.3h0M613.2 273.3h0M613.2 270.2h0M619.2 291.9h0M619.2 273.3h0" stroke="#0000ff" stroke-opacity="0.67" stroke-width="2.45" stroke-linecap="round" fill="none"/>
<path d="M564.7 295.0h0M567.7 288.8h0M570.8 291.9h0M570.8 288.8h0M570.8 285.7h0M573.8 298.1h0M573.8 295.0h0M573.8 291.9h0M573.8 279.5h0M576.8 301.2h0M576.8 298.1h0M576.8 291.9h0M576.8 279.5h0M579.9 301.2h0M579.9 298.1h0M585.9 273.3h0M588.9 301.2h0M588.9 298.1h0M595.0 273.3h0M598.0 301.2h0M598.0 273.3h0M598.0 270.2h0M601.1 298.1h0M601.1 295.0h0M604.1 295.0h0M604.1 267.1h0M607.1 291.9h0M607.1 288.8h0M607.1 282.6h0M607.1 279.5h0M610.1 288.8h0M613.2 282.6h0M613.2 279.5h0M616.2 279.5h0" stroke="#0000ff" stroke-opacity="0.83" stroke-width="2.45" stroke-linecap="round" fill="none"/>
<path d="M573.8 288.8h0M576.8 295.0h0M576.8 288.8h0M576.8 285.7h0M576.8 282.6h0M576.8 276.4h0M579.9 295.0h0M579.9 291.9h0M579.9 288.8h0M579.9 285.7h0M579.9 282.6h0M579.9 279.5h0M582.9 298.1h0M582.9 295.0h0M582.9 291.9h0M582.9 288.8h0M582.9 285.7h0M582.9 282.6h0M582.9 279.5h0M585.9 298.1h0M585.9 295.0h0M585.9 291.9h0M585.9 288.8h0M585.9 285.7h0M585.9 282.6h0M585.9 279.5h0M585.9 276.4h0M588.9 295.0h0M588.9 291.9h0M588.9 288.8h0M588.9 285.7h0M588.9 282.6h0M588.9 279.5h0M588.9 276.4h0M592.0 301.2h0M592.0 298.1h0M592.0 295.0h0M592.0 291.9h0M592.0 288.8h0M592.0 285.7h0M592.0 282.6h0M592.0 279.5h0M592.0 276.4h0M592.0 273.3h0M592.0 270.2h0M595.0 295.0h0M595.0 291.9h0M595.0 288.8h0M595.0 285.7h0M595.0 282.6h0M595.0 279.5h0M595.0 276.4h0M598.0 295.0h0M598.0 291.9h0M598.0 288.8h0M598.0 285.7h0M598.0 282.6h0M598.0 279.5h0M598.0 276.4h0M601.1 291.9h0M601.1 288.8h0M601.1 285.7h0M601.1 282.6h0M601.1 279.5h0M601.1 276.4h0M601.1 273.3h0M604.1 291.9h0M604.1 288.8h0M604.1 285.7h0M604.1 282.6h0M604.1 279.5h0M604.1 276.4h0M604.1 273.3h0M604.1 270.2h0M607.1 295.0h0M607.1 285.7h0M607.1 276.4h0M607.1 273.3h0M610.1 285.7h0" stroke="#0000ff" stroke-opacity="1" stroke-width="2.45" stroke-linecap="round" fill="none"/>
<path d="M598.0 270.2h0M601.1 285.7h0M601.1 276.4h0M601.1 270.2h0M601.1 257.8h0M604.1 285.7h0M604.1 279.5h0M604.1 276.4h0M604.1 264.0h0M604.1 254.7h0M604.1 251.6h0M607.1 282.6h0M607.1 273.3h0M607.1 270.2h0M607.1 267.1h0M607.1 257.8h0M607.1 254.7h0M607.1 245.4h0M607.1 242.3h0M607.1 239.2h0M607.1 233.0h0M610.1 285.7h0M610.1 282.6h0M610.1 251.6h0M610.1 236.1h0M610.1 226.8h0M610.1 223.7h0M613.2 291.9h0M613.2 236.1h0M613.2 233.0h0M616.2 233.0h0M616.2 226.8h0M619.2 295.0h0M619.2 233.0h0M622.3 285.7h0M625.3 291.9h0M625.3 285.7h0M628.3 291.9h0M628.3 279.5h0M628.3 223.7h0M631.4 291.9h0M631.4 285.7h0M631.4 282.6h0M631.4 223.7h0M631.4 220.6h0M634.4 288.8h0M634.4 282.6h0M634.4 223.7h0M637.4 273.3h0M637.4 267.1h0M637.4 236.1h0M640.5 273.3h0M640.5 260.9h0M640.5 251.6h0M640.5 245.4h0M640.5 236.1h0M643.5 267.1h0M643.5 257.8h0M643.5 248.5h0M643.5 245.4h0M643.5 242.3h0M643.5 239.2h0M643.5 236.1h0M643.5 233.0h0M643.5 223.7h0M643.5 220.6h0M646.5 245.4h0M646.5 242.3h0M649.5 229.9h0" stroke="#ff0000" stroke-opacity="0.33" stroke-width="2.45" stroke-linecap="round" fill="none"/>
<path d="M601.1 267.1h0M604.1 282.6h0M607.1 279.5h0M607.1 251.6h0M607.1 248.5h0M610.1 288.8h0M610.1 270.2h0M610.1 254.7h0M610.1 248.5h0M610.1 242.3h0M613.2 279.5h0M613.2 245.4h0M613.2 242.3h0M613.2 239.2h0M616.2 239.2h0M616.2 236.1h0M619.2 229.9h0M622.3 279.5h0M622.3 233.0h0M622.3 229.9h0M622.3 226.8h0M625.3 226.8h0M625.3 223.7h0M628.3 282.6h0M631.4 276.4h0M631.4 273.3h0M634.4 273.3h0M634.4 233.0h0M634.4 226.8h0M637.4 264.0h0M637.4 254.7h0M640.5 257.8h0M640.5 254.7h0M640.5 248.5h0M640.5 233.0h0M640.5 226.8h0M640.5 223.7h0M646.5 251.6h0" stroke="#ff0000" stroke-opacity="0.5" stroke-width="2.45" stroke-linecap="round" fill="none"/>
<path d="M607.1 288.8h0M607.1 285.7h0M607.1 260.9h0M610.1 279.5h0M610.1 273.3h0M610.1 260.9h0M610.1 245.4h0M613.2 248.5h0M616.2 276.4h0M616.2 229.9h0M619.2 226.8h0M622.3 291.9h0M622.3 282.6h0M622.3 236.1h0M625.3 282.6h0M625.3 229.9h0M628.3 226.8h0M634.4 276.4h0M634.4 236.1h0M637.4 270.2h0M637.4 260.9h0M637.4 251.6h0M637.4 245.4h0M637.4 242.3h0M637.4 229.9h0M637.4 226.8h0M640.5 267.1h0M640.5 264.0h0M640.5 239.2h0M640.5 229.9h0M643.5 251.6h0" stroke="#ff0000" stroke-opacity="0.67" stroke-width="2.45" stroke-linecap="round" fill="none"/>
<path d="M607.1 276.4h0M607.1 264.0h0M610.1 276.4h0M610.1 267.1h0M610.1 264.0h0M613.2 285.7h0M613.2 282.6h0M613.2 270.2h0M613.2 260.9h0M616.2 285.7h0M616.2 279.5h0M616.2 273.3h0M616.2 270.2h0M616.2 267.1h0M616.2 248.5h0M616.2 242.3h0M619.2 285.7h0M619.2 282.6h0M619.2 279.5h0M622.3 220.6h0M625.3 279.5h0M625.3 273.3h0M625.3 270.2h0M628.3 236.1h0M628.3 229.9h0M631.4 267.1h0M631.4 260.9h0M631.4 236.1h0M631.4 229.9h0M634.4 270.2h0M634.4 267.1h0M634.4 260.9h0M634.4 257.8h0M634.4 245.4h0M634.4 242.3h0M634.4 229.9h0M637.4 248.5h0M637.4 239.2h0M640.5 242.3h0" stroke="#ff0000" stroke-opacity="0.83" stroke-width="2.45" stroke-linecap="round" fill="none"/>
<path d="M610.1 257.8h0M613.2 276.4h0M613.2 273.3h0M613.2 267.1h0M613.2 264.0h0M613.2 257.8h0M613.2 254.7h0M613.2 251.6h0M616.2 282.6h0M616.2 264.0h0M616.2 260.9h0M616.2 257.8h0M616.2 254.7h0M616.2 251.6h0M616.2 245.4h0M619.2 276.4h0M619.2 273.3h0M619.2 270.2h0M619.2 267.1h0M619.2 264.0h0M619.2 260.9h0M619.2 257.8h0M619.2 254.7h0M619.2 251.6h0M619.2 248.5h0M619.2 245.4h0M619.2 242.3h0M619.2 239.2h0M619.2 236.1h0M622.3 276.4h0M622.3 273.3h0M622.3 270.2h0M622.3 267.1h0M622.3 264.0h0M622.3 260.9h0M622.3 257.8h0M622.3 254.7h0M622.3 251.6h0M622.3 248.5h0M622.3 245.4h0M622.3 242.3h0M622.3 239.2h0M625.3 276.4h0M625.3 267.1h0M625.3 264.0h0M625.3 260.9h0M625.3 257.8h0M625.3 254.7h0M625.3 251.6h0M625.3 248.5h0M625.3 245.4h0M625.3 242.3h0M625.3 239.2h0M625.3 236.1h0M625.3 233.0h0M628.3 276.4h0M628.3 273.3h0M628.3 270.2h0M628.3 267.1h0M628.3 264.0h0M628.3 260.9h0M628.3 257.8h0M628.3 254.7h0M628.3 251.6h0M628.3 248.5h0M628.3 245.4h0M628.3 242.3h0M628.3 239.2h0M628.3 233.0h0M631.4 270.2h0M631.4 264.0h0M631.4 257.8h0M631.4 254.7h0M631.4 251.6h0M631.4 248.5h0M631.4 245.4h0M631.4 242.3h0M631.4 239.2h0M631.4 233.0h0M631.4 226.8h0M634.4 264.0h0M634.4 254.7h0M634.4 251.6h0M634.4 248.5h0M634.4 239.2h0M637.4 257.8h0M637.4 233.0h0" stroke="#ff0000" stroke-opacity="1" stroke-width="2.45" stroke-linecap="round" fill="none"/>
<path d="M607.1 248.5h0M607.1 236.1h0M607.1 229.9h0M610.1 245.4h0M610.1 236.1h0M610.1 229.9h0M610.1 223.7h0M613.2 242.3h0M613.2 239.2h0M613.2 236.1h0M616.2 229.9h0M616.2 220.6h0M619.2 248.5h0M619.2 245.4h0M622.3 251.6h0M622.3 245.4h0M625.3 245.4h0M628.3 245.4h0M631.4 242.3h0M634.4 245.4h0M634.4 242.3h0M637.4 242.3h0M637.4 239.2h0M637.4 236.1h0M643.5 229.9h0M649.5 233.0h0M652.6 223.7h0" stroke="#008000" stroke-opacity="0.33" stroke-width="2.45" stroke-linecap="round" fill="none"/>
<path d="M610.1 239.2h0M613.2 229.9h0M616.2 242.3h0M616.2 236.1h0M616.2 233.0h0M616.2 226.8h0M616.2 223.7h0M619.2 239.2h0M619.2 223.7h0M622.3 248.5h0M622.3 242.3h0M622.3 220.6h0M625.3 242.3h0M628.3 248.5h0M631.4 245.4h0M634.4 239.2h0M637.4 233.0h0M640.5 236.1h0M643.5 233.0h0M643.5 223.7h0M646.5 220.6h0" stroke="#008000" stroke-opacity="0.5" stroke-width="2.45" stroke-linecap="round" fill="none"/>
<path d="M619.2 236.1h0M619.2 226.8h0M622.3 226.8h0M631.4 239.2h0M640.5 229.9h0M646.5 226.8h0M646.5 223.7h0" stroke="#008000" stroke-opacity="0.67" stroke-width="2.45" stroke-linecap="round" fill="none"/>
<path d="M616.2 239.2h0M619.2 242.3h0M619.2 220.6h0M622.3 239.2h0M622.3 229.9h0M622.3 223.7h0M625.3 239.2h0M625.3 226.8h0M625.3 220.6h0M628.3 242.3h0M628.3 239.2h0M628.3 223.7h0M631.4 236.1h0M634.4 236.1h0M637.4 229.9h0M637.4 220.6h0M640.5 233.0h0M640.5 223.7h0M640.5 220.6h0M643.5 226.8h0M643.5 220.6h0" stroke="#008000" stroke-opacity="0.83" stroke-width="2.45" stroke-linecap="round" fill="none"/>
<path d="M619.2 233.0h0M619.2 229.9h0M622.3 236.1h0M622.3 233.0h0M625.3 236.1h0M625.3 233.0h0M625.3 229.9h0M625.3 223.7h0M628.3 236.1h0M628.3 233.0h0M628.3 229.9h0M628.3 226.8h0M628.3 220.6h0M631.4 233.0h0M631.4 229.9h0M631.4 226.8h0M631.4 223.7h0M631.4 220.6h0M634.4 233.0h0M634.4 229.9h0M634.4 226.8h0M634.4 223.7h0M634.4 220.6h0M637.4 226.8h0M637.4 223.7h0M640.5 226.8h0" stroke="#008000" stroke-opacity="1" stroke-width="2.45" stroke-linecap="round" fill="none"/>
<line x1="604.3" y1="218.2" x2="604.3" y2="339.8" stroke="#000" stroke-width="0.9" stroke-linecap="butt" stroke-dasharray="2.6,1.6"/>
<path d="M593.6 289.9L596.6 292.9M593.6 292.9L596.6 289.9" stroke="#000" stroke-width="1.3" fill="none"/>
<path d="M626.9 242.5L629.9 245.5M626.9 245.5L629.9 242.5" stroke="#000" stroke-width="1.3" fill="none"/>
<path d="M626.9 236L629.9 239M626.9 239L629.9 236" stroke="#000" stroke-width="1.3" fill="none"/>
</g>
<line x1="517" y1="218.2" x2="517" y2="339.8" stroke="#000" stroke-width="0.9" stroke-linecap="butt"/>
<line x1="517" y1="218.2" x2="654.7" y2="218.2" stroke="#000" stroke-width="0.9" stroke-linecap="butt"/>
<line x1="517" y1="339.8" x2="654.7" y2="339.8" stroke="#000" stroke-width="0.9" stroke-linecap="butt"/>
<line x1="654.7" y1="218.2" x2="654.7" y2="339.8" stroke="#555" stroke-width="0.9" stroke-linecap="butt"/>
<line x1="517" y1="339.8" x2="517" y2="343.3" stroke="#000" stroke-width="0.8" stroke-linecap="butt"/>
<text x="517" y="352.7" font-family='"Liberation Sans", sans-serif' font-size="9.29" text-anchor="middle" fill="#000" textLength="6.36" lengthAdjust="spacingAndGlyphs">0</text>
<line x1="551.42" y1="339.8" x2="551.42" y2="343.3" stroke="#000" stroke-width="0.8" stroke-linecap="butt"/>
<text x="551.42" y="352.7" font-family='"Liberation Sans", sans-serif' font-size="9.29" text-anchor="middle" fill="#000" textLength="12.72" lengthAdjust="spacingAndGlyphs">40</text>
<line x1="585.85" y1="339.8" x2="585.85" y2="343.3" stroke="#000" stroke-width="0.8" stroke-linecap="butt"/>
<text x="585.85" y="352.7" font-family='"Liberation Sans", sans-serif' font-size="9.29" text-anchor="middle" fill="#000" textLength="12.72" lengthAdjust="spacingAndGlyphs">80</text>
<line x1="620.27" y1="339.8" x2="620.27" y2="343.3" stroke="#000" stroke-width="0.8" stroke-linecap="butt"/>
<text x="620.27" y="352.7" font-family='"Liberation Sans", sans-serif' font-size="9.29" text-anchor="middle" fill="#000" textLength="19.09" lengthAdjust="spacingAndGlyphs">120</text>
<line x1="654.7" y1="339.8" x2="654.7" y2="343.3" stroke="#000" stroke-width="0.8" stroke-linecap="butt"/>
<text x="654.7" y="352.7" font-family='"Liberation Sans", sans-serif' font-size="9.29" text-anchor="middle" fill="#000" textLength="19.09" lengthAdjust="spacingAndGlyphs">160</text>
<line x1="513.5" y1="338.4" x2="517" y2="338.4" stroke="#000" stroke-width="0.8" stroke-linecap="butt"/>
<text x="509.4" y="341.9" font-family='"Liberation Sans", sans-serif' font-size="9.29" text-anchor="end" fill="#000" textLength="15.9" lengthAdjust="spacingAndGlyphs">0.0</text>
<line x1="513.5" y1="298.2" x2="517" y2="298.2" stroke="#000" stroke-width="0.8" stroke-linecap="butt"/>
<text x="509.4" y="301.7" font-family='"Liberation Sans", sans-serif' font-size="9.29" text-anchor="end" fill="#000" textLength="15.9" lengthAdjust="spacingAndGlyphs">0.2</text>
<line x1="513.5" y1="258" x2="517" y2="258" stroke="#000" stroke-width="0.8" stroke-linecap="butt"/>
<text x="509.4" y="261.5" font-family='"Liberation Sans", sans-serif' font-size="9.29" text-anchor="end" fill="#000" textLength="15.9" lengthAdjust="spacingAndGlyphs">0.4</text>
<line x1="513.5" y1="217.8" x2="517" y2="217.8" stroke="#000" stroke-width="0.8" stroke-linecap="butt"/>
<text x="509.4" y="221.3" font-family='"Liberation Sans", sans-serif' font-size="9.29" text-anchor="end" fill="#000" textLength="15.9" lengthAdjust="spacingAndGlyphs">0.6</text>
<text x="585.85" y="364.8" font-family='"Liberation Sans", sans-serif' font-size="9.29" text-anchor="middle" fill="#000" textLength="109.8" lengthAdjust="spacingAndGlyphs">Output LZ Complexity</text>
<text x="487.8" y="279.5" font-family='"Liberation Sans", sans-serif' font-size="10.8" text-anchor="middle" fill="#000" textLength="87" lengthAdjust="spacingAndGlyphs" transform="rotate(-90 487.8 279.5)">Generalisation Error</text>
<rect x="520.5" y="221.3" width="52.5" height="39.1" rx="1.5" fill="#fff" fill-opacity="0.8" stroke="#cccccc" stroke-width="0.7"/>
<text x="535.11" y="229.4" font-family='"Liberation Sans", sans-serif' font-size="7.34" text-anchor="start" fill="#000" font-style="italic" textLength="4.31" lengthAdjust="spacingAndGlyphs">σ</text>
<text x="539.42" y="230.76" font-family='"Liberation Sans", sans-serif' font-size="5.14" text-anchor="start" fill="#000" font-style="italic" textLength="3.89" lengthAdjust="spacingAndGlyphs">w</text>
<text x="547.4" y="229.4" font-family='"Liberation Sans", sans-serif' font-size="7.34" text-anchor="middle" fill="#000">|</text>
<text x="551.48" y="229.4" font-family='"Liberation Sans", sans-serif' font-size="7.34" text-anchor="start" fill="#000" font-style="italic" textLength="5.09" lengthAdjust="spacingAndGlyphs">N</text>
<text x="556.56" y="230.76" font-family='"Liberation Sans", sans-serif' font-size="5.14" text-anchor="start" fill="#000" font-style="italic" textLength="1.32" lengthAdjust="spacingAndGlyphs">l</text>
<path d="M529.1 236.2h2.2v1h-2.2zM529.7 235.6h1v2.2h-1z" fill="#0000ff" fill-opacity="0.35"/>
<text x="543.1" y="238.9" font-family='"Liberation Sans", sans-serif' font-size="6.37" text-anchor="start" fill="#000" textLength="19.59" lengthAdjust="spacingAndGlyphs">1 | 10</text>
<path d="M529.1 245.2h2.2v1h-2.2zM529.7 244.6h1v2.2h-1z" fill="#ff0000" fill-opacity="0.35"/>
<text x="543.1" y="247.9" font-family='"Liberation Sans", sans-serif' font-size="6.37" text-anchor="start" fill="#000" textLength="19.59" lengthAdjust="spacingAndGlyphs">8 | 10</text>
<path d="M529.1 254.2h2.2v1h-2.2zM529.7 253.6h1v2.2h-1z" fill="#008000" fill-opacity="0.35"/>
<text x="543.1" y="256.9" font-family='"Liberation Sans", sans-serif' font-size="6.37" text-anchor="start" fill="#000" textLength="26.37" lengthAdjust="spacingAndGlyphs">random</text>
</g>
<g>
<clipPath id="cpg"><rect x="44.7" y="413.0" width="151.8" height="119.10000000000002"/></clipPath>
<g clip-path="url(#cpg)">
<polygon points="44.8,532.1 165.9,414.3 165.9,532.1" fill="#eba0a5"/>
<polygon points="147.1,533 147.1,435.65 148.1,434.62 149.1,433.62 150.1,432.64 151.1,431.7 152.1,430.77 153.1,429.88 154.1,429.01 155.1,428.16 156.1,427.35 157.1,426.56 158.1,425.79 159.1,425.05 160.1,424.34 161.1,423.65 162.1,422.99 163.1,422.36 164.1,421.75 165.1,421.17 166.1,420.61 167.1,420.08 168.1,419.58 169.1,419.1 170.1,418.65 171.1,418.23 172.1,417.83 173.1,417.46 174.1,417.11 175.1,416.79 176.1,416.5 177.1,416.23 178.1,415.99 179.1,415.78 180.1,415.59 181.1,415.43 182.1,415.29 183.1,415.18 184.1,415.1 185.1,415.04 186.1,415.01 187.1,415 188.1,415.02 189.1,415.07 190.1,415.14 191.1,415.24 192.1,415.37 193.1,415.52 194.1,415.7 195.1,415.9 196.1,416.13 197,533" fill="#006400" fill-opacity="0.5"/>
<line x1="51.3" y1="532.1" x2="148.2" y2="435.5" stroke="#0a7a0a" stroke-width="1.6" stroke-linecap="butt" stroke-dasharray="4.4,1.4,1.1,1.4"/>
<line x1="162.7" y1="414.5" x2="162.7" y2="532.1" stroke="#a01010" stroke-width="1.4" stroke-linecap="butt" stroke-dasharray="1.3,2.2"/>
<line x1="177.7" y1="416" x2="177.7" y2="532.1" stroke="#107a10" stroke-width="1.4" stroke-linecap="butt" stroke-dasharray="1.3,2.2"/>
<polyline points="44.8,532.1 165.9,414.3 165.9,532.5" fill="none" stroke="#8b0000" stroke-width="1.5" stroke-linejoin="miter" stroke-linecap="butt"/>
</g>
<line x1="44.7" y1="413" x2="44.7" y2="532.1" stroke="#000" stroke-width="0.9" stroke-linecap="butt"/>
<line x1="196.5" y1="413" x2="196.5" y2="532.1" stroke="#000" stroke-width="0.9" stroke-linecap="butt"/>
<line x1="44.7" y1="413" x2="196.5" y2="413" stroke="#000" stroke-width="0.9" stroke-linecap="butt"/>
<line x1="44.7" y1="532.1" x2="196.5" y2="532.1" stroke="#000" stroke-width="0.9" stroke-linecap="butt"/>
<line x1="44.8" y1="532.1" x2="44.8" y2="535.6" stroke="#000" stroke-width="0.8" stroke-linecap="butt"/>
<text x="44.8" y="545.6" font-family='"Liberation Sans", sans-serif' font-size="9.11" text-anchor="middle" fill="#000" textLength="5.92" lengthAdjust="spacingAndGlyphs">0</text>
<line x1="82.7" y1="532.1" x2="82.7" y2="535.6" stroke="#000" stroke-width="0.8" stroke-linecap="butt"/>
<text x="82.7" y="545.6" font-family='"Liberation Sans", sans-serif' font-size="9.11" text-anchor="middle" fill="#000" textLength="11.83" lengthAdjust="spacingAndGlyphs">40</text>
<line x1="120.6" y1="532.1" x2="120.6" y2="535.6" stroke="#000" stroke-width="0.8" stroke-linecap="butt"/>
<text x="120.6" y="545.6" font-family='"Liberation Sans", sans-serif' font-size="9.11" text-anchor="middle" fill="#000" textLength="11.83" lengthAdjust="spacingAndGlyphs">80</text>
<line x1="158.5" y1="532.1" x2="158.5" y2="535.6" stroke="#000" stroke-width="0.8" stroke-linecap="butt"/>
<text x="158.5" y="545.6" font-family='"Liberation Sans", sans-serif' font-size="9.11" text-anchor="middle" fill="#000" textLength="17.75" lengthAdjust="spacingAndGlyphs">120</text>
<line x1="196.4" y1="532.1" x2="196.4" y2="535.6" stroke="#000" stroke-width="0.8" stroke-linecap="butt"/>
<text x="196.4" y="545.6" font-family='"Liberation Sans", sans-serif' font-size="9.11" text-anchor="middle" fill="#000" textLength="17.75" lengthAdjust="spacingAndGlyphs">160</text>
<line x1="63.75" y1="532.1" x2="63.75" y2="534.1" stroke="#000" stroke-width="0.6" stroke-linecap="butt"/>
<line x1="101.65" y1="532.1" x2="101.65" y2="534.1" stroke="#000" stroke-width="0.6" stroke-linecap="butt"/>
<line x1="139.55" y1="532.1" x2="139.55" y2="534.1" stroke="#000" stroke-width="0.6" stroke-linecap="butt"/>
<line x1="177.45" y1="532.1" x2="177.45" y2="534.1" stroke="#000" stroke-width="0.6" stroke-linecap="butt"/>
<line x1="41.2" y1="413" x2="44.7" y2="413" stroke="#000" stroke-width="0.8" stroke-linecap="butt"/>
<text x="21.46" y="416.3" font-family='"Liberation Sans", sans-serif' font-size="9.11" text-anchor="start" fill="#000" textLength="11.83" lengthAdjust="spacingAndGlyphs">10</text>
<text x="33.76" y="412.77" font-family='"Liberation Sans", sans-serif' font-size="6.38" text-anchor="start" fill="#000" textLength="4.14" lengthAdjust="spacingAndGlyphs">0</text>
<line x1="41.2" y1="444" x2="44.7" y2="444" stroke="#000" stroke-width="0.8" stroke-linecap="butt"/>
<text x="11.86" y="447.3" font-family='"Liberation Sans", sans-serif' font-size="9.11" text-anchor="start" fill="#000" textLength="11.83" lengthAdjust="spacingAndGlyphs">10</text>
<text x="24.16" y="443.77" font-family='"Liberation Sans", sans-serif' font-size="6.38" text-anchor="start" fill="#000" textLength="13.74" lengthAdjust="spacingAndGlyphs">−10</text>
<line x1="41.2" y1="475" x2="44.7" y2="475" stroke="#000" stroke-width="0.8" stroke-linecap="butt"/>
<text x="11.86" y="478.3" font-family='"Liberation Sans", sans-serif' font-size="9.11" text-anchor="start" fill="#000" textLength="11.83" lengthAdjust="spacingAndGlyphs">10</text>
<text x="24.16" y="474.77" font-family='"Liberation Sans", sans-serif' font-size="6.38" text-anchor="start" fill="#000" textLength="13.74" lengthAdjust="spacingAndGlyphs">−20</text>
<line x1="41.2" y1="506" x2="44.7" y2="506" stroke="#000" stroke-width="0.8" stroke-linecap="butt"/>
<text x="11.86" y="509.3" font-family='"Liberation Sans", sans-serif' font-size="9.11" text-anchor="start" fill="#000" textLength="11.83" lengthAdjust="spacingAndGlyphs">10</text>
<text x="24.16" y="505.77" font-family='"Liberation Sans", sans-serif' font-size="6.38" text-anchor="start" fill="#000" textLength="13.74" lengthAdjust="spacingAndGlyphs">−30</text>
<text x="81.08" y="557.5" font-family='"Liberation Sans", sans-serif' font-size="9.11" text-anchor="start" fill="#000" textLength="69.99" lengthAdjust="spacingAndGlyphs">LZ Complexity,</text>
<text x="154.02" y="557.5" font-family='"Liberation Sans", sans-serif' font-size="9.11" text-anchor="start" fill="#000" font-style="italic" textLength="6.1" lengthAdjust="spacingAndGlyphs">K</text>
<g transform="rotate(-90 7.6 473.8)">
<text x="-1.88" y="473.8" font-family='"Liberation Sans", sans-serif' font-size="9.11" text-anchor="start" fill="#000" font-style="italic" textLength="5.61" lengthAdjust="spacingAndGlyphs">P</text>
<text x="3.73" y="473.8" font-family='"Liberation Sans", sans-serif' font-size="9.11" text-anchor="start" fill="#000" textLength="3.63" lengthAdjust="spacingAndGlyphs">(</text>
<text x="7.35" y="473.8" font-family='"Liberation Sans", sans-serif' font-size="9.11" text-anchor="start" fill="#000" font-style="italic" textLength="6.1" lengthAdjust="spacingAndGlyphs">K</text>
<text x="13.45" y="473.8" font-family='"Liberation Sans", sans-serif' font-size="9.11" text-anchor="start" fill="#000" textLength="3.63" lengthAdjust="spacingAndGlyphs">)</text>
</g>
<rect x="47.4" y="416.6" width="57.1" height="19.7" rx="1.5" fill="#fff" fill-opacity="0.8" stroke="#cccccc" stroke-width="0.7"/>
<rect x="49.8" y="419.4" width="12.9" height="4.6" fill="#ffb6c1"/>
<rect x="49.8" y="428.4" width="12.9" height="4.6" fill="#006400" fill-opacity="0.5"/>
<text x="67.8" y="423.9" font-family='"Liberation Sans", sans-serif' font-size="6.17" text-anchor="start" fill="#000" textLength="33.82" lengthAdjust="spacingAndGlyphs">theoretical</text>
<text x="67.8" y="432.9" font-family='"Liberation Sans", sans-serif' font-size="6.17" text-anchor="start" fill="#000" textLength="28.75" lengthAdjust="spacingAndGlyphs">unbiased</text>
</g>
<g>
<clipPath id="cph"><rect x="281.3" y="413.7" width="154.89999999999998" height="118.50000000000006"/></clipPath>
<g clip-path="url(#cph)">
<rect x="286.3" y="424" width="4.05" height="110.2" fill="#1f77b4" fill-opacity="0.72"/>
<rect x="296.9" y="458" width="3.77" height="76.2" fill="#1f77b4" fill-opacity="0.72"/>
<rect x="300.3" y="446.4" width="3.77" height="87.8" fill="#1f77b4" fill-opacity="0.72"/>
<rect x="303.7" y="435.9" width="3.77" height="98.3" fill="#1f77b4" fill-opacity="0.72"/>
<rect x="307.1" y="437.6" width="3.77" height="96.6" fill="#1f77b4" fill-opacity="0.72"/>
<rect x="310.5" y="439.5" width="3.77" height="94.7" fill="#1f77b4" fill-opacity="0.72"/>
<rect x="313.9" y="437" width="3.77" height="97.2" fill="#1f77b4" fill-opacity="0.72"/>
<rect x="317.3" y="437.85" width="3.77" height="96.35" fill="#1f77b4" fill-opacity="0.72"/>
<rect x="320.72" y="437.58" width="3.77" height="96.62" fill="#1f77b4" fill-opacity="0.72"/>
<rect x="324.14" y="437.32" width="3.77" height="96.88" fill="#1f77b4" fill-opacity="0.72"/>
<rect x="327.56" y="437.06" width="3.77" height="97.14" fill="#1f77b4" fill-opacity="0.72"/>
<rect x="330.98" y="436.73" width="3.77" height="97.47" fill="#1f77b4" fill-opacity="0.72"/>
<rect x="334.4" y="436.39" width="3.77" height="97.81" fill="#1f77b4" fill-opacity="0.72"/>
<rect x="337.82" y="436.05" width="3.77" height="98.15" fill="#1f77b4" fill-opacity="0.72"/>
<rect x="341.24" y="435.7" width="3.77" height="98.5" fill="#1f77b4" fill-opacity="0.72"/>
<rect x="344.66" y="435.44" width="3.77" height="98.76" fill="#1f77b4" fill-opacity="0.72"/>
<rect x="348.08" y="435.28" width="3.77" height="98.92" fill="#1f77b4" fill-opacity="0.72"/>
<rect x="351.5" y="435.12" width="3.77" height="99.08" fill="#1f77b4" fill-opacity="0.72"/>
<rect x="354.92" y="434.96" width="3.77" height="99.24" fill="#1f77b4" fill-opacity="0.72"/>
<rect x="358.34" y="434.8" width="3.77" height="99.4" fill="#1f77b4" fill-opacity="0.72"/>
<rect x="361.76" y="434.87" width="3.77" height="99.33" fill="#1f77b4" fill-opacity="0.72"/>
<rect x="365.18" y="434.94" width="3.77" height="99.26" fill="#1f77b4" fill-opacity="0.72"/>
<rect x="368.6" y="435.05" width="3.77" height="99.15" fill="#1f77b4" fill-opacity="0.72"/>
<rect x="372.02" y="435.56" width="3.77" height="98.64" fill="#1f77b4" fill-opacity="0.72"/>
<rect x="375.44" y="436.07" width="3.77" height="98.13" fill="#1f77b4" fill-opacity="0.72"/>
<rect x="378.86" y="436.67" width="3.77" height="97.53" fill="#1f77b4" fill-opacity="0.72"/>
<rect x="382.28" y="437.7" width="3.77" height="96.5" fill="#1f77b4" fill-opacity="0.72"/>
<rect x="385.7" y="438.72" width="3.77" height="95.48" fill="#1f77b4" fill-opacity="0.72"/>
<rect x="389.12" y="439.95" width="3.77" height="94.25" fill="#1f77b4" fill-opacity="0.72"/>
<rect x="392.54" y="441.8" width="3.77" height="92.4" fill="#1f77b4" fill-opacity="0.72"/>
<rect x="395.96" y="443.64" width="3.77" height="90.56" fill="#1f77b4" fill-opacity="0.72"/>
<rect x="399.38" y="445.58" width="3.77" height="88.62" fill="#1f77b4" fill-opacity="0.72"/>
<rect x="402.8" y="447.7" width="3.77" height="86.5" fill="#1f77b4" fill-opacity="0.72"/>
<rect x="406.22" y="450.34" width="3.77" height="83.86" fill="#1f77b4" fill-opacity="0.72"/>
<rect x="409.64" y="453.62" width="3.77" height="80.58" fill="#1f77b4" fill-opacity="0.72"/>
<rect x="413.06" y="457.72" width="3.77" height="76.48" fill="#1f77b4" fill-opacity="0.72"/>
<rect x="416.48" y="462.47" width="3.77" height="71.73" fill="#1f77b4" fill-opacity="0.72"/>
<rect x="419.9" y="467.58" width="3.77" height="66.62" fill="#1f77b4" fill-opacity="0.72"/>
<rect x="423.32" y="473.06" width="3.77" height="61.14" fill="#1f77b4" fill-opacity="0.72"/>
<rect x="426.74" y="479.9" width="3.77" height="54.3" fill="#1f77b4" fill-opacity="0.72"/>
<rect x="430.16" y="487.49" width="3.77" height="46.71" fill="#1f77b4" fill-opacity="0.72"/>
<rect x="433.58" y="495.87" width="3.77" height="38.33" fill="#1f77b4" fill-opacity="0.72"/>
<rect x="344" y="522.85" width="3.77" height="11.35" fill="#d20a10" fill-opacity="0.75"/>
<rect x="347.42" y="518.14" width="3.77" height="16.06" fill="#d20a10" fill-opacity="0.75"/>
<rect x="350.84" y="513.43" width="3.77" height="20.77" fill="#d20a10" fill-opacity="0.75"/>
<rect x="354.26" y="508.73" width="3.77" height="25.47" fill="#d20a10" fill-opacity="0.75"/>
<rect x="357.68" y="504.02" width="3.77" height="30.18" fill="#d20a10" fill-opacity="0.75"/>
<rect x="361.1" y="499.32" width="3.77" height="34.88" fill="#d20a10" fill-opacity="0.75"/>
<rect x="364.52" y="494.61" width="3.77" height="39.59" fill="#d20a10" fill-opacity="0.75"/>
<rect x="367.94" y="489.81" width="3.77" height="44.39" fill="#d20a10" fill-opacity="0.75"/>
<rect x="371.36" y="484.96" width="3.77" height="49.24" fill="#d20a10" fill-opacity="0.75"/>
<rect x="374.78" y="480.12" width="3.77" height="54.08" fill="#d20a10" fill-opacity="0.75"/>
<rect x="378.2" y="475.27" width="3.77" height="58.93" fill="#d20a10" fill-opacity="0.75"/>
<rect x="381.62" y="470.42" width="3.77" height="63.78" fill="#d20a10" fill-opacity="0.75"/>
<rect x="385.04" y="465.67" width="3.77" height="68.53" fill="#d20a10" fill-opacity="0.75"/>
<rect x="388.46" y="461.01" width="3.77" height="73.19" fill="#d20a10" fill-opacity="0.75"/>
<rect x="391.88" y="456.34" width="3.77" height="77.86" fill="#d20a10" fill-opacity="0.75"/>
<rect x="395.3" y="451.67" width="3.77" height="82.53" fill="#d20a10" fill-opacity="0.75"/>
<rect x="398.72" y="446.69" width="3.77" height="87.51" fill="#d20a10" fill-opacity="0.75"/>
<rect x="402.14" y="441.52" width="3.77" height="92.68" fill="#d20a10" fill-opacity="0.75"/>
<rect x="405.56" y="436.49" width="3.77" height="97.71" fill="#d20a10" fill-opacity="0.75"/>
<rect x="408.98" y="432.05" width="3.77" height="102.15" fill="#d20a10" fill-opacity="0.75"/>
<rect x="412.4" y="428.29" width="3.77" height="105.91" fill="#d20a10" fill-opacity="0.75"/>
<rect x="415.82" y="425.57" width="3.77" height="108.63" fill="#d20a10" fill-opacity="0.75"/>
<rect x="419.24" y="424.26" width="3.77" height="109.94" fill="#d20a10" fill-opacity="0.75"/>
<rect x="422.66" y="424.29" width="3.77" height="109.91" fill="#d20a10" fill-opacity="0.75"/>
<rect x="426.08" y="426.51" width="3.77" height="107.69" fill="#d20a10" fill-opacity="0.75"/>
<rect x="429.5" y="432.95" width="3.77" height="101.25" fill="#d20a10" fill-opacity="0.75"/>
<rect x="432.92" y="442.37" width="3.77" height="91.83" fill="#d20a10" fill-opacity="0.75"/>
<rect x="436.34" y="446" width="3.77" height="88.2" fill="#d20a10" fill-opacity="0.75"/>
</g>
<line x1="281.3" y1="413.7" x2="281.3" y2="532.2" stroke="#000" stroke-width="0.9" stroke-linecap="butt"/>
<line x1="436.2" y1="413.7" x2="436.2" y2="532.2" stroke="#000" stroke-width="0.9" stroke-linecap="butt"/>
<line x1="281.3" y1="413.7" x2="436.2" y2="413.7" stroke="#000" stroke-width="0.9" stroke-linecap="butt"/>
<line x1="281.3" y1="532.2" x2="436.2" y2="532.2" stroke="#000" stroke-width="0.9" stroke-linecap="butt"/>
<line x1="281.3" y1="532.2" x2="281.3" y2="535.7" stroke="#000" stroke-width="0.8" stroke-linecap="butt"/>
<text x="281.3" y="545.6" font-family='"Liberation Sans", sans-serif' font-size="9.11" text-anchor="middle" fill="#000" textLength="5.92" lengthAdjust="spacingAndGlyphs">0</text>
<line x1="320.02" y1="532.2" x2="320.02" y2="535.7" stroke="#000" stroke-width="0.8" stroke-linecap="butt"/>
<text x="320.02" y="545.6" font-family='"Liberation Sans", sans-serif' font-size="9.11" text-anchor="middle" fill="#000" textLength="11.83" lengthAdjust="spacingAndGlyphs">40</text>
<line x1="358.74" y1="532.2" x2="358.74" y2="535.7" stroke="#000" stroke-width="0.8" stroke-linecap="butt"/>
<text x="358.74" y="545.6" font-family='"Liberation Sans", sans-serif' font-size="9.11" text-anchor="middle" fill="#000" textLength="11.83" lengthAdjust="spacingAndGlyphs">80</text>
<line x1="397.46" y1="532.2" x2="397.46" y2="535.7" stroke="#000" stroke-width="0.8" stroke-linecap="butt"/>
<text x="397.46" y="545.6" font-family='"Liberation Sans", sans-serif' font-size="9.11" text-anchor="middle" fill="#000" textLength="17.75" lengthAdjust="spacingAndGlyphs">120</text>
<line x1="436.18" y1="532.2" x2="436.18" y2="535.7" stroke="#000" stroke-width="0.8" stroke-linecap="butt"/>
<text x="436.18" y="545.6" font-family='"Liberation Sans", sans-serif' font-size="9.11" text-anchor="middle" fill="#000" textLength="17.75" lengthAdjust="spacingAndGlyphs">160</text>
<line x1="300.66" y1="532.2" x2="300.66" y2="534.2" stroke="#000" stroke-width="0.6" stroke-linecap="butt"/>
<line x1="339.38" y1="532.2" x2="339.38" y2="534.2" stroke="#000" stroke-width="0.6" stroke-linecap="butt"/>
<line x1="378.1" y1="532.2" x2="378.1" y2="534.2" stroke="#000" stroke-width="0.6" stroke-linecap="butt"/>
<line x1="416.82" y1="532.2" x2="416.82" y2="534.2" stroke="#000" stroke-width="0.6" stroke-linecap="butt"/>
<line x1="277.8" y1="413.7" x2="281.3" y2="413.7" stroke="#000" stroke-width="0.8" stroke-linecap="butt"/>
<text x="259.26" y="417" font-family='"Liberation Sans", sans-serif' font-size="9.11" text-anchor="start" fill="#000" textLength="11.83" lengthAdjust="spacingAndGlyphs">10</text>
<text x="271.56" y="413.47" font-family='"Liberation Sans", sans-serif' font-size="6.38" text-anchor="start" fill="#000" textLength="4.14" lengthAdjust="spacingAndGlyphs">0</text>
<line x1="277.8" y1="443.3" x2="281.3" y2="443.3" stroke="#000" stroke-width="0.8" stroke-linecap="butt"/>
<text x="253.8" y="446.6" font-family='"Liberation Sans", sans-serif' font-size="9.11" text-anchor="start" fill="#000" textLength="11.83" lengthAdjust="spacingAndGlyphs">10</text>
<text x="266.1" y="443.07" font-family='"Liberation Sans", sans-serif' font-size="6.38" text-anchor="start" fill="#000" textLength="9.6" lengthAdjust="spacingAndGlyphs">−2</text>
<line x1="277.8" y1="472.9" x2="281.3" y2="472.9" stroke="#000" stroke-width="0.8" stroke-linecap="butt"/>
<text x="253.8" y="476.2" font-family='"Liberation Sans", sans-serif' font-size="9.11" text-anchor="start" fill="#000" textLength="11.83" lengthAdjust="spacingAndGlyphs">10</text>
<text x="266.1" y="472.67" font-family='"Liberation Sans", sans-serif' font-size="6.38" text-anchor="start" fill="#000" textLength="9.6" lengthAdjust="spacingAndGlyphs">−4</text>
<line x1="277.8" y1="502.5" x2="281.3" y2="502.5" stroke="#000" stroke-width="0.8" stroke-linecap="butt"/>
<text x="253.8" y="505.8" font-family='"Liberation Sans", sans-serif' font-size="9.11" text-anchor="start" fill="#000" textLength="11.83" lengthAdjust="spacingAndGlyphs">10</text>
<text x="266.1" y="502.27" font-family='"Liberation Sans", sans-serif' font-size="6.38" text-anchor="start" fill="#000" textLength="9.6" lengthAdjust="spacingAndGlyphs">−6</text>
<line x1="277.8" y1="532.1" x2="281.3" y2="532.1" stroke="#000" stroke-width="0.8" stroke-linecap="butt"/>
<text x="253.8" y="535.4" font-family='"Liberation Sans", sans-serif' font-size="9.11" text-anchor="start" fill="#000" textLength="11.83" lengthAdjust="spacingAndGlyphs">10</text>
<text x="266.1" y="531.87" font-family='"Liberation Sans", sans-serif' font-size="6.38" text-anchor="start" fill="#000" textLength="9.6" lengthAdjust="spacingAndGlyphs">−8</text>
<line x1="279.3" y1="424.04" x2="281.3" y2="424.04" stroke="#000" stroke-width="0.6" stroke-linecap="butt"/>
<line x1="279.3" y1="421.44" x2="281.3" y2="421.44" stroke="#000" stroke-width="0.6" stroke-linecap="butt"/>
<line x1="279.3" y1="419.59" x2="281.3" y2="419.59" stroke="#000" stroke-width="0.6" stroke-linecap="butt"/>
<line x1="279.3" y1="418.16" x2="281.3" y2="418.16" stroke="#000" stroke-width="0.6" stroke-linecap="butt"/>
<line x1="279.3" y1="416.98" x2="281.3" y2="416.98" stroke="#000" stroke-width="0.6" stroke-linecap="butt"/>
<line x1="279.3" y1="415.99" x2="281.3" y2="415.99" stroke="#000" stroke-width="0.6" stroke-linecap="butt"/>
<line x1="279.3" y1="415.13" x2="281.3" y2="415.13" stroke="#000" stroke-width="0.6" stroke-linecap="butt"/>
<line x1="279.3" y1="414.38" x2="281.3" y2="414.38" stroke="#000" stroke-width="0.6" stroke-linecap="butt"/>
<line x1="279.3" y1="438.84" x2="281.3" y2="438.84" stroke="#000" stroke-width="0.6" stroke-linecap="butt"/>
<line x1="279.3" y1="436.24" x2="281.3" y2="436.24" stroke="#000" stroke-width="0.6" stroke-linecap="butt"/>
<line x1="279.3" y1="434.39" x2="281.3" y2="434.39" stroke="#000" stroke-width="0.6" stroke-linecap="butt"/>
<line x1="279.3" y1="432.96" x2="281.3" y2="432.96" stroke="#000" stroke-width="0.6" stroke-linecap="butt"/>
<line x1="279.3" y1="431.78" x2="281.3" y2="431.78" stroke="#000" stroke-width="0.6" stroke-linecap="butt"/>
<line x1="279.3" y1="430.79" x2="281.3" y2="430.79" stroke="#000" stroke-width="0.6" stroke-linecap="butt"/>
<line x1="279.3" y1="429.93" x2="281.3" y2="429.93" stroke="#000" stroke-width="0.6" stroke-linecap="butt"/>
<line x1="279.3" y1="429.18" x2="281.3" y2="429.18" stroke="#000" stroke-width="0.6" stroke-linecap="butt"/>
<line x1="279.3" y1="453.64" x2="281.3" y2="453.64" stroke="#000" stroke-width="0.6" stroke-linecap="butt"/>
<line x1="279.3" y1="451.04" x2="281.3" y2="451.04" stroke="#000" stroke-width="0.6" stroke-linecap="butt"/>
<line x1="279.3" y1="449.19" x2="281.3" y2="449.19" stroke="#000" stroke-width="0.6" stroke-linecap="butt"/>
<line x1="279.3" y1="447.76" x2="281.3" y2="447.76" stroke="#000" stroke-width="0.6" stroke-linecap="butt"/>
<line x1="279.3" y1="446.58" x2="281.3" y2="446.58" stroke="#000" stroke-width="0.6" stroke-linecap="butt"/>
<line x1="279.3" y1="445.59" x2="281.3" y2="445.59" stroke="#000" stroke-width="0.6" stroke-linecap="butt"/>
<line x1="279.3" y1="444.73" x2="281.3" y2="444.73" stroke="#000" stroke-width="0.6" stroke-linecap="butt"/>
<line x1="279.3" y1="443.98" x2="281.3" y2="443.98" stroke="#000" stroke-width="0.6" stroke-linecap="butt"/>
<line x1="279.3" y1="468.44" x2="281.3" y2="468.44" stroke="#000" stroke-width="0.6" stroke-linecap="butt"/>
<line x1="279.3" y1="465.84" x2="281.3" y2="465.84" stroke="#000" stroke-width="0.6" stroke-linecap="butt"/>
<line x1="279.3" y1="463.99" x2="281.3" y2="463.99" stroke="#000" stroke-width="0.6" stroke-linecap="butt"/>
<line x1="279.3" y1="462.56" x2="281.3" y2="462.56" stroke="#000" stroke-width="0.6" stroke-linecap="butt"/>
<line x1="279.3" y1="461.38" x2="281.3" y2="461.38" stroke="#000" stroke-width="0.6" stroke-linecap="butt"/>
<line x1="279.3" y1="460.39" x2="281.3" y2="460.39" stroke="#000" stroke-width="0.6" stroke-linecap="butt"/>
<line x1="279.3" y1="459.53" x2="281.3" y2="459.53" stroke="#000" stroke-width="0.6" stroke-linecap="butt"/>
<line x1="279.3" y1="458.78" x2="281.3" y2="458.78" stroke="#000" stroke-width="0.6" stroke-linecap="butt"/>
<line x1="279.3" y1="483.24" x2="281.3" y2="483.24" stroke="#000" stroke-width="0.6" stroke-linecap="butt"/>
<line x1="279.3" y1="480.64" x2="281.3" y2="480.64" stroke="#000" stroke-width="0.6" stroke-linecap="butt"/>
<line x1="279.3" y1="478.79" x2="281.3" y2="478.79" stroke="#000" stroke-width="0.6" stroke-linecap="butt"/>
<line x1="279.3" y1="477.36" x2="281.3" y2="477.36" stroke="#000" stroke-width="0.6" stroke-linecap="butt"/>
<line x1="279.3" y1="476.18" x2="281.3" y2="476.18" stroke="#000" stroke-width="0.6" stroke-linecap="butt"/>
<line x1="279.3" y1="475.19" x2="281.3" y2="475.19" stroke="#000" stroke-width="0.6" stroke-linecap="butt"/>
<line x1="279.3" y1="474.33" x2="281.3" y2="474.33" stroke="#000" stroke-width="0.6" stroke-linecap="butt"/>
<line x1="279.3" y1="473.58" x2="281.3" y2="473.58" stroke="#000" stroke-width="0.6" stroke-linecap="butt"/>
<line x1="279.3" y1="498.04" x2="281.3" y2="498.04" stroke="#000" stroke-width="0.6" stroke-linecap="butt"/>
<line x1="279.3" y1="495.44" x2="281.3" y2="495.44" stroke="#000" stroke-width="0.6" stroke-linecap="butt"/>
<line x1="279.3" y1="493.59" x2="281.3" y2="493.59" stroke="#000" stroke-width="0.6" stroke-linecap="butt"/>
<line x1="279.3" y1="492.16" x2="281.3" y2="492.16" stroke="#000" stroke-width="0.6" stroke-linecap="butt"/>
<line x1="279.3" y1="490.98" x2="281.3" y2="490.98" stroke="#000" stroke-width="0.6" stroke-linecap="butt"/>
<line x1="279.3" y1="489.99" x2="281.3" y2="489.99" stroke="#000" stroke-width="0.6" stroke-linecap="butt"/>
<line x1="279.3" y1="489.13" x2="281.3" y2="489.13" stroke="#000" stroke-width="0.6" stroke-linecap="butt"/>
<line x1="279.3" y1="488.38" x2="281.3" y2="488.38" stroke="#000" stroke-width="0.6" stroke-linecap="butt"/>
<line x1="279.3" y1="512.84" x2="281.3" y2="512.84" stroke="#000" stroke-width="0.6" stroke-linecap="butt"/>
<line x1="279.3" y1="510.24" x2="281.3" y2="510.24" stroke="#000" stroke-width="0.6" stroke-linecap="butt"/>
<line x1="279.3" y1="508.39" x2="281.3" y2="508.39" stroke="#000" stroke-width="0.6" stroke-linecap="butt"/>
<line x1="279.3" y1="506.96" x2="281.3" y2="506.96" stroke="#000" stroke-width="0.6" stroke-linecap="butt"/>
<line x1="279.3" y1="505.78" x2="281.3" y2="505.78" stroke="#000" stroke-width="0.6" stroke-linecap="butt"/>
<line x1="279.3" y1="504.79" x2="281.3" y2="504.79" stroke="#000" stroke-width="0.6" stroke-linecap="butt"/>
<line x1="279.3" y1="503.93" x2="281.3" y2="503.93" stroke="#000" stroke-width="0.6" stroke-linecap="butt"/>
<line x1="279.3" y1="503.18" x2="281.3" y2="503.18" stroke="#000" stroke-width="0.6" stroke-linecap="butt"/>
<line x1="279.3" y1="527.64" x2="281.3" y2="527.64" stroke="#000" stroke-width="0.6" stroke-linecap="butt"/>
<line x1="279.3" y1="525.04" x2="281.3" y2="525.04" stroke="#000" stroke-width="0.6" stroke-linecap="butt"/>
<line x1="279.3" y1="523.19" x2="281.3" y2="523.19" stroke="#000" stroke-width="0.6" stroke-linecap="butt"/>
<line x1="279.3" y1="521.76" x2="281.3" y2="521.76" stroke="#000" stroke-width="0.6" stroke-linecap="butt"/>
<line x1="279.3" y1="520.58" x2="281.3" y2="520.58" stroke="#000" stroke-width="0.6" stroke-linecap="butt"/>
<line x1="279.3" y1="519.59" x2="281.3" y2="519.59" stroke="#000" stroke-width="0.6" stroke-linecap="butt"/>
<line x1="279.3" y1="518.73" x2="281.3" y2="518.73" stroke="#000" stroke-width="0.6" stroke-linecap="butt"/>
<line x1="279.3" y1="517.98" x2="281.3" y2="517.98" stroke="#000" stroke-width="0.6" stroke-linecap="butt"/>
<text x="319.28" y="557.5" font-family='"Liberation Sans", sans-serif' font-size="9.11" text-anchor="start" fill="#000" textLength="69.99" lengthAdjust="spacingAndGlyphs">LZ Complexity,</text>
<text x="392.22" y="557.5" font-family='"Liberation Sans", sans-serif' font-size="9.11" text-anchor="start" fill="#000" font-style="italic" textLength="6.1" lengthAdjust="spacingAndGlyphs">K</text>
<g transform="rotate(-90 248.8 473.2)">
<text x="239.32" y="473.2" font-family='"Liberation Sans", sans-serif' font-size="9.11" text-anchor="start" fill="#000" font-style="italic" textLength="5.61" lengthAdjust="spacingAndGlyphs">P</text>
<text x="244.93" y="473.2" font-family='"Liberation Sans", sans-serif' font-size="9.11" text-anchor="start" fill="#000" textLength="3.63" lengthAdjust="spacingAndGlyphs">(</text>
<text x="248.55" y="473.2" font-family='"Liberation Sans", sans-serif' font-size="9.11" text-anchor="start" fill="#000" font-style="italic" textLength="6.1" lengthAdjust="spacingAndGlyphs">K</text>
<text x="254.65" y="473.2" font-family='"Liberation Sans", sans-serif' font-size="9.11" text-anchor="start" fill="#000" textLength="3.63" lengthAdjust="spacingAndGlyphs">)</text>
</g>
<rect x="284.8" y="496.4" width="47.8" height="33.1" rx="1.5" fill="#fff" fill-opacity="0.8" stroke="#cccccc" stroke-width="0.7"/>
<text x="295.46" y="504.6" font-family='"Liberation Sans", sans-serif' font-size="6.17" text-anchor="start" fill="#000" font-style="italic" textLength="3.99" lengthAdjust="spacingAndGlyphs">σ</text>
<text x="299.45" y="505.86" font-family='"Liberation Sans", sans-serif' font-size="4.32" text-anchor="start" fill="#000" font-style="italic" textLength="3.61" lengthAdjust="spacingAndGlyphs">w</text>
<text x="308.42" y="504.6" font-family='"Liberation Sans", sans-serif' font-size="6.17" text-anchor="middle" fill="#000">|</text>
<text x="313.77" y="504.6" font-family='"Liberation Sans", sans-serif' font-size="6.17" text-anchor="start" fill="#000" font-style="italic" textLength="4.71" lengthAdjust="spacingAndGlyphs">N</text>
<text x="318.48" y="505.86" font-family='"Liberation Sans", sans-serif' font-size="4.32" text-anchor="start" fill="#000" font-style="italic" textLength="2.46" lengthAdjust="spacingAndGlyphs">L</text>
<rect x="287.1" y="510.5" width="12.9" height="4" fill="#1f77b4" fill-opacity="0.72"/>
<rect x="287.1" y="520.6" width="12.9" height="4" fill="#d20a10" fill-opacity="0.75"/>
<text x="305.4" y="514.6" font-family='"Liberation Sans", sans-serif' font-size="6.47" text-anchor="start" fill="#000" textLength="25.32" lengthAdjust="spacingAndGlyphs">1.0 | 10</text>
<text x="305.4" y="524.7" font-family='"Liberation Sans", sans-serif' font-size="6.47" text-anchor="start" fill="#000" textLength="25.32" lengthAdjust="spacingAndGlyphs">8.0 | 10</text>
</g>
<g>
<clipPath id="cpi"><rect x="513.6" y="432.6" width="155.0" height="104.60000000000002"/></clipPath>
<g clip-path="url(#cpi)">
<rect x="553.5" y="527" width="113.3" height="8" fill="#1f77b4" fill-opacity="0.22"/>
<rect x="553.5" y="527" width="32" height="8" fill="#1f77b4" fill-opacity="0.25"/>
<polygon points="585,492 595,485.7 606.8,469.1 618.7,453.7 630.5,444.2 642.4,438.3 654.2,437.1 663.2,437.1 663.2,468.5 642.4,468.5 630.5,470.9 618.7,477.4 606.8,488.1 598.8,499.6 585,500.5" fill="#d62728" fill-opacity="0.45"/>
<polygon points="553.5,521.5 556,519 560,512.5 565.5,512.5 568,511 575,504 585,492 595,484.2 606.8,467.6 618.7,452.2 630.5,442.7 642.4,436.8 654.2,435.8 666.7,435.8 666.7,469 642.4,469.5 630.5,472 618.7,478 606.8,489 595,500.5 585,509 570,523 560,528 553.5,533.5" fill="#006400" fill-opacity="0.45"/>
<polyline points="585,500.5 598.8,499.6 606.8,488.1 618.7,477.4 630.5,470.9 642.4,468.5 663.2,468.5" fill="none" stroke="#f06464" stroke-width="1" stroke-linejoin="round" stroke-linecap="butt" stroke-opacity="0.9"/>
<circle cx="555" cy="532.5" r="1.7" fill="#1f77b4"/>
<circle cx="558.4" cy="532.5" r="1.7" fill="#1f77b4"/>
<circle cx="561.8" cy="532.5" r="1.7" fill="#1f77b4"/>
<circle cx="565.2" cy="532.5" r="1.7" fill="#1f77b4"/>
<circle cx="568.6" cy="532.5" r="1.7" fill="#1f77b4"/>
<circle cx="572" cy="532.5" r="1.7" fill="#1f77b4"/>
<circle cx="575.4" cy="532.5" r="1.7" fill="#1f77b4"/>
<circle cx="578.8" cy="532.5" r="1.7" fill="#1f77b4"/>
<circle cx="582.2" cy="532.5" r="1.7" fill="#1f77b4"/>
<circle cx="585.6" cy="532.5" r="1.7" fill="#1f77b4"/>
<polyline points="520.3,453.8 530.1,455.7 532.9,493.3 539.5,495.2 552.5,528.7 553.9,533.5 667,533.5" fill="none" stroke="#4cbb4c" stroke-width="1.5" stroke-linejoin="round" stroke-linecap="round" stroke-dasharray="0.1,2.6"/>
<polyline points="538,446.8 540.4,448.6 543.2,458.3 549.7,458.3 553.6,533" fill="none" stroke="#7fa6cc" stroke-width="1.5" stroke-linejoin="round" stroke-linecap="butt" stroke-opacity="0.7"/>
<circle cx="540.4" cy="448.6" r="1.7" fill="#6c94c0" fill-opacity="0.85"/>
<circle cx="543.2" cy="458.3" r="1.7" fill="#6c94c0" fill-opacity="0.85"/>
<circle cx="546.4" cy="458.3" r="1.7" fill="#6c94c0" fill-opacity="0.85"/>
<circle cx="549.7" cy="458.3" r="1.7" fill="#6c94c0" fill-opacity="0.85"/>
<polyline points="520.3,446.8 547.5,446.8 549.6,447 553.6,531" fill="none" stroke="#8fd48f" stroke-width="1.5" stroke-linejoin="round" stroke-linecap="butt" stroke-opacity="0.8"/>
<circle cx="520.3" cy="446.8" r="1.8" fill="#6cc46c" fill-opacity="0.9"/>
<circle cx="530.5" cy="446.8" r="1.8" fill="#6cc46c" fill-opacity="0.9"/>
<circle cx="532.9" cy="446.8" r="1.8" fill="#6cc46c" fill-opacity="0.9"/>
<circle cx="535.7" cy="446.8" r="1.8" fill="#6cc46c" fill-opacity="0.9"/>
<circle cx="538.5" cy="446.8" r="1.8" fill="#6cc46c" fill-opacity="0.9"/>
<circle cx="541.3" cy="446.8" r="1.8" fill="#6cc46c" fill-opacity="0.9"/>
<circle cx="544.1" cy="446.8" r="1.8" fill="#6cc46c" fill-opacity="0.9"/>
<circle cx="547.5" cy="446.8" r="1.8" fill="#6cc46c" fill-opacity="0.9"/>
<circle cx="584.8" cy="503" r="1.7" fill="#964b14"/>
<circle cx="588.2" cy="499.3" r="1.7" fill="#964b14"/>
<circle cx="591.6" cy="495.5" r="1.7" fill="#964b14"/>
<circle cx="595" cy="492.4" r="1.7" fill="#964b14"/>
<circle cx="597.4" cy="488.8" r="1.7" fill="#964b14"/>
<circle cx="601.5" cy="485.2" r="1.7" fill="#964b14"/>
<circle cx="605.1" cy="482.2" r="1.7" fill="#964b14"/>
<circle cx="608.6" cy="478.7" r="1.7" fill="#964b14"/>
<circle cx="612.2" cy="475.7" r="1.7" fill="#964b14"/>
<circle cx="615.1" cy="472.8" r="1.7" fill="#964b14"/>
<circle cx="618.7" cy="469.2" r="1.7" fill="#964b14"/>
<circle cx="622" cy="466.8" r="1.7" fill="#964b14"/>
<circle cx="625.6" cy="463.9" r="1.7" fill="#964b14"/>
<circle cx="628.8" cy="460.9" r="1.7" fill="#964b14"/>
<circle cx="632.3" cy="458.6" r="1.7" fill="#964b14"/>
<circle cx="635.6" cy="456.8" r="1.7" fill="#964b14"/>
<circle cx="638.8" cy="455.6" r="1.7" fill="#964b14"/>
<circle cx="642.4" cy="455.9" r="1.7" fill="#964b14"/>
<circle cx="645.9" cy="455.3" r="1.7" fill="#964b14"/>
<circle cx="648.9" cy="454.9" r="1.7" fill="#964b14"/>
<circle cx="652.5" cy="454.9" r="1.7" fill="#964b14"/>
<circle cx="655.4" cy="454.9" r="1.7" fill="#964b14"/>
<circle cx="659" cy="454.9" r="1.7" fill="#964b14"/>
<circle cx="662.5" cy="454.9" r="1.7" fill="#964b14"/>
<circle cx="666.1" cy="454.9" r="1.7" fill="#964b14"/>
<circle cx="553.9" cy="530.6" r="2" fill="#229a44"/>
<circle cx="557.5" cy="525" r="2" fill="#229a44"/>
<circle cx="561" cy="520.9" r="2" fill="#229a44"/>
<circle cx="564.3" cy="521.3" r="2" fill="#229a44"/>
<circle cx="567.7" cy="517.5" r="2" fill="#229a44"/>
<circle cx="571" cy="514.7" r="2" fill="#229a44"/>
<circle cx="574.5" cy="511.6" r="2" fill="#229a44"/>
<circle cx="578" cy="508.2" r="2" fill="#229a44"/>
<circle cx="581.4" cy="505" r="2" fill="#229a44"/>
<circle cx="584.8" cy="501.7" r="2" fill="#229a44"/>
<circle cx="588.2" cy="498" r="2" fill="#229a44"/>
<circle cx="591.6" cy="494.2" r="2" fill="#229a44"/>
<circle cx="595" cy="491.1" r="2" fill="#229a44"/>
<circle cx="597.4" cy="487.5" r="2" fill="#229a44"/>
<circle cx="601.5" cy="483.9" r="2" fill="#229a44"/>
<circle cx="605.1" cy="480.9" r="2" fill="#229a44"/>
<circle cx="608.6" cy="477.4" r="2" fill="#229a44"/>
<circle cx="612.2" cy="474.4" r="2" fill="#229a44"/>
<circle cx="615.1" cy="471.5" r="2" fill="#229a44"/>
<circle cx="618.7" cy="467.9" r="2" fill="#229a44"/>
<circle cx="622" cy="465.5" r="2" fill="#229a44"/>
<circle cx="625.6" cy="462.6" r="2" fill="#229a44"/>
<circle cx="628.8" cy="459.6" r="2" fill="#229a44"/>
<circle cx="632.3" cy="457.3" r="2" fill="#229a44"/>
<circle cx="635.6" cy="455.5" r="2" fill="#229a44"/>
<circle cx="638.8" cy="454.3" r="2" fill="#229a44"/>
<circle cx="642.4" cy="453.5" r="2" fill="#229a44"/>
<circle cx="645.9" cy="452.9" r="2" fill="#229a44"/>
<circle cx="648.9" cy="452.5" r="2" fill="#229a44"/>
<circle cx="652.5" cy="452.5" r="2" fill="#229a44"/>
<circle cx="655.4" cy="452.5" r="2" fill="#229a44"/>
<circle cx="659" cy="452.5" r="2" fill="#229a44"/>
<circle cx="662.5" cy="452.5" r="2" fill="#229a44"/>
<circle cx="666.1" cy="452.5" r="2" fill="#229a44"/>
<polyline points="554.2,499.8 568.5,486.9 578,479.7 587.4,473.3 596.9,467 606.4,460.7 615,454.7 617.8,450.5 625.4,447.5 634.9,443.7 644.4,440.8 653.9,439.1 666.7,438.5" fill="none" stroke="#1d4d2c" stroke-width="1.4" stroke-linejoin="round" stroke-linecap="butt"/>
<polyline points="554.2,500.2 568.5,493.6 578,489.8 587.4,486 596.9,481.2 606.4,477.4 615.9,472.1 625.4,466.1 634.9,458.5 644.4,454.7 653.9,453.1 666.7,452.4" fill="none" stroke="#1f9a3a" stroke-width="1.4" stroke-linejoin="round" stroke-linecap="butt"/>
<line x1="554" y1="432.6" x2="554" y2="537.2" stroke="#808080" stroke-width="1.3" stroke-linecap="butt" stroke-dasharray="3.2,1.8"/>
</g>
<line x1="513.6" y1="432.6" x2="513.6" y2="537.2" stroke="#000" stroke-width="0.9" stroke-linecap="butt"/>
<line x1="668.6" y1="432.6" x2="668.6" y2="537.2" stroke="#000" stroke-width="0.9" stroke-linecap="butt"/>
<line x1="513.6" y1="432.6" x2="668.6" y2="432.6" stroke="#000" stroke-width="0.9" stroke-linecap="butt"/>
<line x1="513.6" y1="537.2" x2="668.6" y2="537.2" stroke="#000" stroke-width="0.9" stroke-linecap="butt"/>
<line x1="513.6" y1="537.2" x2="513.6" y2="540.7" stroke="#000" stroke-width="0.8" stroke-linecap="butt"/>
<text x="513.6" y="549.5" font-family='"Liberation Sans", sans-serif' font-size="9.11" text-anchor="middle" fill="#000" textLength="5.92" lengthAdjust="spacingAndGlyphs">0</text>
<line x1="552.4" y1="537.2" x2="552.4" y2="540.7" stroke="#000" stroke-width="0.8" stroke-linecap="butt"/>
<text x="552.4" y="549.5" font-family='"Liberation Sans", sans-serif' font-size="9.11" text-anchor="middle" fill="#000" textLength="11.83" lengthAdjust="spacingAndGlyphs">40</text>
<line x1="591.2" y1="537.2" x2="591.2" y2="540.7" stroke="#000" stroke-width="0.8" stroke-linecap="butt"/>
<text x="591.2" y="549.5" font-family='"Liberation Sans", sans-serif' font-size="9.11" text-anchor="middle" fill="#000" textLength="11.83" lengthAdjust="spacingAndGlyphs">80</text>
<line x1="630" y1="537.2" x2="630" y2="540.7" stroke="#000" stroke-width="0.8" stroke-linecap="butt"/>
<text x="630" y="549.5" font-family='"Liberation Sans", sans-serif' font-size="9.11" text-anchor="middle" fill="#000" textLength="17.75" lengthAdjust="spacingAndGlyphs">120</text>
<line x1="668.8" y1="537.2" x2="668.8" y2="540.7" stroke="#000" stroke-width="0.8" stroke-linecap="butt"/>
<text x="668.8" y="549.5" font-family='"Liberation Sans", sans-serif' font-size="9.11" text-anchor="middle" fill="#000" textLength="17.75" lengthAdjust="spacingAndGlyphs">160</text>
<line x1="510.1" y1="533.7" x2="513.6" y2="533.7" stroke="#000" stroke-width="0.8" stroke-linecap="butt"/>
<text x="506.2" y="537" font-family='"Liberation Sans", sans-serif' font-size="9.11" text-anchor="end" fill="#000" textLength="14.79" lengthAdjust="spacingAndGlyphs">0.0</text>
<line x1="510.1" y1="501" x2="513.6" y2="501" stroke="#000" stroke-width="0.8" stroke-linecap="butt"/>
<text x="506.2" y="504.3" font-family='"Liberation Sans", sans-serif' font-size="9.11" text-anchor="end" fill="#000" textLength="14.79" lengthAdjust="spacingAndGlyphs">0.2</text>
<line x1="510.1" y1="468.3" x2="513.6" y2="468.3" stroke="#000" stroke-width="0.8" stroke-linecap="butt"/>
<text x="506.2" y="471.6" font-family='"Liberation Sans", sans-serif' font-size="9.11" text-anchor="end" fill="#000" textLength="14.79" lengthAdjust="spacingAndGlyphs">0.4</text>
<line x1="510.1" y1="435.6" x2="513.6" y2="435.6" stroke="#000" stroke-width="0.8" stroke-linecap="butt"/>
<text x="506.2" y="438.9" font-family='"Liberation Sans", sans-serif' font-size="9.11" text-anchor="end" fill="#000" textLength="14.79" lengthAdjust="spacingAndGlyphs">0.6</text>
<text x="591" y="560.3" font-family='"Liberation Sans", sans-serif' font-size="9.11" text-anchor="middle" fill="#000" textLength="180" lengthAdjust="spacingAndGlyphs">Cutoff LZ Complexity (Model Capacity)</text>
<text x="485.6" y="484.6" font-family='"Liberation Sans", sans-serif' font-size="9.11" text-anchor="middle" fill="#000" textLength="22.67" lengthAdjust="spacingAndGlyphs" transform="rotate(-90 485.6 484.6)">Error</text>
<rect x="489.4" y="409.2" width="195" height="19.1" rx="1.5" fill="#fff" fill-opacity="0.8" stroke="#cccccc" stroke-width="0.7"/>
<circle cx="498.1" cy="413.9" r="1.6" fill="#1f77b4"/>
<circle cx="498.1" cy="422.7" r="1.6" fill="#e8000b"/>
<text x="509.8" y="416.2" font-family='"Liberation Sans", sans-serif' font-size="6.47" text-anchor="start" fill="#000" font-style="italic" textLength="3.57" lengthAdjust="spacingAndGlyphs">ε</text>
<text x="513.37" y="417.5" font-family='"Liberation Sans", sans-serif' font-size="4.53" text-anchor="start" fill="#000" font-style="italic" textLength="3.58" lengthAdjust="spacingAndGlyphs">G</text>
<text x="519.05" y="416.2" font-family='"Liberation Sans", sans-serif' font-size="6.47" text-anchor="start" fill="#000" textLength="23.34" lengthAdjust="spacingAndGlyphs">| 10 | 1</text>
<text x="509.8" y="425" font-family='"Liberation Sans", sans-serif' font-size="6.47" text-anchor="start" fill="#000" font-style="italic" textLength="3.57" lengthAdjust="spacingAndGlyphs">ε</text>
<text x="513.37" y="426.3" font-family='"Liberation Sans", sans-serif' font-size="4.53" text-anchor="start" fill="#000" font-style="italic" textLength="3.58" lengthAdjust="spacingAndGlyphs">G</text>
<text x="519.05" y="425" font-family='"Liberation Sans", sans-serif' font-size="6.47" text-anchor="start" fill="#000" textLength="23.34" lengthAdjust="spacingAndGlyphs">| 10 | 8</text>
<circle cx="560.9" cy="413.9" r="1.6" fill="#239b3a"/>
<line x1="554.4" y1="422.7" x2="567" y2="422.7" stroke="#4cbb4c" stroke-width="1.5" stroke-linecap="round" stroke-dasharray="0.1,2.6"/>
<text x="572.6" y="416.2" font-family='"Liberation Sans", sans-serif' font-size="6.47" text-anchor="start" fill="#000" font-style="italic" textLength="3.57" lengthAdjust="spacingAndGlyphs">ε</text>
<text x="576.17" y="417.5" font-family='"Liberation Sans", sans-serif' font-size="4.53" text-anchor="start" fill="#000" font-style="italic" textLength="3.58" lengthAdjust="spacingAndGlyphs">G</text>
<text x="581.85" y="416.2" font-family='"Liberation Sans", sans-serif' font-size="6.47" text-anchor="start" fill="#000" textLength="30.12" lengthAdjust="spacingAndGlyphs">unbiased</text>
<text x="572.6" y="425" font-family='"Liberation Sans", sans-serif' font-size="6.47" text-anchor="start" fill="#000" font-style="italic" textLength="3.57" lengthAdjust="spacingAndGlyphs">ε</text>
<text x="576.17" y="426.3" font-family='"Liberation Sans", sans-serif' font-size="4.53" text-anchor="start" fill="#000" font-style="italic" textLength="2.93" lengthAdjust="spacingAndGlyphs">S</text>
<text x="581.2" y="425" font-family='"Liberation Sans", sans-serif' font-size="6.47" text-anchor="start" fill="#000" textLength="36.54" lengthAdjust="spacingAndGlyphs">|  unbiased</text>
<line x1="629.3" y1="414.1" x2="643" y2="414.1" stroke="#1f9a3a" stroke-width="1.5" stroke-linecap="butt"/>
<line x1="629.3" y1="421.9" x2="643" y2="421.9" stroke="#1d4d2c" stroke-width="1.5" stroke-linecap="butt"/>
<text x="647.8" y="416.4" font-family='"Liberation Sans", sans-serif' font-size="6.47" text-anchor="start" fill="#000" textLength="34.69" lengthAdjust="spacingAndGlyphs">PAC-Bayes</text>
<text x="647.8" y="424.2" font-family='"Liberation Sans", sans-serif' font-size="6.47" text-anchor="start" fill="#000" textLength="12.57" lengthAdjust="spacingAndGlyphs">PAC</text>
</g>
<text x="102.3" y="178.4" font-family='"Liberation Serif", serif' font-size="15" text-anchor="middle" fill="#000">(a)</text>
<text x="340.8" y="178.4" font-family='"Liberation Serif", serif' font-size="15" text-anchor="middle" fill="#000">(b)</text>
<text x="581.3" y="178.4" font-family='"Liberation Serif", serif' font-size="15" text-anchor="middle" fill="#000">(c)</text>
<text x="102" y="393.65" font-family='"Liberation Serif", serif' font-size="15" text-anchor="middle" fill="#000">(d)</text>
<text x="341" y="393.65" font-family='"Liberation Serif", serif' font-size="15" text-anchor="middle" fill="#000">(e)</text>
<text x="581" y="393.65" font-family='"Liberation Serif", serif' font-size="15" text-anchor="middle" fill="#000">(f)</text>
<text x="102" y="587.9" font-family='"Liberation Serif", serif' font-size="15" text-anchor="middle" fill="#000">(g)</text>
<text x="341.8" y="587.9" font-family='"Liberation Serif", serif' font-size="15" text-anchor="middle" fill="#000">(h)</text>
<text x="581" y="587.9" font-family='"Liberation Serif", serif' font-size="15" text-anchor="middle" fill="#000">(i)</text>
</svg>
</body></html>
